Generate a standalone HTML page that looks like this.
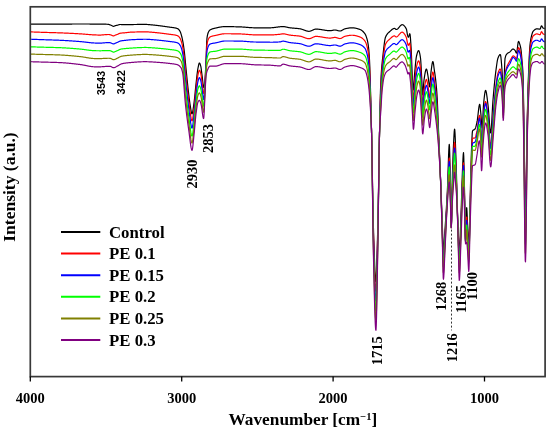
<!DOCTYPE html>
<html><head><meta charset="utf-8"><title>FTIR spectra</title>
<style>html,body{margin:0;padding:0;background:#fff;}svg{display:block;}</style>
</head><body>
<svg width="550" height="433" viewBox="0 0 550 433">
<rect width="550" height="433" fill="#fff"/>
<g fill="none" stroke-width="1.2" stroke-linejoin="round">
<path d="M30.50,24.20L30.75,24.20L31.00,24.20L31.25,24.20L31.50,24.20L31.75,24.20L32.00,24.20L32.25,24.20L32.50,24.20L32.75,24.20L33.00,24.20L33.25,24.20L33.50,24.20L33.75,24.20L34.00,24.20L34.25,24.20L34.50,24.20L34.75,24.20L35.00,24.20L35.25,24.20L35.50,24.20L35.75,24.20L36.00,24.20L36.25,24.20L36.50,24.20L36.75,24.20L37.00,24.20L37.25,24.20L37.50,24.20L37.75,24.20L38.00,24.20L38.25,24.20L38.50,24.20L38.75,24.20L39.00,24.20L39.25,24.20L39.50,24.20L39.75,24.20L40.00,24.20L40.25,24.20L40.50,24.20L40.75,24.20L41.00,24.20L41.25,24.20L41.50,24.20L41.75,24.20L42.00,24.20L42.25,24.20L42.50,24.20L42.75,24.20L43.00,24.20L43.25,24.20L43.50,24.19L43.75,24.19L44.00,24.19L44.25,24.19L44.50,24.19L44.75,24.19L45.00,24.19L45.25,24.19L45.50,24.19L45.75,24.19L46.00,24.18L46.25,24.18L46.50,24.18L46.75,24.18L47.00,24.18L47.25,24.18L47.50,24.18L47.75,24.18L48.00,24.17L48.25,24.17L48.50,24.17L48.75,24.17L49.00,24.17L49.25,24.17L49.50,24.17L49.75,24.16L50.00,24.16L50.25,24.16L50.50,24.16L50.75,24.16L51.00,24.16L51.25,24.15L51.50,24.15L51.75,24.15L52.00,24.15L52.25,24.15L52.50,24.15L52.75,24.14L53.00,24.14L53.25,24.14L53.50,24.14L53.75,24.14L54.00,24.14L54.25,24.13L54.50,24.13L54.75,24.13L55.00,24.13L55.25,24.13L55.50,24.13L55.75,24.12L56.00,24.12L56.25,24.12L56.50,24.12L56.75,24.12L57.00,24.12L57.25,24.12L57.50,24.11L57.75,24.11L58.00,24.11L58.25,24.11L58.50,24.11L58.75,24.11L59.00,24.11L59.25,24.10L59.50,24.10L59.75,24.10L60.00,24.10L60.25,24.10L60.50,24.10L60.75,24.10L61.00,24.09L61.25,24.09L61.50,24.09L61.75,24.09L62.00,24.09L62.25,24.09L62.50,24.09L62.75,24.08L63.00,24.08L63.25,24.08L63.50,24.08L63.75,24.08L64.00,24.08L64.25,24.08L64.50,24.07L64.75,24.07L65.00,24.07L65.25,24.07L65.50,24.07L65.75,24.07L66.00,24.06L66.25,24.06L66.50,24.06L66.75,24.06L67.00,24.06L67.25,24.06L67.50,24.05L67.75,24.05L68.00,24.05L68.25,24.05L68.50,24.05L68.75,24.05L69.00,24.04L69.25,24.04L69.50,24.04L69.75,24.04L70.00,24.04L70.25,24.04L70.50,24.03L70.75,24.03L71.00,24.03L71.25,24.03L71.50,24.03L71.75,24.03L72.00,24.03L72.25,24.02L72.50,24.02L72.75,24.02L73.00,24.02L73.25,24.02L73.50,24.02L73.75,24.02L74.00,24.02L74.25,24.01L74.50,24.01L74.75,24.01L75.00,24.01L75.25,24.01L75.50,24.01L75.75,24.01L76.00,24.01L76.25,24.01L76.50,24.01L76.75,24.00L77.00,24.00L77.25,24.00L77.50,24.00L77.75,24.00L78.00,24.00L78.25,24.00L78.50,24.00L78.75,24.00L79.00,24.00L79.25,24.00L79.50,24.00L79.75,24.00L80.00,24.00L80.25,24.00L80.50,24.00L80.75,24.00L81.00,24.00L81.25,24.00L81.50,24.00L81.75,24.00L82.00,24.00L82.25,24.00L82.50,24.00L82.75,24.00L83.00,24.00L83.25,24.00L83.50,24.00L83.75,24.00L84.00,24.00L84.25,24.01L84.50,24.01L84.75,24.01L85.00,24.01L85.25,24.01L85.50,24.01L85.75,24.01L86.00,24.01L86.25,24.01L86.50,24.01L86.75,24.01L87.00,24.01L87.25,24.01L87.50,24.02L87.75,24.02L88.00,24.02L88.25,24.02L88.50,24.02L88.75,24.02L89.00,24.02L89.25,24.02L89.50,24.02L89.75,24.03L90.00,24.03L90.25,24.03L90.50,24.03L90.75,24.03L91.00,24.03L91.25,24.03L91.50,24.04L91.75,24.04L92.00,24.04L92.25,24.04L92.50,24.04L92.75,24.04L93.00,24.04L93.25,24.05L93.50,24.05L93.75,24.05L94.00,24.05L94.25,24.05L94.50,24.05L94.75,24.06L95.00,24.06L95.25,24.06L95.50,24.06L95.75,24.06L96.00,24.07L96.25,24.07L96.50,24.07L96.75,24.07L97.00,24.07L97.25,24.08L97.50,24.08L97.75,24.08L98.00,24.08L98.25,24.08L98.50,24.09L98.75,24.09L99.00,24.09L99.25,24.09L99.50,24.10L99.75,24.10L100.00,24.10L100.25,24.10L100.50,24.10L100.75,24.11L101.00,24.11L101.25,24.11L101.50,24.12L101.75,24.12L102.00,24.12L102.25,24.13L102.50,24.13L102.75,24.13L103.00,24.14L103.25,24.14L103.50,24.15L103.75,24.15L104.00,24.16L104.25,24.16L104.50,24.17L104.75,24.17L105.00,24.18L105.25,24.19L105.50,24.20L105.75,24.20L106.00,24.21L106.25,24.22L106.50,24.23L106.75,24.24L107.00,24.25L107.25,24.26L107.50,24.27L107.75,24.29L108.00,24.30L108.25,24.32L108.50,24.36L108.75,24.41L109.00,24.48L109.25,24.55L109.50,24.64L109.75,24.73L110.00,24.82L110.25,24.92L110.50,25.01L110.75,25.11L111.00,25.20L111.25,25.30L111.50,25.42L111.75,25.56L112.00,25.70L112.25,25.84L112.50,25.97L112.75,26.09L113.00,26.19L113.25,26.26L113.50,26.30L113.75,26.29L114.00,26.24L114.25,26.15L114.50,26.04L114.75,25.91L115.00,25.79L115.25,25.68L115.50,25.60L115.75,25.54L116.00,25.49L116.25,25.44L116.50,25.39L116.75,25.35L117.00,25.30L117.25,25.25L117.50,25.20L117.75,25.13L118.00,25.05L118.25,24.96L118.50,24.87L118.75,24.78L119.00,24.69L119.25,24.61L119.50,24.55L119.75,24.51L120.00,24.50L120.25,24.50L120.50,24.51L120.75,24.51L121.00,24.52L121.25,24.53L121.50,24.54L121.75,24.56L122.00,24.57L122.25,24.59L122.50,24.60L122.75,24.61L123.00,24.63L123.25,24.64L123.50,24.66L123.75,24.67L124.00,24.68L124.25,24.69L124.50,24.69L124.75,24.70L125.00,24.70L125.25,24.70L125.50,24.70L125.75,24.70L126.00,24.70L126.25,24.69L126.50,24.69L126.75,24.69L127.00,24.68L127.25,24.68L127.50,24.68L127.75,24.67L128.00,24.67L128.25,24.66L128.50,24.65L128.75,24.65L129.00,24.64L129.25,24.64L129.50,24.63L129.75,24.62L130.00,24.62L130.25,24.61L130.50,24.60L130.75,24.60L131.00,24.59L131.25,24.58L131.50,24.58L131.75,24.57L132.00,24.56L132.25,24.56L132.50,24.55L132.75,24.54L133.00,24.54L133.25,24.53L133.50,24.53L133.75,24.52L134.00,24.52L134.25,24.51L134.50,24.51L134.75,24.50L135.00,24.50L135.25,24.50L135.50,24.49L135.75,24.49L136.00,24.49L136.25,24.48L136.50,24.48L136.75,24.48L137.00,24.47L137.25,24.47L137.50,24.47L137.75,24.46L138.00,24.46L138.25,24.46L138.50,24.45L138.75,24.45L139.00,24.45L139.25,24.44L139.50,24.44L139.75,24.44L140.00,24.43L140.25,24.43L140.50,24.43L140.75,24.42L141.00,24.42L141.25,24.42L141.50,24.42L141.75,24.42L142.00,24.41L142.25,24.41L142.50,24.41L142.75,24.41L143.00,24.41L143.25,24.40L143.50,24.40L143.75,24.40L144.00,24.40L144.25,24.40L144.50,24.40L144.75,24.40L145.00,24.40L145.25,24.40L145.50,24.40L145.75,24.41L146.00,24.42L146.25,24.43L146.50,24.44L146.75,24.45L147.00,24.46L147.25,24.48L147.50,24.50L147.75,24.51L148.00,24.53L148.25,24.55L148.50,24.57L148.75,24.60L149.00,24.62L149.25,24.64L149.50,24.66L149.75,24.69L150.00,24.71L150.25,24.74L150.50,24.76L150.75,24.78L151.00,24.81L151.25,24.83L151.50,24.86L151.75,24.88L152.00,24.90L152.25,24.92L152.50,24.94L152.75,24.97L153.00,24.99L153.25,25.02L153.50,25.04L153.75,25.07L154.00,25.09L154.25,25.12L154.50,25.14L154.75,25.17L155.00,25.20L155.25,25.23L155.50,25.26L155.75,25.28L156.00,25.31L156.25,25.34L156.50,25.37L156.75,25.40L157.00,25.43L157.25,25.46L157.50,25.49L157.75,25.52L158.00,25.55L158.25,25.58L158.50,25.61L158.75,25.64L159.00,25.68L159.25,25.71L159.50,25.74L159.75,25.77L160.00,25.80L160.25,25.83L160.50,25.86L160.75,25.89L161.00,25.93L161.25,25.96L161.50,25.99L161.75,26.03L162.00,26.06L162.25,26.09L162.50,26.13L162.75,26.16L163.00,26.20L163.25,26.23L163.50,26.27L163.75,26.30L164.00,26.34L164.25,26.37L164.50,26.41L164.75,26.44L165.00,26.48L165.25,26.52L165.50,26.55L165.75,26.59L166.00,26.62L166.25,26.66L166.50,26.70L166.75,26.73L167.00,26.77L167.25,26.81L167.50,26.84L167.75,26.88L168.00,26.91L168.25,26.95L168.50,26.99L168.75,27.02L169.00,27.06L169.25,27.09L169.50,27.13L169.75,27.16L170.00,27.20L170.25,27.23L170.50,27.27L170.75,27.30L171.00,27.33L171.25,27.36L171.50,27.39L171.75,27.42L172.00,27.45L172.25,27.48L172.50,27.51L172.75,27.54L173.00,27.57L173.25,27.61L173.50,27.64L173.75,27.68L174.00,27.72L174.25,27.76L174.50,27.80L174.75,27.85L175.00,27.90L175.25,27.95L175.50,28.01L175.75,28.07L176.00,28.13L176.25,28.20L176.50,28.27L176.75,28.36L177.00,28.45L177.25,28.54L177.50,28.65L177.75,28.77L178.00,28.90L178.25,29.06L178.50,29.27L178.75,29.51L179.00,29.80L179.25,30.13L179.50,30.49L179.75,30.88L180.00,31.30L180.25,31.79L180.50,32.38L180.75,33.06L181.00,33.83L181.25,34.66L181.50,35.56L181.75,36.51L182.00,37.50L182.25,38.57L182.50,39.75L182.75,41.05L183.00,42.45L183.25,43.95L183.50,45.55L183.75,47.23L184.00,49.00L184.25,50.96L184.50,53.17L184.75,55.58L185.00,58.12L185.25,60.75L185.50,63.39L185.75,65.99L186.00,68.50L186.25,70.96L186.50,73.47L186.75,75.98L187.00,78.49L187.25,80.97L187.50,83.40L187.75,85.75L188.00,88.00L188.25,90.20L188.50,92.40L188.75,94.57L189.00,96.68L189.25,98.70L189.50,100.61L189.75,102.39L190.00,104.00L190.25,105.58L190.50,107.24L190.75,108.88L191.00,110.42L191.25,111.77L191.50,112.84L191.75,113.55L192.00,113.80L192.25,113.52L192.50,112.76L192.75,111.59L193.00,110.12L193.25,108.43L193.50,106.62L193.75,104.78L194.00,103.00L194.25,101.10L194.50,98.91L194.75,96.50L195.00,93.95L195.25,91.35L195.50,88.77L195.75,86.29L196.00,84.00L196.25,81.78L196.50,79.51L196.75,77.24L197.00,75.04L197.25,72.95L197.50,71.04L197.75,69.37L198.00,68.00L198.25,66.76L198.50,65.54L198.75,64.45L199.00,63.60L199.25,63.09L199.50,63.03L199.75,63.30L200.00,63.81L200.25,64.50L200.50,65.31L200.75,66.19L201.00,67.46L201.25,69.17L201.50,71.13L201.75,73.13L202.00,75.00L202.25,76.94L202.50,79.17L202.75,81.47L203.00,83.66L203.25,85.52L203.50,86.86L203.75,87.48L204.00,87.21L204.25,86.15L204.50,84.47L204.75,82.36L205.00,80.00L205.25,76.50L205.50,71.41L205.75,65.62L206.00,60.00L206.25,53.95L206.50,47.27L206.75,41.45L207.00,38.00L207.25,36.39L207.50,35.09L207.75,34.04L208.00,33.21L208.25,32.55L208.50,32.00L208.75,31.53L209.00,31.11L209.25,30.74L209.50,30.44L209.75,30.19L210.00,30.00L210.25,29.85L210.50,29.70L210.75,29.57L211.00,29.45L211.25,29.33L211.50,29.22L211.75,29.12L212.00,29.02L212.25,28.93L212.50,28.85L212.75,28.77L213.00,28.70L213.25,28.63L213.50,28.56L213.75,28.50L214.00,28.43L214.25,28.37L214.50,28.32L214.75,28.26L215.00,28.20L215.25,28.14L215.50,28.08L215.75,28.03L216.00,27.97L216.25,27.91L216.50,27.85L216.75,27.79L217.00,27.74L217.25,27.68L217.50,27.62L217.75,27.57L218.00,27.51L218.25,27.46L218.50,27.41L218.75,27.35L219.00,27.30L219.25,27.25L219.50,27.20L219.75,27.16L220.00,27.11L220.25,27.07L220.50,27.02L220.75,26.98L221.00,26.94L221.25,26.90L221.50,26.87L221.75,26.83L222.00,26.80L222.25,26.77L222.50,26.74L222.75,26.72L223.00,26.69L223.25,26.67L223.50,26.65L223.75,26.64L224.00,26.62L224.25,26.61L224.50,26.61L224.75,26.60L225.00,26.60L225.25,26.60L225.50,26.60L225.75,26.60L226.00,26.60L226.25,26.60L226.50,26.60L226.75,26.61L227.00,26.61L227.25,26.61L227.50,26.61L227.75,26.61L228.00,26.62L228.25,26.62L228.50,26.62L228.75,26.63L229.00,26.63L229.25,26.63L229.50,26.64L229.75,26.64L230.00,26.64L230.25,26.65L230.50,26.65L230.75,26.66L231.00,26.66L231.25,26.67L231.50,26.67L231.75,26.68L232.00,26.68L232.25,26.69L232.50,26.69L232.75,26.70L233.00,26.71L233.25,26.71L233.50,26.72L233.75,26.72L234.00,26.73L234.25,26.74L234.50,26.74L234.75,26.75L235.00,26.76L235.25,26.76L235.50,26.77L235.75,26.78L236.00,26.78L236.25,26.79L236.50,26.80L236.75,26.80L237.00,26.81L237.25,26.82L237.50,26.83L237.75,26.83L238.00,26.84L238.25,26.85L238.50,26.86L238.75,26.86L239.00,26.87L239.25,26.88L239.50,26.89L239.75,26.89L240.00,26.90L240.25,26.91L240.50,26.92L240.75,26.93L241.00,26.94L241.25,26.95L241.50,26.96L241.75,26.97L242.00,26.99L242.25,27.00L242.50,27.02L242.75,27.03L243.00,27.05L243.25,27.07L243.50,27.09L243.75,27.10L244.00,27.12L244.25,27.14L244.50,27.16L244.75,27.18L245.00,27.20L245.25,27.22L245.50,27.24L245.75,27.26L246.00,27.28L246.25,27.30L246.50,27.32L246.75,27.34L247.00,27.36L247.25,27.39L247.50,27.41L247.75,27.43L248.00,27.45L248.25,27.47L248.50,27.49L248.75,27.51L249.00,27.53L249.25,27.55L249.50,27.56L249.75,27.58L250.00,27.60L250.25,27.62L250.50,27.63L250.75,27.65L251.00,27.67L251.25,27.68L251.50,27.69L251.75,27.71L252.00,27.72L252.25,27.73L252.50,27.74L252.75,27.75L253.00,27.76L253.25,27.77L253.50,27.78L253.75,27.79L254.00,27.79L254.25,27.79L254.50,27.80L254.75,27.80L255.00,27.80L255.25,27.80L255.50,27.80L255.75,27.80L256.00,27.80L256.25,27.80L256.50,27.80L256.75,27.80L257.00,27.80L257.25,27.80L257.50,27.80L257.75,27.80L258.00,27.80L258.25,27.80L258.50,27.80L258.75,27.80L259.00,27.80L259.25,27.80L259.50,27.80L259.75,27.80L260.00,27.80L260.25,27.80L260.50,27.80L260.75,27.80L261.00,27.80L261.25,27.80L261.50,27.80L261.75,27.80L262.00,27.80L262.25,27.80L262.50,27.80L262.75,27.80L263.00,27.80L263.25,27.80L263.50,27.80L263.75,27.80L264.00,27.80L264.25,27.80L264.50,27.80L264.75,27.80L265.00,27.80L265.25,27.80L265.50,27.80L265.75,27.80L266.00,27.80L266.25,27.80L266.50,27.80L266.75,27.80L267.00,27.80L267.25,27.80L267.50,27.80L267.75,27.80L268.00,27.80L268.25,27.80L268.50,27.80L268.75,27.80L269.00,27.80L269.25,27.80L269.50,27.80L269.75,27.80L270.00,27.80L270.25,27.80L270.50,27.79L270.75,27.79L271.00,27.78L271.25,27.77L271.50,27.76L271.75,27.74L272.00,27.72L272.25,27.70L272.50,27.68L272.75,27.66L273.00,27.64L273.25,27.61L273.50,27.59L273.75,27.56L274.00,27.53L274.25,27.50L274.50,27.47L274.75,27.44L275.00,27.40L275.25,27.37L275.50,27.34L275.75,27.30L276.00,27.27L276.25,27.23L276.50,27.20L276.75,27.17L277.00,27.13L277.25,27.10L277.50,27.06L277.75,27.03L278.00,27.00L278.25,26.96L278.50,26.93L278.75,26.90L279.00,26.87L279.25,26.84L279.50,26.81L279.75,26.79L280.00,26.76L280.25,26.74L280.50,26.72L280.75,26.70L281.00,26.68L281.25,26.66L281.50,26.64L281.75,26.63L282.00,26.62L282.25,26.61L282.50,26.61L282.75,26.60L283.00,26.60L283.25,26.60L283.50,26.61L283.75,26.63L284.00,26.65L284.25,26.68L284.50,26.71L284.75,26.75L285.00,26.79L285.25,26.83L285.50,26.88L285.75,26.93L286.00,26.98L286.25,27.03L286.50,27.09L286.75,27.14L287.00,27.20L287.25,27.26L287.50,27.32L287.75,27.37L288.00,27.43L288.25,27.49L288.50,27.54L288.75,27.59L289.00,27.64L289.25,27.68L289.50,27.73L289.75,27.77L290.00,27.80L290.25,27.83L290.50,27.86L290.75,27.89L291.00,27.92L291.25,27.95L291.50,27.97L291.75,28.00L292.00,28.02L292.25,28.04L292.50,28.07L292.75,28.09L293.00,28.11L293.25,28.13L293.50,28.15L293.75,28.17L294.00,28.19L294.25,28.21L294.50,28.23L294.75,28.25L295.00,28.28L295.25,28.30L295.50,28.32L295.75,28.34L296.00,28.36L296.25,28.38L296.50,28.40L296.75,28.42L297.00,28.45L297.25,28.47L297.50,28.50L297.75,28.52L298.00,28.55L298.25,28.57L298.50,28.60L298.75,28.63L299.00,28.66L299.25,28.70L299.50,28.73L299.75,28.76L300.00,28.80L300.25,28.84L300.50,28.89L300.75,28.94L301.00,29.00L301.25,29.07L301.50,29.14L301.75,29.22L302.00,29.29L302.25,29.38L302.50,29.46L302.75,29.55L303.00,29.65L303.25,29.74L303.50,29.83L303.75,29.93L304.00,30.03L304.25,30.12L304.50,30.22L304.75,30.31L305.00,30.40L305.25,30.49L305.50,30.58L305.75,30.67L306.00,30.75L306.25,30.83L306.50,30.90L306.75,30.97L307.00,31.04L307.25,31.09L307.50,31.15L307.75,31.19L308.00,31.23L308.25,31.26L308.50,31.28L308.75,31.30L309.00,31.30L309.25,31.29L309.50,31.27L309.75,31.23L310.00,31.18L310.25,31.11L310.50,31.04L310.75,30.96L311.00,30.86L311.25,30.76L311.50,30.66L311.75,30.55L312.00,30.43L312.25,30.32L312.50,30.20L312.75,30.08L313.00,29.97L313.25,29.85L313.50,29.74L313.75,29.64L314.00,29.54L314.25,29.44L314.50,29.36L314.75,29.29L315.00,29.22L315.25,29.17L315.50,29.13L315.75,29.11L316.00,29.10L316.25,29.10L316.50,29.11L316.75,29.11L317.00,29.12L317.25,29.14L317.50,29.15L317.75,29.17L318.00,29.19L318.25,29.21L318.50,29.23L318.75,29.26L319.00,29.29L319.25,29.32L319.50,29.35L319.75,29.38L320.00,29.42L320.25,29.45L320.50,29.49L320.75,29.53L321.00,29.57L321.25,29.61L321.50,29.65L321.75,29.69L322.00,29.73L322.25,29.77L322.50,29.81L322.75,29.86L323.00,29.90L323.25,29.94L323.50,29.99L323.75,30.03L324.00,30.07L324.25,30.11L324.50,30.15L324.75,30.19L325.00,30.23L325.25,30.27L325.50,30.31L325.75,30.35L326.00,30.38L326.25,30.42L326.50,30.45L326.75,30.48L327.00,30.51L327.25,30.54L327.50,30.57L327.75,30.59L328.00,30.61L328.25,30.63L328.50,30.65L328.75,30.66L329.00,30.68L329.25,30.69L329.50,30.69L329.75,30.70L330.00,30.70L330.25,30.69L330.50,30.68L330.75,30.66L331.00,30.63L331.25,30.59L331.50,30.55L331.75,30.50L332.00,30.45L332.25,30.40L332.50,30.35L332.75,30.30L333.00,30.25L333.25,30.20L333.50,30.15L333.75,30.11L334.00,30.07L334.25,30.04L334.50,30.02L334.75,30.01L335.00,30.00L335.25,30.01L335.50,30.03L335.75,30.06L336.00,30.10L336.25,30.16L336.50,30.22L336.75,30.28L337.00,30.35L337.25,30.43L337.50,30.50L337.75,30.57L338.00,30.65L338.25,30.72L338.50,30.78L338.75,30.84L339.00,30.90L339.25,30.94L339.50,30.97L339.75,30.99L340.00,31.00L340.25,30.99L340.50,30.95L340.75,30.89L341.00,30.81L341.25,30.71L341.50,30.59L341.75,30.47L342.00,30.33L342.25,30.19L342.50,30.04L342.75,29.89L343.00,29.73L343.25,29.58L343.50,29.44L343.75,29.30L344.00,29.17L344.25,29.05L344.50,28.95L344.75,28.87L345.00,28.80L345.25,28.74L345.50,28.69L345.75,28.64L346.00,28.58L346.25,28.53L346.50,28.48L346.75,28.43L347.00,28.38L347.25,28.33L347.50,28.28L347.75,28.23L348.00,28.19L348.25,28.15L348.50,28.11L348.75,28.07L349.00,28.03L349.25,28.00L349.50,27.96L349.75,27.93L350.00,27.91L350.25,27.88L350.50,27.86L350.75,27.84L351.00,27.83L351.25,27.82L351.50,27.81L351.75,27.80L352.00,27.80L352.25,27.80L352.50,27.81L352.75,27.82L353.00,27.83L353.25,27.85L353.50,27.87L353.75,27.90L354.00,27.93L354.25,27.96L354.50,28.00L354.75,28.04L355.00,28.09L355.25,28.13L355.50,28.18L355.75,28.23L356.00,28.29L356.25,28.35L356.50,28.41L356.75,28.47L357.00,28.54L357.25,28.61L357.50,28.68L357.75,28.75L358.00,28.83L358.25,28.91L358.50,28.99L358.75,29.07L359.00,29.15L359.25,29.24L359.50,29.32L359.75,29.41L360.00,29.50L360.25,29.60L360.50,29.71L360.75,29.83L361.00,29.96L361.25,30.11L361.50,30.27L361.75,30.45L362.00,30.63L362.25,30.83L362.50,31.05L362.75,31.27L363.00,31.51L363.25,31.76L363.50,32.03L363.75,32.31L364.00,32.60L364.25,32.91L364.50,33.22L364.75,33.56L365.00,33.90L365.25,34.29L365.50,34.76L365.75,35.31L366.00,35.92L366.25,36.61L366.50,37.35L366.75,38.15L367.00,39.00L367.25,39.93L367.50,40.99L367.75,42.20L368.00,43.59L368.25,45.18L368.50,47.00L368.75,49.28L369.00,52.21L369.25,55.78L369.50,60.00L369.75,65.63L370.00,72.98L370.25,81.34L370.50,90.00L370.75,99.01L371.00,108.80L371.25,119.18L371.50,130.00L371.75,141.86L372.00,155.10L372.25,169.12L372.50,183.33L372.75,197.11L373.00,209.88L373.25,221.05L373.50,230.00L373.75,237.71L374.00,245.42L374.25,252.91L374.50,259.97L374.75,266.41L375.00,272.00L375.25,276.55L375.50,279.85L375.75,281.68L376.00,281.73L376.25,278.91L376.50,273.48L376.75,266.05L377.00,257.20L377.25,247.54L377.50,237.66L377.75,228.09L378.00,217.30L378.25,204.78L378.50,191.07L378.75,176.70L379.00,162.20L379.25,148.09L379.50,134.90L379.75,122.65L380.00,110.17L380.25,98.77L380.50,90.00L380.75,83.62L381.00,78.25L381.25,73.76L381.50,70.00L381.75,66.79L382.00,63.99L382.25,61.50L382.50,59.21L382.75,57.03L383.00,54.85L383.25,52.61L383.50,50.36L383.75,48.15L384.00,46.01L384.25,43.99L384.50,42.13L384.75,40.48L385.00,39.08L385.25,37.97L385.50,37.20L385.75,36.63L386.00,36.11L386.25,35.63L386.50,35.19L386.75,34.78L387.00,34.41L387.25,34.06L387.50,33.75L387.75,33.45L388.00,33.18L388.25,32.92L388.50,32.68L388.75,32.45L389.00,32.22L389.25,32.00L389.50,31.78L389.75,31.56L390.00,31.33L390.25,31.10L390.50,30.87L390.75,30.63L391.00,30.40L391.25,30.18L391.50,29.96L391.75,29.74L392.00,29.54L392.25,29.35L392.50,29.17L392.75,29.00L393.00,28.85L393.25,28.72L393.50,28.61L393.75,28.52L394.00,28.46L394.25,28.41L394.50,28.40L394.75,28.46L395.00,28.61L395.25,28.81L395.50,29.04L395.75,29.25L396.00,29.42L396.25,29.50L396.50,29.48L396.75,29.42L397.00,29.31L397.25,29.17L397.50,28.99L397.75,28.77L398.00,28.53L398.25,28.27L398.50,28.00L398.75,27.70L399.00,27.40L399.25,27.10L399.50,26.80L399.75,26.50L400.00,26.20L400.25,25.93L400.50,25.67L400.75,25.43L401.00,25.21L401.25,25.03L401.50,24.89L401.75,24.78L402.00,24.72L402.25,24.70L402.50,24.73L402.75,24.79L403.00,24.88L403.25,25.01L403.50,25.16L403.75,25.35L404.00,25.58L404.25,25.83L404.50,26.11L404.75,26.41L405.00,26.75L405.25,27.11L405.50,27.50L405.75,27.91L406.00,28.35L406.25,28.81L406.50,29.49L406.75,30.71L407.00,32.21L407.25,33.74L407.50,35.06L407.75,35.94L408.00,36.62L408.25,37.10L408.50,37.15L408.75,36.65L409.00,35.82L409.25,34.90L409.50,34.11L409.75,33.71L410.00,34.19L410.25,36.00L410.50,38.84L410.75,42.40L411.00,46.36L411.25,50.47L411.50,56.32L411.75,63.56L412.00,70.59L412.25,75.90L412.50,80.57L412.75,84.95L413.00,88.32L413.25,89.95L413.50,89.19L413.75,86.41L414.00,82.50L414.25,78.39L414.50,75.00L414.75,72.20L415.00,69.34L415.25,66.50L415.50,63.79L415.75,61.28L416.00,59.09L416.25,57.30L416.50,56.00L416.75,55.00L417.00,54.05L417.25,53.17L417.50,52.38L417.75,51.71L418.00,51.17L418.25,50.80L418.50,50.62L418.75,50.66L419.00,51.01L419.25,51.64L419.50,52.53L419.75,53.64L420.00,54.94L420.25,56.41L420.50,58.00L420.75,60.55L421.00,64.52L421.25,69.33L421.50,74.40L421.75,79.14L422.00,83.92L422.25,89.39L422.50,93.69L422.75,94.95L423.00,93.34L423.25,90.14L423.50,86.25L423.75,82.57L424.00,80.00L424.25,78.29L424.50,76.62L424.75,75.02L425.00,73.53L425.25,72.19L425.50,71.03L425.75,70.10L426.00,69.43L426.25,69.06L426.50,69.05L426.75,69.55L427.00,70.48L427.25,71.72L427.50,73.15L427.75,74.61L428.00,76.00L428.25,77.59L428.50,79.59L428.75,81.75L429.00,83.82L429.25,85.55L429.50,86.69L429.75,86.95L430.00,85.38L430.25,82.24L430.50,78.40L430.75,74.70L431.00,72.00L431.25,70.06L431.50,68.13L431.75,66.28L432.00,64.62L432.25,63.23L432.50,62.19L432.75,61.60L433.00,61.58L433.25,62.40L433.50,63.88L433.75,65.77L434.00,67.78L434.25,69.66L434.50,71.30L434.75,72.94L435.00,74.64L435.25,76.48L435.50,78.50L435.75,80.69L436.00,83.02L436.25,85.55L436.50,88.35L436.75,91.48L437.00,95.00L437.25,99.37L437.50,104.77L437.75,110.87L438.00,117.34L438.25,123.82L438.50,130.00L438.75,135.90L439.00,141.77L439.25,147.65L439.50,153.54L439.75,159.46L440.00,165.42L440.25,171.44L440.50,177.53L440.75,183.71L441.00,190.00L441.25,196.53L441.50,203.34L441.75,210.25L442.00,217.10L442.25,223.74L442.50,230.00L442.75,236.91L443.00,244.04L443.25,249.02L443.50,249.87L443.75,248.54L444.00,246.00L444.25,242.55L444.50,238.50L444.75,234.15L445.00,229.80L445.25,225.75L445.50,222.05L445.75,218.29L446.00,214.43L446.25,210.46L446.50,206.35L446.75,202.07L447.00,197.60L447.25,192.92L447.50,187.86L447.75,181.31L448.00,173.63L448.25,165.57L448.50,157.87L448.75,151.26L449.00,146.48L449.25,144.27L449.50,146.56L449.75,154.68L450.00,166.00L450.25,177.82L450.50,191.09L450.75,208.29L451.00,222.54L451.25,226.79L451.50,220.49L451.75,208.28L452.00,194.10L452.25,181.87L452.50,173.12L452.75,164.85L453.00,157.23L453.25,150.52L453.50,145.00L453.75,140.01L454.00,135.21L454.25,131.36L454.50,129.21L454.75,129.61L455.00,132.96L455.25,138.51L455.50,145.42L455.75,152.87L456.00,160.00L456.25,167.53L456.50,176.32L456.75,185.78L457.00,195.32L457.25,204.34L457.50,212.27L457.75,218.99L458.00,225.94L458.25,232.84L458.50,239.19L458.75,244.49L459.00,248.24L459.25,249.95L459.50,249.17L459.75,246.09L460.00,241.24L460.25,235.17L460.50,228.41L460.75,221.51L461.00,215.00L461.25,208.17L461.50,200.30L461.75,191.98L462.00,183.77L462.25,176.25L462.50,170.00L462.75,164.21L463.00,158.53L463.25,154.22L463.50,152.50L463.75,156.44L464.00,166.12L464.25,178.37L464.50,190.00L464.75,202.70L465.00,217.70L465.25,231.15L465.50,239.17L465.75,238.00L466.00,228.38L466.25,216.30L466.50,207.92L466.75,207.74L467.00,211.56L467.25,217.19L467.50,222.99L467.75,228.12L468.00,234.26L468.25,240.47L468.50,245.45L468.75,247.92L469.00,245.82L469.25,238.22L469.50,227.34L469.75,215.50L470.00,205.00L470.25,195.49L470.50,185.41L470.75,175.30L471.00,165.68L471.25,157.07L471.50,150.00L471.75,143.67L472.00,137.66L472.25,133.07L472.50,131.00L472.75,130.62L473.00,130.33L473.25,130.13L473.50,129.98L473.75,129.86L474.00,129.76L474.25,129.64L474.50,129.49L474.75,129.29L475.00,129.00L475.25,128.57L475.50,127.95L475.75,127.18L476.00,126.29L476.25,125.30L476.50,124.23L476.75,123.12L477.00,122.00L477.25,120.65L477.50,118.91L477.75,116.90L478.00,114.73L478.25,112.51L478.50,110.35L478.75,108.36L479.00,106.65L479.25,105.33L479.50,104.52L479.75,104.33L480.00,105.41L480.25,107.52L480.50,110.07L480.75,112.47L481.00,115.36L481.25,118.83L481.50,122.34L481.75,125.38L482.00,127.43L482.25,127.92L482.50,125.44L482.75,120.52L483.00,114.55L483.25,108.91L483.50,105.00L483.75,102.42L484.00,99.91L484.25,97.54L484.50,95.39L484.75,93.52L485.00,92.03L485.25,90.98L485.50,90.45L485.75,90.50L486.00,91.06L486.25,92.05L486.50,93.41L486.75,95.05L487.00,96.91L487.25,98.91L487.50,100.97L487.75,103.03L488.00,105.00L488.25,107.25L488.50,110.06L488.75,113.27L489.00,116.70L489.25,120.20L489.50,123.58L489.75,126.69L490.00,129.36L490.25,131.40L490.50,132.67L490.75,132.97L491.00,131.87L491.25,129.43L491.50,125.96L491.75,121.74L492.00,117.09L492.25,112.28L492.50,107.64L492.75,103.44L493.00,100.00L493.25,97.06L493.50,94.17L493.75,91.34L494.00,88.58L494.25,85.90L494.50,83.31L494.75,80.81L495.00,78.42L495.25,76.13L495.50,73.96L495.75,71.91L496.00,70.00L496.25,68.14L496.50,66.28L496.75,64.47L497.00,62.77L497.25,61.22L497.50,59.88L497.75,58.79L498.00,58.00L498.25,57.40L498.50,56.82L498.75,56.29L499.00,55.80L499.25,55.38L499.50,55.03L499.75,54.76L500.00,54.58L500.25,54.50L500.50,54.83L500.75,56.05L501.00,58.03L501.25,60.59L501.50,63.55L501.75,66.75L502.00,70.00L502.25,74.71L502.50,81.35L502.75,88.32L503.00,94.04L503.25,96.91L503.50,95.44L503.75,90.17L504.00,83.08L504.25,76.18L504.50,69.66L504.75,62.68L505.00,58.70L505.25,57.54L505.50,56.60L505.75,55.85L506.00,55.25L506.25,54.77L506.50,54.39L506.75,54.08L507.00,53.80L507.25,53.55L507.50,53.33L507.75,53.14L508.00,52.97L508.25,52.82L508.50,52.68L508.75,52.55L509.00,52.42L509.25,52.29L509.50,52.14L509.75,51.98L510.00,51.80L510.25,51.58L510.50,51.32L510.75,51.03L511.00,50.73L511.25,50.42L511.50,50.11L511.75,49.82L512.00,49.55L512.25,49.33L512.50,49.15L512.75,49.04L513.00,49.00L513.25,49.03L513.50,49.12L513.75,49.26L514.00,49.44L514.25,49.66L514.50,49.89L514.75,50.14L515.00,50.40L515.25,50.78L515.50,51.33L515.75,51.94L516.00,52.51L516.25,52.94L516.50,53.10L516.75,52.60L517.00,51.27L517.25,49.40L517.50,47.25L517.75,45.10L518.00,43.23L518.25,41.90L518.50,41.40L518.75,41.55L519.00,41.97L519.25,42.59L519.50,43.34L519.75,44.17L520.00,45.00L520.25,45.88L520.50,46.93L520.75,48.19L521.00,49.70L521.25,51.77L521.50,54.49L521.75,57.56L522.00,60.70L522.25,63.56L522.50,66.41L522.75,69.88L523.00,74.60L523.25,83.60L523.50,97.67L523.75,114.05L524.00,130.00L524.25,147.58L524.50,168.49L524.75,189.40L525.00,207.00L525.25,217.97L525.50,219.25L525.75,211.61L526.00,197.75L526.25,180.16L526.50,161.34L526.75,143.79L527.00,130.00L527.25,119.13L527.50,108.77L527.75,99.05L528.00,90.09L528.25,82.03L528.50,75.00L528.75,68.60L529.00,62.50L529.25,56.88L529.50,51.95L529.75,47.93L530.00,45.00L530.25,42.87L530.50,41.06L530.75,39.52L531.00,38.20L531.25,37.04L531.50,36.00L531.75,35.01L532.00,34.08L532.25,33.23L532.50,32.49L532.75,31.91L533.00,31.50L533.25,31.20L533.50,30.92L533.75,30.65L534.00,30.39L534.25,30.15L534.50,29.93L534.75,29.73L535.00,29.54L535.25,29.37L535.50,29.23L535.75,29.10L536.00,28.99L536.25,28.91L536.50,28.85L536.75,28.81L537.00,28.80L537.25,28.81L537.50,28.83L537.75,28.86L538.00,28.90L538.25,28.95L538.50,29.00L538.75,29.05L539.00,29.10L539.25,29.14L539.50,29.17L539.75,29.19L540.00,29.20L540.25,28.95L540.50,28.32L540.75,27.50L541.00,26.68L541.25,26.05L541.50,25.80L541.75,25.95L542.00,26.32L542.25,26.82L542.50,27.33L542.75,27.76L543.00,28.00L543.25,28.11L543.50,28.20L543.75,28.29L544.00,28.36L544.25,28.42L544.50,28.46L544.75,28.49L545.00,28.50" stroke="#000000"/>
<path d="M30.50,31.90L30.75,31.91L31.00,31.92L31.25,31.93L31.50,31.94L31.75,31.95L32.00,31.95L32.25,31.96L32.50,31.97L32.75,31.98L33.00,31.99L33.25,32.00L33.50,32.01L33.75,32.02L34.00,32.02L34.25,32.03L34.50,32.04L34.75,32.05L35.00,32.06L35.25,32.07L35.50,32.08L35.75,32.09L36.00,32.09L36.25,32.10L36.50,32.11L36.75,32.12L37.00,32.13L37.25,32.14L37.50,32.15L37.75,32.16L38.00,32.16L38.25,32.17L38.50,32.18L38.75,32.19L39.00,32.20L39.25,32.21L39.50,32.22L39.75,32.23L40.00,32.24L40.25,32.24L40.50,32.25L40.75,32.26L41.00,32.27L41.25,32.28L41.50,32.29L41.75,32.30L42.00,32.30L42.25,32.31L42.50,32.32L42.75,32.33L43.00,32.34L43.25,32.34L43.50,32.35L43.75,32.36L44.00,32.37L44.25,32.38L44.50,32.38L44.75,32.39L45.00,32.40L45.25,32.41L45.50,32.41L45.75,32.42L46.00,32.43L46.25,32.44L46.50,32.45L46.75,32.45L47.00,32.46L47.25,32.47L47.50,32.48L47.75,32.48L48.00,32.49L48.25,32.50L48.50,32.51L48.75,32.51L49.00,32.52L49.25,32.53L49.50,32.54L49.75,32.54L50.00,32.55L50.25,32.56L50.50,32.56L50.75,32.57L51.00,32.58L51.25,32.59L51.50,32.59L51.75,32.60L52.00,32.61L52.25,32.62L52.50,32.62L52.75,32.63L53.00,32.64L53.25,32.65L53.50,32.65L53.75,32.66L54.00,32.67L54.25,32.68L54.50,32.69L54.75,32.69L55.00,32.70L55.25,32.71L55.50,32.72L55.75,32.72L56.00,32.73L56.25,32.74L56.50,32.75L56.75,32.76L57.00,32.76L57.25,32.77L57.50,32.78L57.75,32.79L58.00,32.80L58.25,32.81L58.50,32.81L58.75,32.82L59.00,32.83L59.25,32.84L59.50,32.85L59.75,32.86L60.00,32.87L60.25,32.88L60.50,32.89L60.75,32.89L61.00,32.90L61.25,32.91L61.50,32.92L61.75,32.93L62.00,32.94L62.25,32.95L62.50,32.96L62.75,32.97L63.00,32.98L63.25,32.99L63.50,33.00L63.75,33.01L64.00,33.02L64.25,33.03L64.50,33.04L64.75,33.05L65.00,33.06L65.25,33.07L65.50,33.08L65.75,33.09L66.00,33.11L66.25,33.12L66.50,33.13L66.75,33.14L67.00,33.15L67.25,33.16L67.50,33.17L67.75,33.18L68.00,33.20L68.25,33.21L68.50,33.22L68.75,33.23L69.00,33.24L69.25,33.25L69.50,33.27L69.75,33.28L70.00,33.29L70.25,33.30L70.50,33.32L70.75,33.33L71.00,33.34L71.25,33.35L71.50,33.37L71.75,33.38L72.00,33.39L72.25,33.40L72.50,33.42L72.75,33.43L73.00,33.44L73.25,33.46L73.50,33.47L73.75,33.48L74.00,33.50L74.25,33.51L74.50,33.52L74.75,33.54L75.00,33.55L75.25,33.56L75.50,33.58L75.75,33.59L76.00,33.61L76.25,33.62L76.50,33.63L76.75,33.65L77.00,33.66L77.25,33.68L77.50,33.69L77.75,33.70L78.00,33.72L78.25,33.73L78.50,33.75L78.75,33.76L79.00,33.78L79.25,33.79L79.50,33.81L79.75,33.82L80.00,33.84L80.25,33.85L80.50,33.87L80.75,33.88L81.00,33.90L81.25,33.92L81.50,33.93L81.75,33.95L82.00,33.97L82.25,33.99L82.50,34.01L82.75,34.02L83.00,34.04L83.25,34.06L83.50,34.08L83.75,34.10L84.00,34.12L84.25,34.14L84.50,34.16L84.75,34.19L85.00,34.21L85.25,34.23L85.50,34.25L85.75,34.27L86.00,34.29L86.25,34.31L86.50,34.33L86.75,34.35L87.00,34.38L87.25,34.40L87.50,34.42L87.75,34.44L88.00,34.46L88.25,34.48L88.50,34.50L88.75,34.52L89.00,34.54L89.25,34.56L89.50,34.58L89.75,34.60L90.00,34.62L90.25,34.64L90.50,34.66L90.75,34.68L91.00,34.70L91.25,34.71L91.50,34.73L91.75,34.75L92.00,34.77L92.25,34.78L92.50,34.80L92.75,34.81L93.00,34.83L93.25,34.84L93.50,34.86L93.75,34.87L94.00,34.88L94.25,34.89L94.50,34.90L94.75,34.91L95.00,34.92L95.25,34.93L95.50,34.94L95.75,34.95L96.00,34.96L96.25,34.97L96.50,34.98L96.75,34.99L97.00,35.00L97.25,35.01L97.50,35.02L97.75,35.03L98.00,35.04L98.25,35.05L98.50,35.06L98.75,35.07L99.00,35.08L99.25,35.09L99.50,35.10L99.75,35.11L100.00,35.12L100.25,35.10L100.50,35.08L100.75,35.06L101.00,35.04L101.25,35.01L101.50,34.99L101.75,34.97L102.00,34.95L102.25,34.92L102.50,34.90L102.75,34.88L103.00,34.86L103.25,34.83L103.50,34.81L103.75,34.79L104.00,34.77L104.25,34.75L104.50,34.73L104.75,34.71L105.00,34.69L105.25,34.67L105.50,34.65L105.75,34.64L106.00,34.62L106.25,34.60L106.50,34.59L106.75,34.57L107.00,34.55L107.25,34.54L107.50,34.52L107.75,34.51L108.00,34.50L108.25,34.49L108.50,34.50L108.75,34.52L109.00,34.54L109.25,34.58L109.50,34.62L109.75,34.67L110.00,34.72L110.25,34.78L110.50,34.85L110.75,34.92L111.00,34.99L111.25,35.08L111.50,35.18L111.75,35.30L112.00,35.42L112.25,35.54L112.50,35.66L112.75,35.75L113.00,35.83L113.25,35.88L113.50,35.90L113.75,35.87L114.00,35.80L114.25,35.70L114.50,35.58L114.75,35.45L115.00,35.31L115.25,35.18L115.50,35.06L115.75,34.97L116.00,34.87L116.25,34.78L116.50,34.70L116.75,34.61L117.00,34.52L117.25,34.44L117.50,34.35L117.75,34.25L118.00,34.14L118.25,34.02L118.50,33.89L118.75,33.77L119.00,33.65L119.25,33.53L119.50,33.43L119.75,33.35L120.00,33.29L120.25,33.24L120.50,33.19L120.75,33.15L121.00,33.11L121.25,33.08L121.50,33.05L121.75,33.02L122.00,33.00L122.25,32.98L122.50,32.96L122.75,32.94L123.00,32.93L123.25,32.91L123.50,32.89L123.75,32.87L124.00,32.85L124.25,32.83L124.50,32.81L124.75,32.79L125.00,32.76L125.25,32.73L125.50,32.71L125.75,32.68L126.00,32.65L126.25,32.63L126.50,32.60L126.75,32.57L127.00,32.55L127.25,32.52L127.50,32.49L127.75,32.46L128.00,32.44L128.25,32.41L128.50,32.38L128.75,32.35L129.00,32.33L129.25,32.30L129.50,32.27L129.75,32.24L130.00,32.21L130.25,32.20L130.50,32.19L130.75,32.18L131.00,32.17L131.25,32.16L131.50,32.15L131.75,32.14L132.00,32.13L132.25,32.12L132.50,32.11L132.75,32.10L133.00,32.09L133.25,32.08L133.50,32.07L133.75,32.06L134.00,32.05L134.25,32.04L134.50,32.04L134.75,32.03L135.00,32.02L135.25,32.01L135.50,32.00L135.75,32.00L136.00,31.99L136.25,31.98L136.50,31.98L136.75,31.97L137.00,31.96L137.25,31.95L137.50,31.95L137.75,31.94L138.00,31.93L138.25,31.93L138.50,31.92L138.75,31.91L139.00,31.91L139.25,31.90L139.50,31.90L139.75,31.89L140.00,31.88L140.25,31.88L140.50,31.87L140.75,31.87L141.00,31.86L141.25,31.86L141.50,31.85L141.75,31.85L142.00,31.85L142.25,31.84L142.50,31.84L142.75,31.83L143.00,31.83L143.25,31.83L143.50,31.83L143.75,31.82L144.00,31.82L144.25,31.82L144.50,31.82L144.75,31.82L145.00,31.82L145.25,31.82L145.50,31.82L145.75,31.82L146.00,31.83L146.25,31.83L146.50,31.84L146.75,31.85L147.00,31.87L147.25,31.88L147.50,31.89L147.75,31.91L148.00,31.92L148.25,31.94L148.50,31.96L148.75,31.98L149.00,32.00L149.25,32.02L149.50,32.04L149.75,32.06L150.00,32.08L150.25,32.10L150.50,32.12L150.75,32.14L151.00,32.16L151.25,32.18L151.50,32.20L151.75,32.22L152.00,32.24L152.25,32.26L152.50,32.28L152.75,32.30L153.00,32.33L153.25,32.35L153.50,32.37L153.75,32.39L154.00,32.42L154.25,32.44L154.50,32.46L154.75,32.49L155.00,32.51L155.25,32.54L155.50,32.56L155.75,32.59L156.00,32.62L156.25,32.64L156.50,32.67L156.75,32.69L157.00,32.72L157.25,32.75L157.50,32.78L157.75,32.80L158.00,32.83L158.25,32.86L158.50,32.89L158.75,32.91L159.00,32.94L159.25,32.97L159.50,33.00L159.75,33.02L160.00,33.05L160.25,33.08L160.50,33.11L160.75,33.14L161.00,33.17L161.25,33.20L161.50,33.23L161.75,33.26L162.00,33.29L162.25,33.32L162.50,33.35L162.75,33.38L163.00,33.41L163.25,33.44L163.50,33.47L163.75,33.51L164.00,33.54L164.25,33.57L164.50,33.60L164.75,33.64L165.00,33.67L165.25,33.70L165.50,33.74L165.75,33.77L166.00,33.80L166.25,33.84L166.50,33.87L166.75,33.90L167.00,33.94L167.25,33.97L167.50,34.01L167.75,34.04L168.00,34.07L168.25,34.11L168.50,34.14L168.75,34.18L169.00,34.21L169.25,34.24L169.50,34.28L169.75,34.31L170.00,34.34L170.25,34.38L170.50,34.41L170.75,34.44L171.00,34.47L171.25,34.50L171.50,34.53L171.75,34.56L172.00,34.58L172.25,34.61L172.50,34.64L172.75,34.67L173.00,34.71L173.25,34.74L173.50,34.77L173.75,34.81L174.00,34.85L174.25,34.89L174.50,34.93L174.75,34.97L175.00,35.02L175.25,35.07L175.50,35.12L175.75,35.18L176.00,35.24L176.25,35.31L176.50,35.38L176.75,35.46L177.00,35.54L177.25,35.63L177.50,35.74L177.75,35.85L178.00,35.98L178.25,36.13L178.50,36.33L178.75,36.56L179.00,36.82L179.25,37.12L179.50,37.46L179.75,37.81L180.00,38.20L180.25,38.64L180.50,39.18L180.75,39.78L181.00,40.46L181.25,41.22L181.50,42.05L181.75,42.95L182.00,43.91L182.25,44.96L182.50,46.12L182.75,47.39L183.00,48.85L183.25,50.49L183.50,52.30L183.75,54.26L184.00,56.32L184.25,58.56L184.50,61.01L184.75,63.60L185.00,66.26L185.25,68.92L185.50,71.51L185.75,74.05L186.00,76.49L186.25,78.89L186.50,81.30L186.75,83.72L187.00,86.12L187.25,88.49L187.50,90.80L187.75,93.05L188.00,95.21L188.25,97.33L188.50,99.44L188.75,101.52L189.00,103.56L189.25,105.57L189.50,107.50L189.75,109.33L190.00,111.03L190.25,112.69L190.50,114.40L190.75,116.06L191.00,117.60L191.25,118.93L191.50,119.98L191.75,120.67L192.00,120.92L192.25,120.62L192.50,119.78L192.75,118.50L193.00,116.90L193.25,115.06L193.50,113.11L193.75,111.13L194.00,109.24L194.25,107.24L194.50,104.96L194.75,102.46L195.00,99.84L195.25,97.19L195.50,94.58L195.75,92.10L196.00,89.84L196.25,87.68L196.50,85.48L196.75,83.29L197.00,81.18L197.25,79.19L197.50,77.40L197.75,75.86L198.00,74.62L198.25,73.53L198.50,72.46L198.75,71.51L199.00,70.77L199.25,70.33L199.50,70.28L199.75,70.54L200.00,71.05L200.25,71.73L200.50,72.52L200.75,73.38L201.00,74.56L201.25,76.14L201.50,77.99L201.75,79.94L202.00,81.80L202.25,83.74L202.50,85.90L202.75,88.09L203.00,90.13L203.25,91.83L203.50,93.02L203.75,93.43L204.00,92.68L204.25,90.96L204.50,88.57L204.75,85.78L205.00,82.91L205.25,79.08L205.50,73.88L205.75,68.23L206.00,63.10L206.25,57.92L206.50,52.29L206.75,47.40L207.00,44.46L207.25,43.03L207.50,41.86L207.75,40.90L208.00,40.12L208.25,39.47L208.50,38.93L208.75,38.46L209.00,38.04L209.25,37.68L209.50,37.39L209.75,37.15L210.00,36.99L210.25,36.87L210.50,36.75L210.75,36.64L211.00,36.54L211.25,36.45L211.50,36.36L211.75,36.28L212.00,36.20L212.25,36.13L212.50,36.07L212.75,36.00L213.00,35.94L213.25,35.89L213.50,35.83L213.75,35.78L214.00,35.73L214.25,35.69L214.50,35.64L214.75,35.59L215.00,35.54L215.25,35.50L215.50,35.45L215.75,35.39L216.00,35.34L216.25,35.28L216.50,35.23L216.75,35.17L217.00,35.11L217.25,35.06L217.50,35.00L217.75,34.94L218.00,34.88L218.25,34.82L218.50,34.76L218.75,34.70L219.00,34.64L219.25,34.58L219.50,34.52L219.75,34.46L220.00,34.41L220.25,34.35L220.50,34.30L220.75,34.25L221.00,34.20L221.25,34.15L221.50,34.10L221.75,34.06L222.00,34.01L222.25,33.97L222.50,33.94L222.75,33.90L223.00,33.87L223.25,33.84L223.50,33.82L223.75,33.79L224.00,33.78L224.25,33.76L224.50,33.75L224.75,33.74L225.00,33.74L225.25,33.74L225.50,33.74L225.75,33.74L226.00,33.74L226.25,33.74L226.50,33.74L226.75,33.74L227.00,33.74L227.25,33.74L227.50,33.74L227.75,33.74L228.00,33.75L228.25,33.75L228.50,33.75L228.75,33.75L229.00,33.75L229.25,33.75L229.50,33.76L229.75,33.76L230.00,33.76L230.25,33.76L230.50,33.77L230.75,33.77L231.00,33.77L231.25,33.78L231.50,33.78L231.75,33.78L232.00,33.79L232.25,33.79L232.50,33.79L232.75,33.80L233.00,33.80L233.25,33.81L233.50,33.81L233.75,33.81L234.00,33.82L234.25,33.82L234.50,33.83L234.75,33.83L235.00,33.84L235.25,33.84L235.50,33.85L235.75,33.85L236.00,33.86L236.25,33.86L236.50,33.87L236.75,33.87L237.00,33.88L237.25,33.88L237.50,33.89L237.75,33.89L238.00,33.90L238.25,33.90L238.50,33.91L238.75,33.91L239.00,33.92L239.25,33.92L239.50,33.93L239.75,33.93L240.00,33.94L240.25,33.94L240.50,33.95L240.75,33.96L241.00,33.97L241.25,33.98L241.50,33.99L241.75,34.00L242.00,34.01L242.25,34.03L242.50,34.04L242.75,34.06L243.00,34.07L243.25,34.09L243.50,34.10L243.75,34.12L244.00,34.14L244.25,34.16L244.50,34.17L244.75,34.19L245.00,34.21L245.25,34.23L245.50,34.25L245.75,34.27L246.00,34.29L246.25,34.31L246.50,34.33L246.75,34.36L247.00,34.38L247.25,34.40L247.50,34.42L247.75,34.44L248.00,34.46L248.25,34.48L248.50,34.50L248.75,34.52L249.00,34.54L249.25,34.56L249.50,34.58L249.75,34.60L250.00,34.61L250.25,34.63L250.50,34.65L250.75,34.67L251.00,34.68L251.25,34.70L251.50,34.71L251.75,34.73L252.00,34.74L252.25,34.75L252.50,34.77L252.75,34.78L253.00,34.79L253.25,34.80L253.50,34.81L253.75,34.81L254.00,34.82L254.25,34.82L254.50,34.83L254.75,34.83L255.00,34.83L255.25,34.83L255.50,34.84L255.75,34.84L256.00,34.84L256.25,34.84L256.50,34.84L256.75,34.84L257.00,34.85L257.25,34.85L257.50,34.85L257.75,34.85L258.00,34.85L258.25,34.86L258.50,34.86L258.75,34.86L259.00,34.86L259.25,34.86L259.50,34.86L259.75,34.87L260.00,34.87L260.25,34.87L260.50,34.87L260.75,34.87L261.00,34.87L261.25,34.88L261.50,34.88L261.75,34.88L262.00,34.88L262.25,34.88L262.50,34.88L262.75,34.89L263.00,34.89L263.25,34.89L263.50,34.89L263.75,34.89L264.00,34.89L264.25,34.90L264.50,34.90L264.75,34.90L265.00,34.90L265.25,34.90L265.50,34.90L265.75,34.91L266.00,34.91L266.25,34.91L266.50,34.91L266.75,34.91L267.00,34.92L267.25,34.92L267.50,34.92L267.75,34.92L268.00,34.92L268.25,34.93L268.50,34.93L268.75,34.93L269.00,34.93L269.25,34.93L269.50,34.94L269.75,34.94L270.00,34.94L270.25,34.94L270.50,34.94L270.75,34.94L271.00,34.94L271.25,34.93L271.50,34.93L271.75,34.92L272.00,34.91L272.25,34.90L272.50,34.89L272.75,34.87L273.00,34.86L273.25,34.84L273.50,34.83L273.75,34.81L274.00,34.79L274.25,34.77L274.50,34.75L274.75,34.73L275.00,34.71L275.25,34.69L275.50,34.67L275.75,34.64L276.00,34.62L276.25,34.60L276.50,34.58L276.75,34.55L277.00,34.53L277.25,34.51L277.50,34.48L277.75,34.46L278.00,34.43L278.25,34.41L278.50,34.39L278.75,34.37L279.00,34.34L279.25,34.32L279.50,34.30L279.75,34.28L280.00,34.26L280.25,34.24L280.50,34.20L280.75,34.16L281.00,34.11L281.25,34.06L281.50,34.01L281.75,33.96L282.00,33.91L282.25,33.87L282.50,33.84L282.75,33.82L283.00,33.81L283.25,33.82L283.50,33.83L283.75,33.85L284.00,33.87L284.25,33.90L284.50,33.94L284.75,33.98L285.00,34.02L285.25,34.07L285.50,34.12L285.75,34.18L286.00,34.23L286.25,34.29L286.50,34.35L286.75,34.42L287.00,34.48L287.25,34.54L287.50,34.61L287.75,34.67L288.00,34.73L288.25,34.79L288.50,34.85L288.75,34.90L289.00,34.96L289.25,35.00L289.50,35.05L289.75,35.09L290.00,35.13L290.25,35.16L290.50,35.19L290.75,35.22L291.00,35.25L291.25,35.28L291.50,35.31L291.75,35.34L292.00,35.36L292.25,35.39L292.50,35.41L292.75,35.43L293.00,35.46L293.25,35.48L293.50,35.50L293.75,35.52L294.00,35.54L294.25,35.57L294.50,35.59L294.75,35.61L295.00,35.63L295.25,35.65L295.50,35.67L295.75,35.69L296.00,35.72L296.25,35.74L296.50,35.76L296.75,35.78L297.00,35.81L297.25,35.83L297.50,35.86L297.75,35.88L298.00,35.91L298.25,35.94L298.50,35.97L298.75,36.00L299.00,36.03L299.25,36.07L299.50,36.10L299.75,36.14L300.00,36.17L300.25,36.21L300.50,36.26L300.75,36.32L301.00,36.38L301.25,36.45L301.50,36.52L301.75,36.60L302.00,36.68L302.25,36.76L302.50,36.85L302.75,36.94L303.00,37.03L303.25,37.12L303.50,37.22L303.75,37.32L304.00,37.41L304.25,37.51L304.50,37.60L304.75,37.70L305.00,37.79L305.25,37.88L305.50,37.97L305.75,38.06L306.00,38.14L306.25,38.22L306.50,38.29L306.75,38.36L307.00,38.43L307.25,38.49L307.50,38.54L307.75,38.58L308.00,38.62L308.25,38.65L308.50,38.68L308.75,38.69L309.00,38.70L309.25,38.69L309.50,38.66L309.75,38.62L310.00,38.57L310.25,38.50L310.50,38.42L310.75,38.34L311.00,38.24L311.25,38.13L311.50,38.02L311.75,37.91L312.00,37.79L312.25,37.66L312.50,37.54L312.75,37.41L313.00,37.29L313.25,37.17L313.50,37.05L313.75,36.94L314.00,36.84L314.25,36.74L314.50,36.65L314.75,36.57L315.00,36.51L315.25,36.45L315.50,36.41L315.75,36.39L316.00,36.38L316.25,36.38L316.50,36.39L316.75,36.39L317.00,36.41L317.25,36.42L317.50,36.44L317.75,36.45L318.00,36.48L318.25,36.50L318.50,36.53L318.75,36.55L319.00,36.58L319.25,36.61L319.50,36.65L319.75,36.68L320.00,36.72L320.25,36.76L320.50,36.79L320.75,36.83L321.00,36.88L321.25,36.92L321.50,36.96L321.75,37.00L322.00,37.05L322.25,37.09L322.50,37.14L322.75,37.18L323.00,37.23L323.25,37.27L323.50,37.32L323.75,37.36L324.00,37.41L324.25,37.45L324.50,37.49L324.75,37.54L325.00,37.58L325.25,37.62L325.50,37.66L325.75,37.70L326.00,37.73L326.25,37.77L326.50,37.81L326.75,37.84L327.00,37.87L327.25,37.90L327.50,37.93L327.75,37.95L328.00,37.98L328.25,38.00L328.50,38.02L328.75,38.03L329.00,38.05L329.25,38.06L329.50,38.07L329.75,38.07L330.00,38.07L330.25,38.07L330.50,38.06L330.75,38.04L331.00,38.01L331.25,37.97L331.50,37.93L331.75,37.89L332.00,37.85L332.25,37.80L332.50,37.75L332.75,37.70L333.00,37.65L333.25,37.61L333.50,37.56L333.75,37.53L334.00,37.49L334.25,37.46L334.50,37.44L334.75,37.43L335.00,37.43L335.25,37.43L335.50,37.46L335.75,37.49L336.00,37.54L336.25,37.60L336.50,37.67L336.75,37.74L337.00,37.82L337.25,37.90L337.50,37.98L337.75,38.06L338.00,38.14L338.25,38.22L338.50,38.30L338.75,38.36L339.00,38.42L339.25,38.47L339.50,38.50L339.75,38.53L340.00,38.54L340.25,38.52L340.50,38.49L340.75,38.42L341.00,38.34L341.25,38.24L341.50,38.13L341.75,38.00L342.00,37.86L342.25,37.71L342.50,37.56L342.75,37.41L343.00,37.25L343.25,37.10L343.50,36.95L343.75,36.81L344.00,36.67L344.25,36.55L344.50,36.45L344.75,36.36L345.00,36.29L345.25,36.23L345.50,36.17L345.75,36.12L346.00,36.06L346.25,36.00L346.50,35.95L346.75,35.89L347.00,35.84L347.25,35.79L347.50,35.74L347.75,35.69L348.00,35.64L348.25,35.60L348.50,35.55L348.75,35.51L349.00,35.47L349.25,35.44L349.50,35.40L349.75,35.37L350.00,35.34L350.25,35.32L350.50,35.29L350.75,35.27L351.00,35.26L351.25,35.25L351.50,35.24L351.75,35.23L352.00,35.23L352.25,35.23L352.50,35.24L352.75,35.25L353.00,35.27L353.25,35.29L353.50,35.31L353.75,35.34L354.00,35.37L354.25,35.41L354.50,35.45L354.75,35.49L355.00,35.54L355.25,35.59L355.50,35.64L355.75,35.70L356.00,35.75L356.25,35.82L356.50,35.88L356.75,35.95L357.00,36.02L357.25,36.09L357.50,36.16L357.75,36.24L358.00,36.31L358.25,36.39L358.50,36.47L358.75,36.56L359.00,36.64L359.25,36.73L359.50,36.81L359.75,36.90L360.00,36.99L360.25,37.09L360.50,37.19L360.75,37.31L361.00,37.43L361.25,37.57L361.50,37.72L361.75,37.88L362.00,38.05L362.25,38.23L362.50,38.43L362.75,38.64L363.00,38.86L363.25,39.09L363.50,39.33L363.75,39.59L364.00,39.86L364.25,40.15L364.50,40.45L364.75,40.76L365.00,41.09L365.25,41.47L365.50,41.94L365.75,42.50L366.00,43.13L366.25,43.84L366.50,44.61L366.75,45.44L367.00,46.31L367.25,47.27L367.50,48.38L367.75,49.63L368.00,51.06L368.25,52.68L368.50,54.51L368.75,56.75L369.00,59.57L369.25,62.97L369.50,66.92L369.75,72.08L370.00,78.69L370.25,86.18L370.50,93.96L370.75,102.01L371.00,110.71L371.25,120.05L371.50,130.00L371.75,141.58L372.00,155.27L372.25,170.23L372.50,185.65L372.75,200.69L373.00,214.53L373.25,226.33L373.50,235.69L373.75,244.05L374.00,252.37L374.25,260.44L374.50,268.03L374.75,274.93L375.00,280.93L375.25,285.79L375.50,289.32L375.75,291.28L376.00,291.32L376.25,288.25L376.50,282.35L376.75,274.26L377.00,264.64L377.25,254.13L377.50,243.37L377.75,232.96L378.00,221.43L378.25,207.83L378.50,192.87L378.75,177.30L379.00,161.89L379.25,147.37L379.50,134.51L379.75,123.44L380.00,112.56L380.25,102.72L380.50,95.06L380.75,89.30L381.00,84.23L381.25,79.75L381.50,75.84L381.75,72.44L382.00,69.55L382.25,67.05L382.50,64.74L382.75,62.56L383.00,60.41L383.25,58.27L383.50,56.16L383.75,54.13L384.00,52.21L384.25,50.42L384.50,48.78L384.75,47.32L385.00,46.07L385.25,45.07L385.50,44.35L385.75,43.82L386.00,43.33L386.25,42.88L386.50,42.47L386.75,42.10L387.00,41.75L387.25,41.43L387.50,41.14L387.75,40.86L388.00,40.61L388.25,40.37L388.50,40.14L388.75,39.92L389.00,39.71L389.25,39.50L389.50,39.29L389.75,39.07L390.00,38.85L390.25,38.62L390.50,38.39L390.75,38.16L391.00,37.92L391.25,37.69L391.50,37.46L391.75,37.24L392.00,37.03L392.25,36.82L392.50,36.64L392.75,36.46L393.00,36.31L393.25,36.18L393.50,36.07L393.75,35.98L394.00,35.92L394.25,35.90L394.50,35.92L394.75,36.01L395.00,36.18L395.25,36.39L395.50,36.62L395.75,36.82L396.00,36.96L396.25,37.01L396.50,36.96L396.75,36.86L397.00,36.71L397.25,36.53L397.50,36.31L397.75,36.08L398.00,35.84L398.25,35.58L398.50,35.31L398.75,35.02L399.00,34.73L399.25,34.44L399.50,34.14L399.75,33.85L400.00,33.57L400.25,33.30L400.50,33.05L400.75,32.82L401.00,32.61L401.25,32.44L401.50,32.31L401.75,32.21L402.00,32.15L402.25,32.18L402.50,32.26L402.75,32.37L403.00,32.52L403.25,32.70L403.50,32.92L403.75,33.18L404.00,33.46L404.25,33.77L404.50,34.10L404.75,34.47L405.00,34.85L405.25,35.27L405.50,35.74L405.75,36.24L406.00,36.78L406.25,37.35L406.50,38.11L406.75,39.27L407.00,40.65L407.25,42.09L407.50,43.39L407.75,44.29L408.00,44.93L408.25,45.29L408.50,45.24L408.75,44.76L409.00,44.10L409.25,43.51L409.50,43.18L409.75,43.28L410.00,44.14L410.25,46.09L410.50,48.85L410.75,52.28L411.00,56.20L411.25,60.34L411.50,65.83L411.75,72.43L412.00,78.94L412.25,84.15L412.50,88.81L412.75,93.36L413.00,97.19L413.25,99.33L413.50,98.93L413.75,96.52L414.00,92.97L414.25,89.10L414.50,85.69L414.75,82.77L415.00,79.95L415.25,77.25L415.50,74.63L415.75,72.18L416.00,69.98L416.25,68.12L416.50,66.69L416.75,65.55L417.00,64.54L417.25,63.63L417.50,62.81L417.75,62.09L418.00,61.51L418.25,61.08L418.50,60.86L418.75,60.91L419.00,61.28L419.25,61.96L419.50,62.89L419.75,64.04L420.00,65.36L420.25,66.95L420.50,68.87L420.75,71.67L421.00,75.62L421.25,80.21L421.50,84.95L421.75,89.61L422.00,94.50L422.25,99.82L422.50,103.91L422.75,105.09L423.00,103.67L423.25,100.80L423.50,97.25L423.75,93.76L424.00,91.08L424.25,89.13L424.50,87.38L424.75,85.78L425.00,84.25L425.25,82.85L425.50,81.62L425.75,80.62L426.00,79.88L426.25,79.47L426.50,79.45L426.75,79.92L427.00,80.81L427.25,82.00L427.50,83.36L427.75,84.78L428.00,86.14L428.25,87.74L428.50,89.80L428.75,92.05L429.00,94.22L429.25,96.03L429.50,97.23L429.75,97.51L430.00,96.07L430.25,93.18L430.50,89.56L430.75,85.98L431.00,83.17L431.25,81.07L431.50,79.11L431.75,77.18L432.00,75.40L432.25,73.88L432.50,72.73L432.75,72.07L433.00,72.03L433.25,72.86L433.50,74.31L433.75,76.16L434.00,78.15L434.25,80.06L434.50,81.76L434.75,83.45L435.00,85.21L435.25,87.09L435.50,89.13L435.75,91.32L436.00,93.62L436.25,96.09L436.50,98.76L436.75,101.68L437.00,104.91L437.25,108.76L437.50,113.39L437.75,118.55L438.00,124.01L438.25,129.52L438.50,134.84L438.75,140.00L439.00,145.20L439.25,150.45L439.50,155.78L439.75,161.20L440.00,166.75L440.25,172.44L440.50,178.30L440.75,184.49L441.00,191.13L441.25,198.22L441.50,205.70L441.75,213.37L442.00,221.01L442.25,228.44L442.50,235.88L442.75,244.42L443.00,252.85L443.25,258.63L443.50,259.64L443.75,258.05L444.00,255.01L444.25,250.94L444.50,246.25L444.75,241.37L445.00,236.72L445.25,232.38L445.50,228.18L445.75,223.89L446.00,219.53L446.25,215.13L446.50,210.72L446.75,206.34L447.00,202.02L447.25,197.62L447.50,192.93L447.75,187.28L448.00,180.98L448.25,174.56L448.50,168.56L448.75,163.50L449.00,159.91L449.25,158.13L449.50,159.89L449.75,166.40L450.00,175.60L450.25,185.30L450.50,196.46L450.75,211.20L451.00,223.49L451.25,227.17L451.50,221.76L451.75,211.35L452.00,199.37L452.25,189.28L452.50,181.93L452.75,175.00L453.00,168.57L453.25,162.78L453.50,157.80L453.75,153.01L454.00,148.27L454.25,144.46L454.50,142.47L454.75,143.00L455.00,146.02L455.25,150.83L455.50,156.70L455.75,162.89L456.00,168.76L456.25,174.92L456.50,182.06L456.75,189.87L457.00,198.08L457.25,206.39L457.50,214.24L457.75,221.40L458.00,228.71L458.25,236.43L458.50,244.33L458.75,251.43L459.00,256.72L459.25,259.21L459.50,258.39L459.75,255.09L460.00,249.93L460.25,243.49L460.50,236.39L460.75,229.22L461.00,222.57L461.25,215.75L461.50,208.04L461.75,199.98L462.00,192.10L462.25,184.93L462.50,179.03L462.75,173.64L463.00,168.40L463.25,164.43L463.50,162.85L463.75,166.24L464.00,174.72L464.25,185.51L464.50,195.83L464.75,207.24L465.00,220.83L465.25,233.06L465.50,240.38L465.75,239.65L466.00,232.53L466.25,223.55L466.50,217.27L466.75,217.15L467.00,220.36L467.25,225.16L467.50,230.16L467.75,234.91L468.00,240.77L468.25,246.73L468.50,251.52L468.75,253.87L469.00,251.72L469.25,244.09L469.50,233.21L469.75,221.44L470.00,211.09L470.25,201.86L470.50,192.19L470.75,182.53L471.00,173.32L471.25,165.02L471.50,158.07L471.75,151.69L472.00,145.56L472.25,140.86L472.50,138.72L472.75,138.33L473.00,138.18L473.25,138.10L473.50,138.07L473.75,138.07L474.00,138.09L474.25,138.08L474.50,138.05L474.75,137.97L475.00,137.82L475.25,137.49L475.50,136.93L475.75,136.17L476.00,135.25L476.25,134.23L476.50,133.13L476.75,132.00L477.00,130.88L477.25,129.57L477.50,127.90L477.75,125.98L478.00,123.94L478.25,121.88L478.50,119.92L478.75,118.17L479.00,116.76L479.25,115.79L479.50,115.43L479.75,115.81L480.00,117.26L480.25,119.59L480.50,122.26L480.75,125.35L481.00,129.37L481.25,133.73L481.50,137.41L481.75,139.49L482.00,139.86L482.25,138.52L482.50,134.89L482.75,129.73L483.00,124.36L483.25,119.62L483.50,116.05L483.75,113.41L484.00,110.86L484.25,108.47L484.50,106.31L484.75,104.46L485.00,103.00L485.25,101.99L485.50,101.51L485.75,101.61L486.00,102.20L486.25,103.19L486.50,104.51L486.75,106.10L487.00,107.90L487.25,109.83L487.50,111.84L487.75,113.86L488.00,115.82L488.25,118.11L488.50,121.05L488.75,124.45L489.00,128.13L489.25,131.89L489.50,135.56L489.75,138.95L490.00,141.88L490.25,144.15L490.50,145.59L490.75,145.99L491.00,145.07L491.25,142.93L491.50,139.85L491.75,136.08L492.00,131.88L492.25,127.53L492.50,123.28L492.75,119.40L493.00,116.14L493.25,113.26L493.50,110.37L493.75,107.49L494.00,104.64L494.25,101.83L494.50,99.08L494.75,96.42L495.00,93.85L495.25,91.41L495.50,89.11L495.75,86.97L496.00,85.02L496.25,83.17L496.50,81.34L496.75,79.59L497.00,77.94L497.25,76.44L497.50,75.12L497.75,74.02L498.00,73.17L498.25,72.47L498.50,71.78L498.75,71.13L499.00,70.52L499.25,69.99L499.50,69.56L499.75,69.23L500.00,69.03L500.25,68.98L500.50,69.34L500.75,70.43L501.00,72.11L501.25,74.26L501.50,76.76L501.75,79.48L502.00,82.29L502.25,86.71L502.50,93.22L502.75,100.19L503.00,105.98L503.25,108.96L503.50,107.38L503.75,101.70L504.00,94.46L504.25,88.19L504.50,82.53L504.75,76.98L505.00,73.90L505.25,72.55L505.50,71.34L505.75,70.28L506.00,69.33L506.25,68.48L506.50,67.73L506.75,67.04L507.00,66.40L507.25,65.80L507.50,65.24L507.75,64.72L508.00,64.23L508.25,63.77L508.50,63.32L508.75,62.89L509.00,62.46L509.25,62.03L509.50,61.60L509.75,61.16L510.00,60.70L510.25,60.28L510.50,59.84L510.75,59.38L511.00,58.91L511.25,58.43L511.50,57.97L511.75,57.52L512.00,57.10L512.25,56.72L512.50,56.39L512.75,56.12L513.00,55.91L513.25,55.90L513.50,55.95L513.75,56.05L514.00,56.21L514.25,56.39L514.50,56.60L514.75,56.83L515.00,57.06L515.25,57.38L515.50,57.82L515.75,58.29L516.00,58.72L516.25,59.02L516.50,59.11L516.75,58.58L517.00,57.28L517.25,55.46L517.50,53.37L517.75,51.28L518.00,49.45L518.25,48.14L518.50,47.61L518.75,47.70L519.00,48.04L519.25,48.57L519.50,49.24L519.75,49.99L520.00,50.77L520.25,51.61L520.50,52.60L520.75,53.77L521.00,55.15L521.25,57.01L521.50,59.45L521.75,62.27L522.00,65.23L522.25,68.10L522.50,71.07L522.75,75.04L523.00,80.70L523.25,90.20L523.50,103.92L523.75,120.11L524.00,136.90L524.25,155.50L524.50,176.82L524.75,197.75L525.00,215.16L525.25,225.92L525.50,227.12L525.75,219.49L526.00,205.59L526.25,187.83L526.50,168.58L526.75,150.26L527.00,135.25L527.25,123.22L527.50,112.49L527.75,102.92L528.00,94.15L528.25,86.26L528.50,79.34L528.75,73.07L529.00,67.12L529.25,61.66L529.50,56.85L529.75,52.87L530.00,49.91L530.25,47.68L530.50,45.75L530.75,44.13L531.00,42.78L531.25,41.64L531.50,40.60L531.75,39.63L532.00,38.72L532.25,37.89L532.50,37.17L532.75,36.59L533.00,36.18L533.25,35.92L533.50,35.67L533.75,35.44L534.00,35.22L534.25,35.01L534.50,34.82L534.75,34.65L535.00,34.49L535.25,34.35L535.50,34.23L535.75,34.13L536.00,34.04L536.25,33.98L536.50,33.94L536.75,33.92L537.00,33.92L537.25,33.95L537.50,34.00L537.75,34.06L538.00,34.13L538.25,34.22L538.50,34.31L538.75,34.40L539.00,34.48L539.25,34.56L539.50,34.62L539.75,34.67L540.00,34.70L540.25,34.49L540.50,33.94L540.75,33.23L541.00,32.51L541.25,31.94L541.50,31.70L541.75,31.81L542.00,32.13L542.25,32.57L542.50,33.05L542.75,33.48L543.00,33.76L543.25,33.93L543.50,34.09L543.75,34.22L544.00,34.33L544.25,34.40L544.50,34.46L544.75,34.51L545.00,34.54" stroke="#ff0000"/>
<path d="M30.50,39.21L30.75,39.22L31.00,39.23L31.25,39.24L31.50,39.25L31.75,39.26L32.00,39.27L32.25,39.28L32.50,39.29L32.75,39.30L33.00,39.31L33.25,39.32L33.50,39.33L33.75,39.34L34.00,39.35L34.25,39.36L34.50,39.36L34.75,39.37L35.00,39.38L35.25,39.39L35.50,39.40L35.75,39.41L36.00,39.42L36.25,39.43L36.50,39.44L36.75,39.45L37.00,39.46L37.25,39.47L37.50,39.48L37.75,39.49L38.00,39.50L38.25,39.51L38.50,39.52L38.75,39.53L39.00,39.54L39.25,39.55L39.50,39.55L39.75,39.56L40.00,39.57L40.25,39.58L40.50,39.59L40.75,39.60L41.00,39.61L41.25,39.62L41.50,39.63L41.75,39.64L42.00,39.65L42.25,39.66L42.50,39.67L42.75,39.67L43.00,39.68L43.25,39.69L43.50,39.70L43.75,39.71L44.00,39.72L44.25,39.73L44.50,39.73L44.75,39.74L45.00,39.75L45.25,39.76L45.50,39.77L45.75,39.78L46.00,39.78L46.25,39.79L46.50,39.80L46.75,39.81L47.00,39.82L47.25,39.82L47.50,39.83L47.75,39.84L48.00,39.85L48.25,39.86L48.50,39.87L48.75,39.87L49.00,39.88L49.25,39.89L49.50,39.90L49.75,39.91L50.00,39.91L50.25,39.92L50.50,39.93L50.75,39.94L51.00,39.95L51.25,39.96L51.50,39.96L51.75,39.97L52.00,39.98L52.25,39.99L52.50,40.00L52.75,40.01L53.00,40.01L53.25,40.02L53.50,40.03L53.75,40.04L54.00,40.05L54.25,40.06L54.50,40.07L54.75,40.07L55.00,40.08L55.25,40.09L55.50,40.10L55.75,40.11L56.00,40.12L56.25,40.13L56.50,40.14L56.75,40.15L57.00,40.16L57.25,40.17L57.50,40.18L57.75,40.18L58.00,40.19L58.25,40.20L58.50,40.21L58.75,40.22L59.00,40.23L59.25,40.24L59.50,40.25L59.75,40.27L60.00,40.28L60.25,40.29L60.50,40.30L60.75,40.31L61.00,40.32L61.25,40.33L61.50,40.34L61.75,40.35L62.00,40.37L62.25,40.38L62.50,40.39L62.75,40.40L63.00,40.41L63.25,40.43L63.50,40.44L63.75,40.45L64.00,40.47L64.25,40.48L64.50,40.49L64.75,40.51L65.00,40.52L65.25,40.53L65.50,40.55L65.75,40.56L66.00,40.58L66.25,40.59L66.50,40.61L66.75,40.62L67.00,40.64L67.25,40.65L67.50,40.67L67.75,40.68L68.00,40.70L68.25,40.71L68.50,40.73L68.75,40.74L69.00,40.76L69.25,40.78L69.50,40.79L69.75,40.81L70.00,40.83L70.25,40.84L70.50,40.86L70.75,40.88L71.00,40.89L71.25,40.91L71.50,40.93L71.75,40.94L72.00,40.96L72.25,40.98L72.50,41.00L72.75,41.01L73.00,41.03L73.25,41.05L73.50,41.07L73.75,41.09L74.00,41.10L74.25,41.12L74.50,41.14L74.75,41.16L75.00,41.18L75.25,41.20L75.50,41.21L75.75,41.23L76.00,41.25L76.25,41.27L76.50,41.29L76.75,41.31L77.00,41.33L77.25,41.35L77.50,41.37L77.75,41.38L78.00,41.40L78.25,41.42L78.50,41.44L78.75,41.46L79.00,41.48L79.25,41.50L79.50,41.52L79.75,41.54L80.00,41.56L80.25,41.58L80.50,41.60L80.75,41.62L81.00,41.64L81.25,41.67L81.50,41.69L81.75,41.72L82.00,41.74L82.25,41.77L82.50,41.79L82.75,41.82L83.00,41.85L83.25,41.87L83.50,41.90L83.75,41.93L84.00,41.96L84.25,41.99L84.50,42.02L84.75,42.05L85.00,42.08L85.25,42.11L85.50,42.13L85.75,42.16L86.00,42.19L86.25,42.22L86.50,42.25L86.75,42.28L87.00,42.31L87.25,42.34L87.50,42.37L87.75,42.40L88.00,42.43L88.25,42.46L88.50,42.49L88.75,42.52L89.00,42.55L89.25,42.57L89.50,42.60L89.75,42.63L90.00,42.65L90.25,42.68L90.50,42.71L90.75,42.73L91.00,42.75L91.25,42.78L91.50,42.80L91.75,42.82L92.00,42.84L92.25,42.86L92.50,42.88L92.75,42.90L93.00,42.92L93.25,42.93L93.50,42.95L93.75,42.96L94.00,42.98L94.25,42.99L94.50,43.00L94.75,43.01L95.00,43.02L95.25,43.03L95.50,43.04L95.75,43.05L96.00,43.05L96.25,43.06L96.50,43.07L96.75,43.08L97.00,43.09L97.25,43.09L97.50,43.10L97.75,43.11L98.00,43.12L98.25,43.13L98.50,43.14L98.75,43.14L99.00,43.15L99.25,43.16L99.50,43.17L99.75,43.18L100.00,43.19L100.25,43.17L100.50,43.15L100.75,43.13L101.00,43.11L101.25,43.09L101.50,43.07L101.75,43.05L102.00,43.03L102.25,43.01L102.50,42.98L102.75,42.96L103.00,42.94L103.25,42.91L103.50,42.89L103.75,42.87L104.00,42.85L104.25,42.82L104.50,42.80L104.75,42.78L105.00,42.77L105.25,42.75L105.50,42.73L105.75,42.71L106.00,42.70L106.25,42.68L106.50,42.66L106.75,42.64L107.00,42.63L107.25,42.61L107.50,42.60L107.75,42.58L108.00,42.57L108.25,42.56L108.50,42.56L108.75,42.57L109.00,42.59L109.25,42.61L109.50,42.64L109.75,42.68L110.00,42.71L110.25,42.76L110.50,42.82L110.75,42.90L111.00,42.98L111.25,43.07L111.50,43.18L111.75,43.31L112.00,43.43L112.25,43.56L112.50,43.67L112.75,43.77L113.00,43.85L113.25,43.91L113.50,43.93L113.75,43.91L114.00,43.85L114.25,43.76L114.50,43.65L114.75,43.52L115.00,43.39L115.25,43.26L115.50,43.15L115.75,43.04L116.00,42.93L116.25,42.82L116.50,42.72L116.75,42.62L117.00,42.52L117.25,42.42L117.50,42.32L117.75,42.21L118.00,42.10L118.25,41.97L118.50,41.84L118.75,41.71L119.00,41.58L119.25,41.46L119.50,41.34L119.75,41.24L120.00,41.16L120.25,41.08L120.50,41.01L120.75,40.95L121.00,40.89L121.25,40.84L121.50,40.79L121.75,40.75L122.00,40.71L122.25,40.68L122.50,40.65L122.75,40.63L123.00,40.60L123.25,40.57L123.50,40.55L123.75,40.52L124.00,40.49L124.25,40.46L124.50,40.44L124.75,40.41L125.00,40.38L125.25,40.35L125.50,40.32L125.75,40.29L126.00,40.26L126.25,40.23L126.50,40.20L126.75,40.17L127.00,40.15L127.25,40.12L127.50,40.09L127.75,40.06L128.00,40.03L128.25,40.00L128.50,39.98L128.75,39.95L129.00,39.92L129.25,39.89L129.50,39.87L129.75,39.84L130.00,39.81L130.25,39.80L130.50,39.78L130.75,39.77L131.00,39.75L131.25,39.74L131.50,39.73L131.75,39.71L132.00,39.70L132.25,39.68L132.50,39.67L132.75,39.66L133.00,39.64L133.25,39.63L133.50,39.62L133.75,39.61L134.00,39.59L134.25,39.58L134.50,39.57L134.75,39.56L135.00,39.55L135.25,39.53L135.50,39.52L135.75,39.51L136.00,39.50L136.25,39.49L136.50,39.48L136.75,39.47L137.00,39.46L137.25,39.45L137.50,39.44L137.75,39.43L138.00,39.42L138.25,39.41L138.50,39.40L138.75,39.39L139.00,39.38L139.25,39.37L139.50,39.36L139.75,39.36L140.00,39.35L140.25,39.34L140.50,39.33L140.75,39.32L141.00,39.32L141.25,39.31L141.50,39.30L141.75,39.30L142.00,39.29L142.25,39.29L142.50,39.28L142.75,39.28L143.00,39.27L143.25,39.27L143.50,39.26L143.75,39.26L144.00,39.26L144.25,39.25L144.50,39.25L144.75,39.25L145.00,39.25L145.25,39.25L145.50,39.25L145.75,39.25L146.00,39.26L146.25,39.26L146.50,39.27L146.75,39.28L147.00,39.29L147.25,39.30L147.50,39.31L147.75,39.32L148.00,39.33L148.25,39.35L148.50,39.36L148.75,39.38L149.00,39.40L149.25,39.41L149.50,39.43L149.75,39.45L150.00,39.46L150.25,39.48L150.50,39.50L150.75,39.52L151.00,39.54L151.25,39.56L151.50,39.57L151.75,39.59L152.00,39.61L152.25,39.63L152.50,39.65L152.75,39.67L153.00,39.69L153.25,39.71L153.50,39.73L153.75,39.75L154.00,39.77L154.25,39.79L154.50,39.81L154.75,39.83L155.00,39.86L155.25,39.88L155.50,39.90L155.75,39.93L156.00,39.95L156.25,39.97L156.50,40.00L156.75,40.02L157.00,40.04L157.25,40.07L157.50,40.09L157.75,40.12L158.00,40.14L158.25,40.17L158.50,40.19L158.75,40.22L159.00,40.24L159.25,40.27L159.50,40.29L159.75,40.32L160.00,40.34L160.25,40.37L160.50,40.39L160.75,40.42L161.00,40.44L161.25,40.47L161.50,40.49L161.75,40.52L162.00,40.55L162.25,40.58L162.50,40.61L162.75,40.63L163.00,40.66L163.25,40.69L163.50,40.72L163.75,40.75L164.00,40.78L164.25,40.81L164.50,40.84L164.75,40.87L165.00,40.90L165.25,40.93L165.50,40.96L165.75,40.99L166.00,41.02L166.25,41.05L166.50,41.09L166.75,41.12L167.00,41.15L167.25,41.18L167.50,41.21L167.75,41.25L168.00,41.28L168.25,41.31L168.50,41.34L168.75,41.37L169.00,41.41L169.25,41.44L169.50,41.47L169.75,41.50L170.00,41.54L170.25,41.57L170.50,41.60L170.75,41.63L171.00,41.66L171.25,41.68L171.50,41.71L171.75,41.74L172.00,41.77L172.25,41.80L172.50,41.83L172.75,41.86L173.00,41.89L173.25,41.92L173.50,41.95L173.75,41.99L174.00,42.02L174.25,42.06L174.50,42.10L174.75,42.15L175.00,42.19L175.25,42.24L175.50,42.29L175.75,42.35L176.00,42.41L176.25,42.47L176.50,42.54L176.75,42.61L177.00,42.69L177.25,42.78L177.50,42.88L177.75,42.99L178.00,43.11L178.25,43.26L178.50,43.44L178.75,43.66L179.00,43.90L179.25,44.18L179.50,44.48L179.75,44.81L180.00,45.16L180.25,45.56L180.50,46.03L180.75,46.56L181.00,47.16L181.25,47.83L181.50,48.59L181.75,49.45L182.00,50.38L182.25,51.40L182.50,52.54L182.75,53.79L183.00,55.30L183.25,57.09L183.50,59.12L183.75,61.34L184.00,63.71L184.25,66.23L184.50,68.92L184.75,71.69L185.00,74.47L185.25,77.16L185.50,79.71L185.75,82.18L186.00,84.56L186.25,86.89L186.50,89.22L186.75,91.53L187.00,93.82L187.25,96.07L187.50,98.28L187.75,100.42L188.00,102.49L188.25,104.52L188.50,106.54L188.75,108.54L189.00,110.52L189.25,112.50L189.50,114.45L189.75,116.34L190.00,118.12L190.25,119.87L190.50,121.62L190.75,123.30L191.00,124.84L191.25,126.16L191.50,127.20L191.75,127.87L192.00,128.11L192.25,127.78L192.50,126.86L192.75,125.48L193.00,123.74L193.25,121.76L193.50,119.66L193.75,117.55L194.00,115.54L194.25,113.45L194.50,111.07L194.75,108.49L195.00,105.80L195.25,103.09L195.50,100.45L195.75,97.97L196.00,95.75L196.25,93.64L196.50,91.51L196.75,89.40L197.00,87.38L197.25,85.51L197.50,83.83L197.75,82.41L198.00,81.31L198.25,80.37L198.50,79.46L198.75,78.65L199.00,78.03L199.25,77.66L199.50,77.62L199.75,77.87L200.00,78.37L200.25,79.03L200.50,79.81L200.75,80.66L201.00,81.75L201.25,83.19L201.50,84.93L201.75,86.82L202.00,88.69L202.25,90.62L202.50,92.71L202.75,94.78L203.00,96.67L203.25,98.21L203.50,99.24L203.75,99.44L204.00,98.22L204.25,95.84L204.50,92.71L204.75,89.25L205.00,85.86L205.25,81.70L205.50,76.37L205.75,70.88L206.00,66.25L206.25,61.95L206.50,57.38L206.75,53.43L207.00,51.00L207.25,49.74L207.50,48.71L207.75,47.84L208.00,47.11L208.25,46.49L208.50,45.96L208.75,45.49L209.00,45.07L209.25,44.72L209.50,44.43L209.75,44.21L210.00,44.07L210.25,43.98L210.50,43.89L210.75,43.81L211.00,43.73L211.25,43.66L211.50,43.60L211.75,43.54L212.00,43.48L212.25,43.43L212.50,43.38L212.75,43.33L213.00,43.29L213.25,43.25L213.50,43.21L213.75,43.17L214.00,43.13L214.25,43.10L214.50,43.06L214.75,43.03L215.00,42.99L215.25,42.95L215.50,42.91L215.75,42.86L216.00,42.82L216.25,42.76L216.50,42.71L216.75,42.65L217.00,42.60L217.25,42.54L217.50,42.47L217.75,42.41L218.00,42.35L218.25,42.28L218.50,42.21L218.75,42.15L219.00,42.08L219.25,42.01L219.50,41.95L219.75,41.88L220.00,41.81L220.25,41.75L220.50,41.69L220.75,41.62L221.00,41.56L221.25,41.50L221.50,41.45L221.75,41.39L222.00,41.34L222.25,41.29L222.50,41.24L222.75,41.20L223.00,41.16L223.25,41.12L223.50,41.09L223.75,41.06L224.00,41.04L224.25,41.02L224.50,41.01L224.75,41.00L225.00,40.99L225.25,40.99L225.50,40.99L225.75,40.99L226.00,40.99L226.25,40.99L226.50,40.99L226.75,40.99L227.00,40.99L227.25,40.99L227.50,40.99L227.75,40.99L228.00,40.99L228.25,40.99L228.50,40.99L228.75,40.99L229.00,40.99L229.25,40.99L229.50,40.99L229.75,40.99L230.00,41.00L230.25,41.00L230.50,41.00L230.75,41.00L231.00,41.00L231.25,41.00L231.50,41.01L231.75,41.01L232.00,41.01L232.25,41.01L232.50,41.01L232.75,41.02L233.00,41.02L233.25,41.02L233.50,41.02L233.75,41.03L234.00,41.03L234.25,41.03L234.50,41.04L234.75,41.04L235.00,41.04L235.25,41.04L235.50,41.05L235.75,41.05L236.00,41.05L236.25,41.06L236.50,41.06L236.75,41.06L237.00,41.07L237.25,41.07L237.50,41.07L237.75,41.08L238.00,41.08L238.25,41.08L238.50,41.09L238.75,41.09L239.00,41.09L239.25,41.10L239.50,41.10L239.75,41.10L240.00,41.11L240.25,41.11L240.50,41.12L240.75,41.12L241.00,41.13L241.25,41.14L241.50,41.15L241.75,41.16L242.00,41.17L242.25,41.18L242.50,41.19L242.75,41.21L243.00,41.22L243.25,41.24L243.50,41.25L243.75,41.27L244.00,41.29L244.25,41.30L244.50,41.32L244.75,41.34L245.00,41.36L245.25,41.38L245.50,41.40L245.75,41.42L246.00,41.44L246.25,41.46L246.50,41.48L246.75,41.50L247.00,41.52L247.25,41.54L247.50,41.57L247.75,41.59L248.00,41.61L248.25,41.63L248.50,41.65L248.75,41.67L249.00,41.69L249.25,41.71L249.50,41.73L249.75,41.75L250.00,41.77L250.25,41.79L250.50,41.81L250.75,41.82L251.00,41.84L251.25,41.86L251.50,41.88L251.75,41.89L252.00,41.91L252.25,41.92L252.50,41.93L252.75,41.94L253.00,41.96L253.25,41.97L253.50,41.98L253.75,41.99L254.00,41.99L254.25,42.00L254.50,42.01L254.75,42.01L255.00,42.01L255.25,42.02L255.50,42.02L255.75,42.02L256.00,42.02L256.25,42.03L256.50,42.03L256.75,42.04L257.00,42.04L257.25,42.04L257.50,42.05L257.75,42.05L258.00,42.06L258.25,42.06L258.50,42.06L258.75,42.07L259.00,42.07L259.25,42.07L259.50,42.08L259.75,42.08L260.00,42.08L260.25,42.09L260.50,42.09L260.75,42.09L261.00,42.10L261.25,42.10L261.50,42.10L261.75,42.11L262.00,42.11L262.25,42.11L262.50,42.12L262.75,42.12L263.00,42.12L263.25,42.13L263.50,42.13L263.75,42.13L264.00,42.13L264.25,42.14L264.50,42.14L264.75,42.14L265.00,42.15L265.25,42.15L265.50,42.15L265.75,42.16L266.00,42.16L266.25,42.17L266.50,42.17L266.75,42.17L267.00,42.18L267.25,42.18L267.50,42.18L267.75,42.19L268.00,42.19L268.25,42.20L268.50,42.20L268.75,42.21L269.00,42.21L269.25,42.22L269.50,42.22L269.75,42.22L270.00,42.23L270.25,42.23L270.50,42.24L270.75,42.24L271.00,42.24L271.25,42.24L271.50,42.24L271.75,42.24L272.00,42.24L272.25,42.24L272.50,42.23L272.75,42.23L273.00,42.23L273.25,42.22L273.50,42.21L273.75,42.21L274.00,42.20L274.25,42.19L274.50,42.18L274.75,42.18L275.00,42.17L275.25,42.16L275.50,42.15L275.75,42.13L276.00,42.12L276.25,42.11L276.50,42.10L276.75,42.09L277.00,42.08L277.25,42.06L277.50,42.05L277.75,42.04L278.00,42.02L278.25,42.01L278.50,42.00L278.75,41.98L279.00,41.97L279.25,41.95L279.50,41.94L279.75,41.93L280.00,41.91L280.25,41.89L280.50,41.84L280.75,41.77L281.00,41.70L281.25,41.61L281.50,41.52L281.75,41.43L282.00,41.35L282.25,41.28L282.50,41.22L282.75,41.18L283.00,41.17L283.25,41.18L283.50,41.19L283.75,41.21L284.00,41.24L284.25,41.27L284.50,41.31L284.75,41.35L285.00,41.40L285.25,41.45L285.50,41.51L285.75,41.57L286.00,41.63L286.25,41.70L286.50,41.76L286.75,41.83L287.00,41.90L287.25,41.97L287.50,42.04L287.75,42.10L288.00,42.17L288.25,42.24L288.50,42.30L288.75,42.36L289.00,42.41L289.25,42.47L289.50,42.52L289.75,42.56L290.00,42.60L290.25,42.63L290.50,42.67L290.75,42.70L291.00,42.73L291.25,42.76L291.50,42.79L291.75,42.82L292.00,42.85L292.25,42.87L292.50,42.90L292.75,42.92L293.00,42.95L293.25,42.97L293.50,42.99L293.75,43.02L294.00,43.04L294.25,43.06L294.50,43.08L294.75,43.10L295.00,43.13L295.25,43.15L295.50,43.17L295.75,43.19L296.00,43.22L296.25,43.24L296.50,43.26L296.75,43.29L297.00,43.31L297.25,43.34L297.50,43.36L297.75,43.39L298.00,43.42L298.25,43.45L298.50,43.48L298.75,43.51L299.00,43.54L299.25,43.58L299.50,43.61L299.75,43.65L300.00,43.69L300.25,43.73L300.50,43.78L300.75,43.84L301.00,43.90L301.25,43.97L301.50,44.04L301.75,44.12L302.00,44.20L302.25,44.28L302.50,44.37L302.75,44.46L303.00,44.55L303.25,44.65L303.50,44.74L303.75,44.84L304.00,44.94L304.25,45.04L304.50,45.13L304.75,45.23L305.00,45.32L305.25,45.41L305.50,45.50L305.75,45.59L306.00,45.67L306.25,45.75L306.50,45.82L306.75,45.89L307.00,45.96L307.25,46.02L307.50,46.07L307.75,46.12L308.00,46.16L308.25,46.19L308.50,46.21L308.75,46.23L309.00,46.23L309.25,46.22L309.50,46.20L309.75,46.16L310.00,46.10L310.25,46.03L310.50,45.95L310.75,45.85L311.00,45.75L311.25,45.64L311.50,45.52L311.75,45.40L312.00,45.27L312.25,45.14L312.50,45.01L312.75,44.88L313.00,44.75L313.25,44.62L313.50,44.50L313.75,44.38L314.00,44.27L314.25,44.17L314.50,44.08L314.75,44.00L315.00,43.92L315.25,43.87L315.50,43.83L315.75,43.80L316.00,43.79L316.25,43.80L316.50,43.80L316.75,43.81L317.00,43.82L317.25,43.84L317.50,43.86L317.75,43.88L318.00,43.90L318.25,43.92L318.50,43.95L318.75,43.98L319.00,44.01L319.25,44.04L319.50,44.08L319.75,44.11L320.00,44.15L320.25,44.19L320.50,44.23L320.75,44.28L321.00,44.32L321.25,44.36L321.50,44.41L321.75,44.45L322.00,44.50L322.25,44.54L322.50,44.59L322.75,44.64L323.00,44.69L323.25,44.73L323.50,44.78L323.75,44.83L324.00,44.87L324.25,44.92L324.50,44.97L324.75,45.01L325.00,45.05L325.25,45.10L325.50,45.14L325.75,45.18L326.00,45.22L326.25,45.26L326.50,45.29L326.75,45.33L327.00,45.36L327.25,45.39L327.50,45.42L327.75,45.45L328.00,45.47L328.25,45.50L328.50,45.52L328.75,45.53L329.00,45.55L329.25,45.56L329.50,45.57L329.75,45.58L330.00,45.58L330.25,45.58L330.50,45.56L330.75,45.55L331.00,45.52L331.25,45.49L331.50,45.45L331.75,45.41L332.00,45.37L332.25,45.33L332.50,45.28L332.75,45.24L333.00,45.19L333.25,45.15L333.50,45.11L333.75,45.07L334.00,45.04L334.25,45.02L334.50,45.00L334.75,44.99L335.00,44.98L335.25,44.99L335.50,45.02L335.75,45.06L336.00,45.11L336.25,45.18L336.50,45.25L336.75,45.33L337.00,45.41L337.25,45.50L337.50,45.59L337.75,45.68L338.00,45.77L338.25,45.86L338.50,45.94L338.75,46.01L339.00,46.08L339.25,46.13L339.50,46.17L339.75,46.19L340.00,46.20L340.25,46.19L340.50,46.15L340.75,46.09L341.00,46.01L341.25,45.91L341.50,45.79L341.75,45.66L342.00,45.52L342.25,45.37L342.50,45.21L342.75,45.06L343.00,44.90L343.25,44.74L343.50,44.59L343.75,44.44L344.00,44.31L344.25,44.18L344.50,44.07L344.75,43.98L345.00,43.91L345.25,43.85L345.50,43.79L345.75,43.73L346.00,43.67L346.25,43.61L346.50,43.55L346.75,43.49L347.00,43.44L347.25,43.38L347.50,43.33L347.75,43.28L348.00,43.23L348.25,43.18L348.50,43.13L348.75,43.09L349.00,43.04L349.25,43.01L349.50,42.97L349.75,42.94L350.00,42.91L350.25,42.88L350.50,42.85L350.75,42.83L351.00,42.82L351.25,42.80L351.50,42.79L351.75,42.79L352.00,42.79L352.25,42.79L352.50,42.80L352.75,42.81L353.00,42.83L353.25,42.85L353.50,42.88L353.75,42.91L354.00,42.94L354.25,42.98L354.50,43.02L354.75,43.07L355.00,43.12L355.25,43.17L355.50,43.22L355.75,43.28L356.00,43.34L356.25,43.41L356.50,43.47L356.75,43.54L357.00,43.61L357.25,43.69L357.50,43.76L357.75,43.84L358.00,43.92L358.25,44.00L358.50,44.08L358.75,44.17L359.00,44.25L359.25,44.34L359.50,44.43L359.75,44.52L360.00,44.61L360.25,44.70L360.50,44.80L360.75,44.91L361.00,45.03L361.25,45.15L361.50,45.29L361.75,45.44L362.00,45.59L362.25,45.76L362.50,45.93L362.75,46.12L363.00,46.32L363.25,46.54L363.50,46.76L363.75,47.00L364.00,47.25L364.25,47.51L364.50,47.79L364.75,48.09L365.00,48.39L365.25,48.76L365.50,49.24L365.75,49.81L366.00,50.46L366.25,51.19L366.50,51.99L366.75,52.84L367.00,53.74L367.25,54.74L367.50,55.88L367.75,57.19L368.00,58.66L368.25,60.31L368.50,62.15L368.75,64.34L369.00,67.06L369.25,70.27L369.50,73.96L369.75,78.63L370.00,84.50L370.25,91.10L370.50,97.98L370.75,105.06L371.00,112.66L371.25,120.93L371.50,130.00L371.75,141.29L372.00,155.43L372.25,171.36L372.50,188.01L372.75,204.33L373.00,219.24L373.25,231.70L373.50,241.47L373.75,250.49L374.00,259.44L374.25,268.09L374.50,276.22L374.75,283.60L375.00,290.00L375.25,295.19L375.50,298.94L375.75,301.02L376.00,301.07L376.25,297.74L376.50,291.36L376.75,282.61L377.00,272.20L377.25,260.82L377.50,249.16L377.75,237.90L378.00,225.64L378.25,210.93L378.50,194.69L378.75,177.91L379.00,161.57L379.25,146.65L379.50,134.12L379.75,124.25L380.00,114.98L380.25,106.73L380.50,100.20L380.75,95.07L381.00,90.30L381.25,85.83L381.50,81.76L381.75,78.18L382.00,75.20L382.25,72.69L382.50,70.36L382.75,68.18L383.00,66.07L383.25,64.02L383.50,62.05L383.75,60.20L384.00,58.51L384.25,56.95L384.50,55.53L384.75,54.26L385.00,53.16L385.25,52.28L385.50,51.62L385.75,51.11L386.00,50.66L386.25,50.25L386.50,49.87L386.75,49.52L387.00,49.21L387.25,48.91L387.50,48.64L387.75,48.39L388.00,48.15L388.25,47.93L388.50,47.72L388.75,47.51L389.00,47.31L389.25,47.11L389.50,46.91L389.75,46.70L390.00,46.49L390.25,46.27L390.50,46.04L390.75,45.80L391.00,45.56L391.25,45.32L391.50,45.08L391.75,44.85L392.00,44.63L392.25,44.41L392.50,44.22L392.75,44.04L393.00,43.88L393.25,43.74L393.50,43.63L393.75,43.55L394.00,43.51L394.25,43.51L394.50,43.56L394.75,43.68L395.00,43.86L395.25,44.08L395.50,44.31L395.75,44.49L396.00,44.61L396.25,44.64L396.50,44.56L396.75,44.42L397.00,44.23L397.25,44.00L397.50,43.75L397.75,43.50L398.00,43.25L398.25,43.00L398.50,42.73L398.75,42.46L399.00,42.17L399.25,41.88L399.50,41.59L399.75,41.31L400.00,41.04L400.25,40.78L400.50,40.54L400.75,40.32L401.00,40.13L401.25,39.96L401.50,39.84L401.75,39.75L402.00,39.70L402.25,39.71L402.50,39.78L402.75,39.88L403.00,40.03L403.25,40.21L403.50,40.43L403.75,40.68L404.00,40.96L404.25,41.27L404.50,41.60L404.75,41.96L405.00,42.33L405.25,42.74L405.50,43.22L405.75,43.75L406.00,44.33L406.25,44.94L406.50,45.69L406.75,46.75L407.00,47.96L407.25,49.26L407.50,50.48L407.75,51.36L408.00,51.92L408.25,52.12L408.50,51.93L408.75,51.42L409.00,50.84L409.25,50.46L409.50,50.45L409.75,50.89L410.00,52.00L410.25,53.99L410.50,56.63L410.75,59.89L411.00,63.73L411.25,67.83L411.50,73.00L411.75,79.06L412.00,85.14L412.25,90.22L412.50,94.83L412.75,99.45L413.00,103.57L413.25,106.02L413.50,105.83L413.75,103.62L414.00,100.27L414.25,96.50L414.50,93.03L414.75,89.97L415.00,87.12L415.25,84.46L415.50,81.85L415.75,79.37L416.00,77.12L416.25,75.16L416.50,73.58L416.75,72.30L417.00,71.20L417.25,70.23L417.50,69.32L417.75,68.53L418.00,67.88L418.25,67.40L418.50,67.14L418.75,67.18L419.00,67.56L419.25,68.24L419.50,69.19L419.75,70.34L420.00,71.66L420.25,73.31L420.50,75.42L420.75,78.36L421.00,82.28L421.25,86.73L421.50,91.26L421.75,95.85L422.00,100.80L422.25,106.02L422.50,109.96L422.75,111.09L423.00,109.76L423.25,107.08L423.50,103.71L423.75,100.31L424.00,97.57L424.25,95.46L424.50,93.64L424.75,92.03L425.00,90.47L425.25,89.02L425.50,87.73L425.75,86.67L426.00,85.88L426.25,85.43L426.50,85.39L426.75,85.84L427.00,86.69L427.25,87.83L427.50,89.15L427.75,90.53L428.00,91.86L428.25,93.46L428.50,95.54L428.75,97.82L429.00,100.02L429.25,101.87L429.50,103.09L429.75,103.37L430.00,102.00L430.25,99.22L430.50,95.72L430.75,92.19L431.00,89.30L431.25,87.10L431.50,85.11L431.75,83.12L432.00,81.27L432.25,79.66L432.50,78.43L432.75,77.72L433.00,77.65L433.25,78.41L433.50,79.78L433.75,81.53L434.00,83.45L434.25,85.30L434.50,86.96L434.75,88.60L435.00,90.33L435.25,92.16L435.50,94.15L435.75,96.26L436.00,98.48L436.25,100.86L436.50,103.41L436.75,106.18L437.00,109.22L437.25,112.79L437.50,117.03L437.75,121.75L438.00,126.76L438.25,131.84L438.50,136.78L438.75,141.63L439.00,146.53L439.25,151.52L439.50,156.63L439.75,161.86L440.00,167.25L440.25,172.81L440.50,178.58L440.75,184.77L441.00,191.52L441.25,198.81L441.50,206.51L441.75,214.41L442.00,222.30L442.25,229.97L442.50,237.77L442.75,246.79L443.00,255.59L443.25,261.59L443.50,262.60L443.75,260.89L444.00,257.67L444.25,253.37L444.50,248.47L444.75,243.40L445.00,238.63L445.25,234.20L445.50,229.84L445.75,225.38L446.00,220.86L446.25,216.33L446.50,211.83L446.75,207.40L447.00,203.10L447.25,198.76L447.50,194.13L447.75,188.67L448.00,182.67L448.25,176.60L448.50,170.95L448.75,166.20L449.00,162.82L449.25,161.24L449.50,162.99L449.75,169.22L450.00,177.99L450.25,187.23L450.50,197.89L450.75,212.00L451.00,223.75L451.25,227.28L451.50,222.14L451.75,212.30L452.00,201.06L452.25,191.73L452.50,184.93L452.75,178.55L453.00,172.64L453.25,167.31L453.50,162.67L453.75,158.09L454.00,153.52L454.25,149.86L454.50,148.01L454.75,148.55L455.00,151.36L455.25,155.82L455.50,161.22L455.75,166.88L456.00,172.21L456.25,177.80L456.50,184.28L456.75,191.43L457.00,199.12L457.25,207.15L457.50,214.97L457.75,222.28L458.00,229.71L458.25,237.71L458.50,246.14L458.75,253.84L459.00,259.63L459.25,262.36L459.50,261.48L459.75,258.07L460.00,252.76L460.25,246.18L460.50,238.93L460.75,231.64L461.00,224.91L461.25,218.07L461.50,210.38L461.75,202.35L462.00,194.53L462.25,187.44L462.50,181.60L462.75,176.28L463.00,171.12L463.25,167.20L463.50,165.61L463.75,168.93L464.00,177.14L464.25,187.58L464.50,197.56L464.75,208.62L465.00,221.81L465.25,233.68L465.50,240.77L465.75,240.20L466.00,233.97L466.25,226.12L466.50,220.67L466.75,220.65L467.00,223.72L467.25,228.28L467.50,233.02L467.75,237.68L468.00,243.50L468.25,249.41L468.50,254.18L468.75,256.55L469.00,254.44L469.25,246.84L469.50,236.04L469.75,224.36L470.00,214.15L470.25,205.13L470.50,195.75L470.75,186.41L471.00,177.52L471.25,169.47L471.50,162.69L471.75,156.39L472.00,150.30L472.25,145.62L472.50,143.54L472.75,143.22L473.00,143.00L473.25,142.86L473.50,142.76L473.75,142.68L474.00,142.62L474.25,142.55L474.50,142.44L474.75,142.29L475.00,142.06L475.25,141.66L475.50,140.99L475.75,140.10L476.00,139.06L476.25,137.89L476.50,136.66L476.75,135.41L477.00,134.18L477.25,132.78L477.50,131.02L477.75,129.03L478.00,126.92L478.25,124.80L478.50,122.80L478.75,121.02L479.00,119.58L479.25,118.60L479.50,118.25L479.75,118.68L480.00,120.19L480.25,122.53L480.50,125.20L480.75,128.42L481.00,132.67L481.25,137.20L481.50,140.88L481.75,142.71L482.00,142.66L482.25,140.89L482.50,136.98L482.75,131.73L483.00,126.48L483.25,121.90L483.50,118.38L483.75,115.70L484.00,113.11L484.25,110.69L484.50,108.51L484.75,106.64L485.00,105.16L485.25,104.13L485.50,103.64L485.75,103.74L486.00,104.33L486.25,105.32L486.50,106.63L486.75,108.21L487.00,110.00L487.25,111.92L487.50,113.92L487.75,115.93L488.00,117.89L488.25,120.19L488.50,123.16L488.75,126.60L489.00,130.32L489.25,134.13L489.50,137.86L489.75,141.31L490.00,144.28L490.25,146.60L490.50,148.07L490.75,148.49L491.00,147.60L491.25,145.53L491.50,142.51L491.75,138.83L492.00,134.73L492.25,130.46L492.50,126.29L492.75,122.47L493.00,119.24L493.25,116.38L493.50,113.49L493.75,110.60L494.00,107.73L494.25,104.89L494.50,102.12L494.75,99.42L495.00,96.83L495.25,94.36L495.50,92.03L495.75,89.88L496.00,87.91L496.25,86.06L496.50,84.25L496.75,82.50L497.00,80.87L497.25,79.38L497.50,78.06L497.75,76.96L498.00,76.10L498.25,75.38L498.50,74.67L498.75,73.99L499.00,73.37L499.25,72.82L499.50,72.36L499.75,72.02L500.00,71.82L500.25,71.78L500.50,72.07L500.75,73.05L501.00,74.59L501.25,76.59L501.50,78.94L501.75,81.50L502.00,84.18L502.25,88.48L502.50,94.91L502.75,101.82L503.00,107.56L503.25,110.49L503.50,108.84L503.75,103.05L504.00,95.74L504.25,89.48L504.50,83.85L504.75,78.38L505.00,75.31L505.25,74.05L505.50,72.94L505.75,71.95L506.00,71.08L506.25,70.30L506.50,69.61L506.75,68.99L507.00,68.42L507.25,67.88L507.50,67.39L507.75,66.94L508.00,66.52L508.25,66.12L508.50,65.74L508.75,65.37L509.00,65.01L509.25,64.64L509.50,64.28L509.75,63.90L510.00,63.50L510.25,62.96L510.50,62.39L510.75,61.81L511.00,61.22L511.25,60.63L511.50,60.05L511.75,59.49L512.00,58.96L512.25,58.46L512.50,58.01L512.75,57.62L513.00,57.29L513.25,57.33L513.50,57.44L513.75,57.61L514.00,57.82L514.25,58.07L514.50,58.34L514.75,58.63L515.00,58.93L515.25,59.30L515.50,59.78L515.75,60.28L516.00,60.74L516.25,61.07L516.50,61.20L516.75,60.74L517.00,59.51L517.25,57.78L517.50,55.80L517.75,53.81L518.00,52.08L518.25,50.86L518.50,50.40L518.75,50.54L519.00,50.92L519.25,51.49L519.50,52.19L519.75,52.98L520.00,53.82L520.25,54.72L520.50,55.76L520.75,56.96L521.00,58.35L521.25,60.16L521.50,62.52L521.75,65.25L522.00,68.18L522.25,71.09L522.50,74.20L522.75,78.56L523.00,84.91L523.25,94.83L523.50,108.37L523.75,124.50L524.00,141.98L524.25,161.41L524.50,183.14L524.75,204.18L525.00,221.54L525.25,232.22L525.50,233.45L525.75,225.92L526.00,212.10L526.25,194.28L526.50,174.77L526.75,155.87L527.00,139.87L527.25,126.86L527.50,115.85L527.75,106.48L528.00,97.93L528.25,90.25L528.50,83.51L528.75,77.42L529.00,71.69L529.25,66.45L529.50,61.83L529.75,57.97L530.00,55.05L530.25,52.79L530.50,50.82L530.75,49.17L531.00,47.87L531.25,46.81L531.50,45.87L531.75,44.99L532.00,44.17L532.25,43.45L532.50,42.83L532.75,42.34L533.00,42.01L533.25,41.80L533.50,41.59L533.75,41.39L534.00,41.21L534.25,41.04L534.50,40.89L534.75,40.75L535.00,40.63L535.25,40.52L535.50,40.43L535.75,40.35L536.00,40.29L536.25,40.25L536.50,40.23L536.75,40.23L537.00,40.25L537.25,40.29L537.50,40.36L537.75,40.46L538.00,40.57L538.25,40.70L538.50,40.84L538.75,40.97L539.00,41.10L539.25,41.21L539.50,41.31L539.75,41.39L540.00,41.43L540.25,41.27L540.50,40.83L540.75,40.24L541.00,39.63L541.25,39.14L541.50,38.91L541.75,38.97L542.00,39.21L542.25,39.58L542.50,40.02L542.75,40.45L543.00,40.77L543.25,41.02L543.50,41.25L543.75,41.44L544.00,41.57L544.25,41.66L544.50,41.74L544.75,41.81L545.00,41.85" stroke="#0000ff"/>
<path d="M30.50,46.82L30.75,46.83L31.00,46.83L31.25,46.84L31.50,46.85L31.75,46.86L32.00,46.87L32.25,46.87L32.50,46.88L32.75,46.89L33.00,46.90L33.25,46.90L33.50,46.91L33.75,46.92L34.00,46.93L34.25,46.93L34.50,46.94L34.75,46.95L35.00,46.96L35.25,46.97L35.50,46.97L35.75,46.98L36.00,46.99L36.25,47.00L36.50,47.00L36.75,47.01L37.00,47.02L37.25,47.03L37.50,47.04L37.75,47.04L38.00,47.05L38.25,47.06L38.50,47.07L38.75,47.07L39.00,47.08L39.25,47.09L39.50,47.10L39.75,47.10L40.00,47.11L40.25,47.12L40.50,47.13L40.75,47.13L41.00,47.14L41.25,47.15L41.50,47.16L41.75,47.16L42.00,47.17L42.25,47.18L42.50,47.18L42.75,47.19L43.00,47.20L43.25,47.21L43.50,47.21L43.75,47.22L44.00,47.23L44.25,47.23L44.50,47.24L44.75,47.24L45.00,47.25L45.25,47.26L45.50,47.26L45.75,47.27L46.00,47.28L46.25,47.28L46.50,47.29L46.75,47.30L47.00,47.30L47.25,47.31L47.50,47.31L47.75,47.32L48.00,47.33L48.25,47.33L48.50,47.34L48.75,47.35L49.00,47.35L49.25,47.36L49.50,47.36L49.75,47.37L50.00,47.38L50.25,47.38L50.50,47.39L50.75,47.40L51.00,47.40L51.25,47.41L51.50,47.42L51.75,47.42L52.00,47.43L52.25,47.43L52.50,47.44L52.75,47.45L53.00,47.46L53.25,47.46L53.50,47.47L53.75,47.48L54.00,47.48L54.25,47.49L54.50,47.50L54.75,47.50L55.00,47.51L55.25,47.52L55.50,47.53L55.75,47.53L56.00,47.54L56.25,47.55L56.50,47.56L56.75,47.57L57.00,47.57L57.25,47.58L57.50,47.59L57.75,47.60L58.00,47.61L58.25,47.62L58.50,47.62L58.75,47.63L59.00,47.64L59.25,47.65L59.50,47.66L59.75,47.67L60.00,47.68L60.25,47.69L60.50,47.70L60.75,47.71L61.00,47.72L61.25,47.73L61.50,47.74L61.75,47.75L62.00,47.76L62.25,47.78L62.50,47.79L62.75,47.80L63.00,47.81L63.25,47.82L63.50,47.84L63.75,47.85L64.00,47.86L64.25,47.88L64.50,47.89L64.75,47.91L65.00,47.92L65.25,47.93L65.50,47.95L65.75,47.96L66.00,47.98L66.25,48.00L66.50,48.01L66.75,48.03L67.00,48.04L67.25,48.06L67.50,48.07L67.75,48.09L68.00,48.11L68.25,48.13L68.50,48.14L68.75,48.16L69.00,48.18L69.25,48.19L69.50,48.21L69.75,48.23L70.00,48.25L70.25,48.27L70.50,48.28L70.75,48.30L71.00,48.32L71.25,48.34L71.50,48.36L71.75,48.38L72.00,48.40L72.25,48.42L72.50,48.44L72.75,48.46L73.00,48.47L73.25,48.49L73.50,48.51L73.75,48.53L74.00,48.55L74.25,48.57L74.50,48.59L74.75,48.62L75.00,48.64L75.25,48.66L75.50,48.68L75.75,48.70L76.00,48.72L76.25,48.74L76.50,48.76L76.75,48.78L77.00,48.80L77.25,48.82L77.50,48.84L77.75,48.87L78.00,48.89L78.25,48.91L78.50,48.93L78.75,48.95L79.00,48.97L79.25,48.99L79.50,49.01L79.75,49.04L80.00,49.06L80.25,49.08L80.50,49.10L80.75,49.13L81.00,49.15L81.25,49.18L81.50,49.21L81.75,49.23L82.00,49.26L82.25,49.29L82.50,49.32L82.75,49.35L83.00,49.39L83.25,49.42L83.50,49.45L83.75,49.49L84.00,49.52L84.25,49.55L84.50,49.59L84.75,49.62L85.00,49.66L85.25,49.69L85.50,49.73L85.75,49.76L86.00,49.80L86.25,49.84L86.50,49.87L86.75,49.91L87.00,49.94L87.25,49.98L87.50,50.01L87.75,50.05L88.00,50.08L88.25,50.11L88.50,50.15L88.75,50.18L89.00,50.21L89.25,50.25L89.50,50.28L89.75,50.31L90.00,50.34L90.25,50.37L90.50,50.39L90.75,50.42L91.00,50.45L91.25,50.47L91.50,50.50L91.75,50.52L92.00,50.54L92.25,50.56L92.50,50.58L92.75,50.60L93.00,50.62L93.25,50.64L93.50,50.65L93.75,50.66L94.00,50.67L94.25,50.68L94.50,50.69L94.75,50.70L95.00,50.70L95.25,50.71L95.50,50.71L95.75,50.72L96.00,50.72L96.25,50.73L96.50,50.73L96.75,50.73L97.00,50.74L97.25,50.74L97.50,50.75L97.75,50.75L98.00,50.75L98.25,50.76L98.50,50.76L98.75,50.77L99.00,50.77L99.25,50.77L99.50,50.78L99.75,50.78L100.00,50.79L100.25,50.79L100.50,50.78L100.75,50.78L101.00,50.77L101.25,50.76L101.50,50.75L101.75,50.74L102.00,50.73L102.25,50.72L102.50,50.71L102.75,50.70L103.00,50.68L103.25,50.67L103.50,50.66L103.75,50.65L104.00,50.63L104.25,50.62L104.50,50.61L104.75,50.61L105.00,50.60L105.25,50.59L105.50,50.59L105.75,50.58L106.00,50.57L106.25,50.57L106.50,50.56L106.75,50.55L107.00,50.55L107.25,50.54L107.50,50.54L107.75,50.53L108.00,50.53L108.25,50.53L108.50,50.54L108.75,50.55L109.00,50.57L109.25,50.59L109.50,50.62L109.75,50.65L110.00,50.68L110.25,50.73L110.50,50.80L110.75,50.89L111.00,50.99L111.25,51.10L111.50,51.23L111.75,51.37L112.00,51.51L112.25,51.65L112.50,51.78L112.75,51.90L113.00,51.99L113.25,52.06L113.50,52.09L113.75,52.08L114.00,52.05L114.25,51.98L114.50,51.89L114.75,51.79L115.00,51.67L115.25,51.56L115.50,51.45L115.75,51.34L116.00,51.23L116.25,51.12L116.50,51.01L116.75,50.90L117.00,50.80L117.25,50.69L117.50,50.59L117.75,50.49L118.00,50.38L118.25,50.26L118.50,50.13L118.75,50.00L119.00,49.87L119.25,49.75L119.50,49.63L119.75,49.52L120.00,49.42L120.25,49.34L120.50,49.25L120.75,49.17L121.00,49.10L121.25,49.04L121.50,48.98L121.75,48.94L122.00,48.90L122.25,48.87L122.50,48.84L122.75,48.81L123.00,48.78L123.25,48.76L123.50,48.73L123.75,48.71L124.00,48.68L124.25,48.66L124.50,48.63L124.75,48.61L125.00,48.59L125.25,48.56L125.50,48.54L125.75,48.52L126.00,48.49L126.25,48.47L126.50,48.45L126.75,48.43L127.00,48.41L127.25,48.39L127.50,48.37L127.75,48.35L128.00,48.33L128.25,48.31L128.50,48.29L128.75,48.28L129.00,48.26L129.25,48.24L129.50,48.22L129.75,48.21L130.00,48.19L130.25,48.17L130.50,48.15L130.75,48.14L131.00,48.12L131.25,48.10L131.50,48.08L131.75,48.07L132.00,48.05L132.25,48.03L132.50,48.01L132.75,48.00L133.00,47.98L133.25,47.96L133.50,47.95L133.75,47.93L134.00,47.91L134.25,47.90L134.50,47.88L134.75,47.87L135.00,47.85L135.25,47.84L135.50,47.82L135.75,47.81L136.00,47.79L136.25,47.78L136.50,47.76L136.75,47.75L137.00,47.74L137.25,47.72L137.50,47.71L137.75,47.70L138.00,47.68L138.25,47.67L138.50,47.66L138.75,47.65L139.00,47.63L139.25,47.62L139.50,47.61L139.75,47.60L140.00,47.59L140.25,47.58L140.50,47.57L140.75,47.56L141.00,47.55L141.25,47.54L141.50,47.53L141.75,47.53L142.00,47.52L142.25,47.51L142.50,47.50L142.75,47.50L143.00,47.49L143.25,47.49L143.50,47.48L143.75,47.48L144.00,47.47L144.25,47.47L144.50,47.47L144.75,47.47L145.00,47.47L145.25,47.46L145.50,47.46L145.75,47.47L146.00,47.47L146.25,47.47L146.50,47.48L146.75,47.49L147.00,47.49L147.25,47.50L147.50,47.51L147.75,47.52L148.00,47.53L148.25,47.54L148.50,47.55L148.75,47.57L149.00,47.58L149.25,47.59L149.50,47.61L149.75,47.62L150.00,47.64L150.25,47.65L150.50,47.67L150.75,47.68L151.00,47.70L151.25,47.72L151.50,47.73L151.75,47.75L152.00,47.76L152.25,47.78L152.50,47.80L152.75,47.81L153.00,47.83L153.25,47.85L153.50,47.87L153.75,47.89L154.00,47.91L154.25,47.92L154.50,47.94L154.75,47.96L155.00,47.98L155.25,48.00L155.50,48.03L155.75,48.05L156.00,48.07L156.25,48.09L156.50,48.11L156.75,48.13L157.00,48.15L157.25,48.17L157.50,48.20L157.75,48.22L158.00,48.24L158.25,48.26L158.50,48.28L158.75,48.30L159.00,48.33L159.25,48.35L159.50,48.37L159.75,48.39L160.00,48.41L160.25,48.43L160.50,48.46L160.75,48.48L161.00,48.50L161.25,48.53L161.50,48.55L161.75,48.57L162.00,48.60L162.25,48.62L162.50,48.65L162.75,48.67L163.00,48.70L163.25,48.72L163.50,48.75L163.75,48.78L164.00,48.80L164.25,48.83L164.50,48.86L164.75,48.89L165.00,48.91L165.25,48.94L165.50,48.97L165.75,49.00L166.00,49.03L166.25,49.06L166.50,49.09L166.75,49.12L167.00,49.15L167.25,49.18L167.50,49.21L167.75,49.24L168.00,49.27L168.25,49.30L168.50,49.33L168.75,49.36L169.00,49.39L169.25,49.42L169.50,49.45L169.75,49.48L170.00,49.51L170.25,49.54L170.50,49.57L170.75,49.60L171.00,49.63L171.25,49.66L171.50,49.69L171.75,49.71L172.00,49.74L172.25,49.77L172.50,49.80L172.75,49.83L173.00,49.86L173.25,49.89L173.50,49.92L173.75,49.95L174.00,49.99L174.25,50.03L174.50,50.07L174.75,50.11L175.00,50.15L175.25,50.20L175.50,50.25L175.75,50.30L176.00,50.36L176.25,50.42L176.50,50.49L176.75,50.56L177.00,50.63L177.25,50.71L177.50,50.81L177.75,50.92L178.00,51.04L178.25,51.18L178.50,51.35L178.75,51.54L179.00,51.76L179.25,52.01L179.50,52.28L179.75,52.57L180.00,52.89L180.25,53.24L180.50,53.64L180.75,54.10L181.00,54.59L181.25,55.17L181.50,55.87L181.75,56.66L182.00,57.56L182.25,58.56L182.50,59.68L182.75,60.91L183.00,62.47L183.25,64.43L183.50,66.70L183.75,69.22L184.00,71.92L184.25,74.76L184.50,77.72L184.75,80.69L185.00,83.59L185.25,86.33L185.50,88.83L185.75,91.22L186.00,93.53L186.25,95.78L186.50,98.02L186.75,100.22L187.00,102.38L187.25,104.51L187.50,106.59L187.75,108.62L188.00,110.59L188.25,112.52L188.50,114.45L188.75,116.34L189.00,118.25L189.25,120.21L189.50,122.19L189.75,124.14L190.00,126.02L190.25,127.86L190.50,129.66L190.75,131.37L191.00,132.91L191.25,134.22L191.50,135.23L191.75,135.89L192.00,136.12L192.25,135.75L192.50,134.76L192.75,133.25L193.00,131.36L193.25,129.22L193.50,126.95L193.75,124.69L194.00,122.56L194.25,120.36L194.50,117.87L194.75,115.20L195.00,112.43L195.25,109.66L195.50,106.99L195.75,104.51L196.00,102.33L196.25,100.29L196.50,98.23L196.75,96.21L197.00,94.30L197.25,92.54L197.50,90.99L197.75,89.71L198.00,88.76L198.25,87.99L198.50,87.25L198.75,86.61L199.00,86.11L199.25,85.82L199.50,85.79L199.75,86.04L200.00,86.52L200.25,87.17L200.50,87.94L200.75,88.77L201.00,89.75L201.25,91.05L201.50,92.67L201.75,94.49L202.00,96.36L202.25,98.29L202.50,100.30L202.75,102.24L203.00,103.97L203.25,105.33L203.50,106.18L203.75,106.15L204.00,104.39L204.25,101.27L204.50,97.34L204.75,93.12L205.00,89.14L205.25,84.63L205.50,79.16L205.75,73.83L206.00,69.75L206.25,66.43L206.50,63.05L206.75,60.15L207.00,58.29L207.25,57.24L207.50,56.36L207.75,55.59L208.00,54.92L208.25,54.32L208.50,53.80L208.75,53.32L209.00,52.91L209.25,52.56L209.50,52.28L209.75,52.09L210.00,51.98L210.25,51.92L210.50,51.86L210.75,51.81L211.00,51.76L211.25,51.72L211.50,51.68L211.75,51.64L212.00,51.61L212.25,51.57L212.50,51.54L212.75,51.52L213.00,51.49L213.25,51.47L213.50,51.44L213.75,51.42L214.00,51.40L214.25,51.37L214.50,51.35L214.75,51.33L215.00,51.31L215.25,51.28L215.50,51.25L215.75,51.21L216.00,51.17L216.25,51.12L216.50,51.07L216.75,51.01L217.00,50.96L217.25,50.89L217.50,50.83L217.75,50.76L218.00,50.69L218.25,50.62L218.50,50.55L218.75,50.47L219.00,50.40L219.25,50.32L219.50,50.24L219.75,50.17L220.00,50.09L220.25,50.01L220.50,49.94L220.75,49.87L221.00,49.79L221.25,49.72L221.50,49.66L221.75,49.59L222.00,49.53L222.25,49.47L222.50,49.41L222.75,49.36L223.00,49.31L223.25,49.26L223.50,49.22L223.75,49.19L224.00,49.16L224.25,49.14L224.50,49.12L224.75,49.11L225.00,49.10L225.25,49.10L225.50,49.10L225.75,49.10L226.00,49.10L226.25,49.10L226.50,49.10L226.75,49.10L227.00,49.10L227.25,49.10L227.50,49.09L227.75,49.09L228.00,49.09L228.25,49.09L228.50,49.09L228.75,49.09L229.00,49.09L229.25,49.09L229.50,49.09L229.75,49.09L230.00,49.09L230.25,49.09L230.50,49.09L230.75,49.10L231.00,49.10L231.25,49.10L231.50,49.10L231.75,49.10L232.00,49.10L232.25,49.10L232.50,49.10L232.75,49.10L233.00,49.10L233.25,49.10L233.50,49.10L233.75,49.10L234.00,49.11L234.25,49.11L234.50,49.11L234.75,49.11L235.00,49.11L235.25,49.11L235.50,49.11L235.75,49.11L236.00,49.12L236.25,49.12L236.50,49.12L236.75,49.12L237.00,49.12L237.25,49.12L237.50,49.12L237.75,49.13L238.00,49.13L238.25,49.13L238.50,49.13L238.75,49.13L239.00,49.13L239.25,49.14L239.50,49.14L239.75,49.14L240.00,49.14L240.25,49.14L240.50,49.15L240.75,49.15L241.00,49.16L241.25,49.16L241.50,49.17L241.75,49.18L242.00,49.19L242.25,49.20L242.50,49.21L242.75,49.23L243.00,49.24L243.25,49.26L243.50,49.27L243.75,49.29L244.00,49.30L244.25,49.32L244.50,49.34L244.75,49.36L245.00,49.38L245.25,49.40L245.50,49.42L245.75,49.44L246.00,49.46L246.25,49.48L246.50,49.50L246.75,49.52L247.00,49.54L247.25,49.57L247.50,49.59L247.75,49.61L248.00,49.63L248.25,49.65L248.50,49.68L248.75,49.70L249.00,49.72L249.25,49.74L249.50,49.76L249.75,49.78L250.00,49.80L250.25,49.82L250.50,49.84L250.75,49.86L251.00,49.88L251.25,49.90L251.50,49.92L251.75,49.93L252.00,49.95L252.25,49.97L252.50,49.98L252.75,49.99L253.00,50.01L253.25,50.02L253.50,50.03L253.75,50.04L254.00,50.05L254.25,50.06L254.50,50.07L254.75,50.07L255.00,50.08L255.25,50.08L255.50,50.09L255.75,50.09L256.00,50.10L256.25,50.10L256.50,50.11L256.75,50.11L257.00,50.12L257.25,50.12L257.50,50.12L257.75,50.13L258.00,50.13L258.25,50.14L258.50,50.14L258.75,50.14L259.00,50.15L259.25,50.15L259.50,50.16L259.75,50.16L260.00,50.16L260.25,50.17L260.50,50.17L260.75,50.17L261.00,50.18L261.25,50.18L261.50,50.18L261.75,50.18L262.00,50.19L262.25,50.19L262.50,50.19L262.75,50.20L263.00,50.20L263.25,50.20L263.50,50.21L263.75,50.21L264.00,50.21L264.25,50.22L264.50,50.22L264.75,50.22L265.00,50.23L265.25,50.23L265.50,50.23L265.75,50.24L266.00,50.24L266.25,50.24L266.50,50.25L266.75,50.25L267.00,50.26L267.25,50.26L267.50,50.26L267.75,50.27L268.00,50.27L268.25,50.28L268.50,50.28L268.75,50.29L269.00,50.29L269.25,50.30L269.50,50.30L269.75,50.31L270.00,50.31L270.25,50.32L270.50,50.33L270.75,50.33L271.00,50.34L271.25,50.34L271.50,50.35L271.75,50.35L272.00,50.36L272.25,50.36L272.50,50.37L272.75,50.37L273.00,50.38L273.25,50.38L273.50,50.38L273.75,50.39L274.00,50.39L274.25,50.39L274.50,50.39L274.75,50.40L275.00,50.40L275.25,50.40L275.50,50.40L275.75,50.40L276.00,50.40L276.25,50.40L276.50,50.40L276.75,50.40L277.00,50.39L277.25,50.39L277.50,50.39L277.75,50.38L278.00,50.38L278.25,50.38L278.50,50.37L278.75,50.36L279.00,50.36L279.25,50.35L279.50,50.34L279.75,50.33L280.00,50.32L280.25,50.29L280.50,50.23L280.75,50.14L281.00,50.02L281.25,49.90L281.50,49.76L281.75,49.63L282.00,49.51L282.25,49.40L282.50,49.31L282.75,49.26L283.00,49.24L283.25,49.24L283.50,49.25L283.75,49.27L284.00,49.30L284.25,49.34L284.50,49.38L284.75,49.42L285.00,49.47L285.25,49.53L285.50,49.59L285.75,49.65L286.00,49.72L286.25,49.79L286.50,49.86L286.75,49.93L287.00,50.00L287.25,50.08L287.50,50.15L287.75,50.22L288.00,50.29L288.25,50.36L288.50,50.43L288.75,50.49L289.00,50.55L289.25,50.60L289.50,50.65L289.75,50.70L290.00,50.74L290.25,50.77L290.50,50.81L290.75,50.84L291.00,50.87L291.25,50.90L291.50,50.93L291.75,50.96L292.00,50.98L292.25,51.01L292.50,51.03L292.75,51.06L293.00,51.08L293.25,51.10L293.50,51.13L293.75,51.15L294.00,51.17L294.25,51.19L294.50,51.21L294.75,51.23L295.00,51.25L295.25,51.27L295.50,51.30L295.75,51.32L296.00,51.34L296.25,51.36L296.50,51.38L296.75,51.41L297.00,51.43L297.25,51.46L297.50,51.48L297.75,51.51L298.00,51.53L298.25,51.56L298.50,51.59L298.75,51.62L299.00,51.65L299.25,51.69L299.50,51.72L299.75,51.76L300.00,51.80L300.25,51.84L300.50,51.89L300.75,51.94L301.00,52.00L301.25,52.07L301.50,52.14L301.75,52.22L302.00,52.30L302.25,52.38L302.50,52.47L302.75,52.56L303.00,52.65L303.25,52.74L303.50,52.84L303.75,52.93L304.00,53.03L304.25,53.13L304.50,53.22L304.75,53.31L305.00,53.41L305.25,53.50L305.50,53.58L305.75,53.67L306.00,53.75L306.25,53.83L306.50,53.90L306.75,53.97L307.00,54.03L307.25,54.09L307.50,54.14L307.75,54.19L308.00,54.23L308.25,54.26L308.50,54.28L308.75,54.29L309.00,54.30L309.25,54.29L309.50,54.26L309.75,54.21L310.00,54.15L310.25,54.08L310.50,53.99L310.75,53.89L311.00,53.78L311.25,53.66L311.50,53.53L311.75,53.40L312.00,53.26L312.25,53.13L312.50,52.99L312.75,52.85L313.00,52.71L313.25,52.57L313.50,52.44L313.75,52.31L314.00,52.19L314.25,52.08L314.50,51.98L314.75,51.90L315.00,51.82L315.25,51.76L315.50,51.71L315.75,51.68L316.00,51.67L316.25,51.68L316.50,51.68L316.75,51.69L317.00,51.70L317.25,51.72L317.50,51.73L317.75,51.75L318.00,51.77L318.25,51.80L318.50,51.83L318.75,51.85L319.00,51.89L319.25,51.92L319.50,51.95L319.75,51.99L320.00,52.03L320.25,52.07L320.50,52.11L320.75,52.15L321.00,52.19L321.25,52.24L321.50,52.28L321.75,52.33L322.00,52.38L322.25,52.42L322.50,52.47L322.75,52.52L323.00,52.57L323.25,52.61L323.50,52.66L323.75,52.71L324.00,52.75L324.25,52.80L324.50,52.85L324.75,52.89L325.00,52.94L325.25,52.98L325.50,53.02L325.75,53.06L326.00,53.10L326.25,53.14L326.50,53.18L326.75,53.21L327.00,53.25L327.25,53.28L327.50,53.31L327.75,53.33L328.00,53.36L328.25,53.38L328.50,53.40L328.75,53.42L329.00,53.43L329.25,53.44L329.50,53.45L329.75,53.45L330.00,53.46L330.25,53.45L330.50,53.44L330.75,53.42L331.00,53.40L331.25,53.37L331.50,53.33L331.75,53.29L332.00,53.25L332.25,53.21L332.50,53.17L332.75,53.12L333.00,53.08L333.25,53.04L333.50,53.00L333.75,52.97L334.00,52.94L334.25,52.91L334.50,52.89L334.75,52.88L335.00,52.88L335.25,52.89L335.50,52.91L335.75,52.96L336.00,53.01L336.25,53.08L336.50,53.16L336.75,53.24L337.00,53.33L337.25,53.43L337.50,53.53L337.75,53.62L338.00,53.72L338.25,53.81L338.50,53.90L338.75,53.97L339.00,54.04L339.25,54.10L339.50,54.14L339.75,54.17L340.00,54.18L340.25,54.16L340.50,54.12L340.75,54.06L341.00,53.97L341.25,53.87L341.50,53.75L341.75,53.61L342.00,53.47L342.25,53.31L342.50,53.15L342.75,52.99L343.00,52.82L343.25,52.66L343.50,52.51L343.75,52.35L344.00,52.21L344.25,52.08L344.50,51.97L344.75,51.87L345.00,51.80L345.25,51.73L345.50,51.66L345.75,51.60L346.00,51.53L346.25,51.47L346.50,51.40L346.75,51.34L347.00,51.28L347.25,51.22L347.50,51.16L347.75,51.10L348.00,51.05L348.25,51.00L348.50,50.94L348.75,50.90L349.00,50.85L349.25,50.81L349.50,50.77L349.75,50.73L350.00,50.69L350.25,50.66L350.50,50.64L350.75,50.61L351.00,50.59L351.25,50.58L351.50,50.56L351.75,50.56L352.00,50.56L352.25,50.56L352.50,50.57L352.75,50.58L353.00,50.60L353.25,50.62L353.50,50.64L353.75,50.67L354.00,50.71L354.25,50.75L354.50,50.79L354.75,50.84L355.00,50.89L355.25,50.94L355.50,50.99L355.75,51.05L356.00,51.12L356.25,51.18L356.50,51.25L356.75,51.32L357.00,51.39L357.25,51.46L357.50,51.54L357.75,51.62L358.00,51.70L358.25,51.78L358.50,51.86L358.75,51.94L359.00,52.03L359.25,52.12L359.50,52.20L359.75,52.29L360.00,52.38L360.25,52.47L360.50,52.56L360.75,52.66L361.00,52.77L361.25,52.88L361.50,53.00L361.75,53.13L362.00,53.27L362.25,53.42L362.50,53.57L362.75,53.74L363.00,53.92L363.25,54.11L363.50,54.31L363.75,54.53L364.00,54.75L364.25,55.00L364.50,55.25L364.75,55.53L365.00,55.81L365.25,56.17L365.50,56.65L365.75,57.23L366.00,57.90L366.25,58.65L366.50,59.47L366.75,60.35L367.00,61.27L367.25,62.30L367.50,63.49L367.75,64.84L368.00,66.36L368.25,68.03L368.50,69.88L368.75,72.03L369.00,74.63L369.25,77.65L369.50,81.07L369.75,85.25L370.00,90.36L370.25,96.07L370.50,102.04L370.75,108.13L371.00,114.63L371.25,121.82L371.50,130.00L371.75,141.00L372.00,155.60L372.25,172.50L372.50,190.39L372.75,207.99L373.00,223.99L373.25,237.11L373.50,247.29L373.75,256.97L374.00,266.55L374.25,275.80L374.50,284.47L374.75,292.32L375.00,299.12L375.25,304.63L375.50,308.61L375.75,310.82L376.00,310.86L376.25,307.28L376.50,300.41L376.75,291.00L377.00,279.79L377.25,267.53L377.50,254.98L377.75,242.86L378.00,229.86L378.25,214.03L378.50,196.52L378.75,178.53L379.00,161.26L379.25,145.92L379.50,133.73L379.75,125.07L380.00,117.41L380.25,110.74L380.50,105.35L380.75,100.84L381.00,96.38L381.25,91.91L381.50,87.69L381.75,83.92L382.00,80.85L382.25,78.32L382.50,75.97L382.75,73.78L383.00,71.71L383.25,69.75L383.50,67.93L383.75,66.26L384.00,64.79L384.25,63.46L384.50,62.25L384.75,61.17L385.00,60.23L385.25,59.46L385.50,58.86L385.75,58.38L386.00,57.96L386.25,57.58L386.50,57.23L386.75,56.91L387.00,56.62L387.25,56.35L387.50,56.10L387.75,55.87L388.00,55.65L388.25,55.44L388.50,55.24L388.75,55.05L389.00,54.86L389.25,54.67L389.50,54.48L389.75,54.28L390.00,54.07L390.25,53.85L390.50,53.61L390.75,53.37L391.00,53.12L391.25,52.87L391.50,52.63L391.75,52.38L392.00,52.15L392.25,51.93L392.50,51.72L392.75,51.53L393.00,51.36L393.25,51.23L393.50,51.12L393.75,51.04L394.00,51.00L394.25,51.01L394.50,51.10L394.75,51.25L395.00,51.45L395.25,51.67L395.50,51.89L395.75,52.06L396.00,52.16L396.25,52.16L396.50,52.04L396.75,51.86L397.00,51.63L397.25,51.36L397.50,51.08L397.75,50.80L398.00,50.55L398.25,50.30L398.50,50.04L398.75,49.76L399.00,49.48L399.25,49.20L399.50,48.92L399.75,48.64L400.00,48.38L400.25,48.13L400.50,47.89L400.75,47.68L401.00,47.50L401.25,47.34L401.50,47.22L401.75,47.14L402.00,47.10L402.25,47.10L402.50,47.15L402.75,47.26L403.00,47.40L403.25,47.58L403.50,47.80L403.75,48.06L404.00,48.34L404.25,48.64L404.50,48.97L404.75,49.32L405.00,49.68L405.25,50.09L405.50,50.58L405.75,51.14L406.00,51.76L406.25,52.40L406.50,53.16L406.75,54.12L407.00,55.17L407.25,56.33L407.50,57.48L407.75,58.34L408.00,58.81L408.25,58.85L408.50,58.53L408.75,57.99L409.00,57.49L409.25,57.33L409.50,57.64L409.75,58.41L410.00,59.77L410.25,61.81L410.50,64.32L410.75,67.43L411.00,71.18L411.25,75.26L411.50,80.10L411.75,85.63L412.00,91.28L412.25,96.25L412.50,100.80L412.75,105.50L413.00,109.89L413.25,112.67L413.50,112.68L413.75,110.68L414.00,107.53L414.25,103.86L414.50,100.32L414.75,97.13L415.00,94.26L415.25,91.64L415.50,89.04L415.75,86.54L416.00,84.23L416.25,82.17L416.50,80.46L416.75,79.04L417.00,77.86L417.25,76.82L417.50,75.84L417.75,74.96L418.00,74.24L418.25,73.72L418.50,73.45L418.75,73.48L419.00,73.88L419.25,74.59L419.50,75.57L419.75,76.74L420.00,78.07L420.25,79.80L420.50,82.11L420.75,85.20L421.00,89.11L421.25,93.43L421.50,97.76L421.75,102.29L422.00,107.31L422.25,112.44L422.50,116.25L422.75,117.33L423.00,116.12L423.25,113.64L423.50,110.47L423.75,107.20L424.00,104.39L424.25,102.13L424.50,100.26L424.75,98.65L425.00,97.07L425.25,95.58L425.50,94.25L425.75,93.13L426.00,92.31L426.25,91.84L426.50,91.79L426.75,92.22L427.00,93.04L427.25,94.15L427.50,95.44L427.75,96.79L428.00,98.10L428.25,99.71L428.50,101.82L428.75,104.16L429.00,106.42L429.25,108.32L429.50,109.58L429.75,109.87L430.00,108.58L430.25,105.95L430.50,102.59L430.75,99.13L431.00,96.18L431.25,93.87L431.50,91.87L431.75,89.83L432.00,87.90L432.25,86.21L432.50,84.92L432.75,84.16L433.00,84.08L433.25,84.80L433.50,86.10L433.75,87.78L434.00,89.64L434.25,91.46L434.50,93.12L434.75,94.74L435.00,96.46L435.25,98.27L435.50,100.22L435.75,102.29L436.00,104.46L436.25,106.75L436.50,109.19L436.75,111.81L437.00,114.65L437.25,117.91L437.50,121.69L437.75,125.87L438.00,130.31L438.25,134.85L438.50,139.33L438.75,143.77L439.00,148.31L439.25,152.97L439.50,157.77L439.75,162.75L440.00,167.92L440.25,173.32L440.50,178.96L440.75,185.15L441.00,192.08L441.25,199.63L441.50,207.66L441.75,215.92L442.00,224.18L442.25,232.20L442.50,240.56L442.75,250.33L443.00,259.72L443.25,266.06L443.50,267.11L443.75,265.26L444.00,261.78L444.25,257.18L444.50,251.96L444.75,246.64L445.00,241.72L445.25,237.14L445.50,232.54L445.75,227.83L446.00,223.07L446.25,218.34L446.50,213.70L446.75,209.23L447.00,204.98L447.25,200.74L447.50,196.26L447.75,191.17L448.00,185.72L448.25,180.31L448.50,175.34L448.75,171.19L449.00,168.26L449.25,166.85L449.50,168.37L449.75,173.95L450.00,181.85L450.25,190.23L450.50,200.05L450.75,213.16L451.00,224.13L451.25,227.43L451.50,222.65L451.75,213.52L452.00,203.15L452.25,194.66L452.50,188.40L452.75,182.54L453.00,177.09L453.25,172.11L453.50,167.67L453.75,163.16L454.00,158.59L454.25,154.93L454.50,153.16L454.75,153.79L455.00,156.51L455.25,160.71L455.50,165.74L455.75,170.93L456.00,175.77L456.25,180.83L456.50,186.65L456.75,193.13L457.00,200.28L457.25,208.02L457.50,215.81L457.75,223.31L458.00,230.91L458.25,239.27L458.50,248.39L458.75,256.89L459.00,263.39L459.25,266.49L459.50,265.63L459.75,262.15L460.00,256.72L460.25,250.00L460.50,242.62L460.75,235.22L461.00,228.46L461.25,221.65L461.50,214.05L461.75,206.18L462.00,198.53L462.25,191.64L462.50,186.00L462.75,180.91L463.00,175.99L463.25,172.27L463.50,170.78L463.75,173.81L464.00,181.41L464.25,191.11L464.50,200.43L464.75,210.85L465.00,223.34L465.25,234.61L465.50,241.35L465.75,241.00L466.00,235.96L466.25,229.59L466.50,225.12L466.75,225.11L467.00,227.87L467.25,232.02L467.50,236.37L467.75,240.84L468.00,246.51L468.25,252.30L468.50,256.96L468.75,259.26L469.00,257.11L469.25,249.49L469.50,238.67L469.75,227.00L470.00,216.84L470.25,207.93L470.50,198.71L470.75,189.54L471.00,180.80L471.25,172.87L471.50,166.12L471.75,159.77L472.00,153.61L472.25,148.85L472.50,146.72L472.75,146.39L473.00,146.29L473.25,146.26L473.50,146.28L473.75,146.32L474.00,146.37L474.25,146.41L474.50,146.42L474.75,146.39L475.00,146.29L475.25,145.99L475.50,145.40L475.75,144.58L476.00,143.58L476.25,142.45L476.50,141.26L476.75,140.05L477.00,138.88L477.25,137.54L477.50,135.87L477.75,133.97L478.00,131.98L478.25,130.00L478.50,128.16L478.75,126.57L479.00,125.35L479.25,124.62L479.50,124.57L479.75,125.36L480.00,127.05L480.25,129.47L480.50,132.18L480.75,135.73L481.00,140.57L481.25,145.56L481.50,149.28L481.75,150.53L482.00,149.51L482.25,146.69L482.50,142.12L482.75,136.71L483.00,131.76L483.25,127.63L483.50,124.25L483.75,121.50L484.00,118.86L484.25,116.39L484.50,114.18L484.75,112.28L485.00,110.78L485.25,109.75L485.50,109.25L485.75,109.35L486.00,109.94L486.25,110.90L486.50,112.18L486.75,113.71L487.00,115.45L487.25,117.32L487.50,119.28L487.75,121.25L488.00,123.19L488.25,125.50L488.50,128.51L488.75,132.02L489.00,135.84L489.25,139.77L489.50,143.62L489.75,147.18L490.00,150.27L490.25,152.67L490.50,154.20L490.75,154.66L491.00,153.83L491.25,151.88L491.50,149.03L491.75,145.54L492.00,141.63L492.25,137.56L492.50,133.55L492.75,129.85L493.00,126.68L493.25,123.83L493.50,120.93L493.75,117.99L494.00,115.06L494.25,112.14L494.50,109.27L494.75,106.48L495.00,103.80L495.25,101.24L495.50,98.84L495.75,96.63L496.00,94.63L496.25,92.76L496.50,90.95L496.75,89.21L497.00,87.58L497.25,86.10L497.50,84.78L497.75,83.65L498.00,82.75L498.25,81.97L498.50,81.19L498.75,80.45L499.00,79.76L499.25,79.15L499.50,78.64L499.75,78.26L500.00,78.04L500.25,78.00L500.50,78.22L500.75,79.03L501.00,80.35L501.25,82.09L501.50,84.16L501.75,86.45L502.00,88.87L502.25,92.98L502.50,99.29L502.75,106.12L503.00,111.82L503.25,114.70L503.50,112.94L503.75,106.95L504.00,99.52L504.25,93.40L504.50,87.97L504.75,82.88L505.00,80.01L505.25,78.88L505.50,77.88L505.75,76.98L506.00,76.19L506.25,75.49L506.50,74.86L506.75,74.30L507.00,73.78L507.25,73.32L507.50,72.89L507.75,72.51L508.00,72.15L508.25,71.82L508.50,71.51L508.75,71.21L509.00,70.91L509.25,70.62L509.50,70.33L509.75,70.02L510.00,69.70L510.25,69.42L510.50,69.12L510.75,68.81L511.00,68.50L511.25,68.20L511.50,67.91L511.75,67.64L512.00,67.41L512.25,67.21L512.50,67.06L512.75,66.96L513.00,66.92L513.25,66.88L513.50,66.92L513.75,67.02L514.00,67.18L514.25,67.38L514.50,67.61L514.75,67.85L515.00,68.09L515.25,68.36L515.50,68.66L515.75,68.97L516.00,69.22L516.25,69.37L516.50,69.37L516.75,68.86L517.00,67.65L517.25,65.97L517.50,64.06L517.75,62.14L518.00,60.45L518.25,59.23L518.50,58.71L518.75,58.79L519.00,59.08L519.25,59.55L519.50,60.16L519.75,60.88L520.00,61.67L520.25,62.54L520.50,63.53L520.75,64.63L521.00,65.86L521.25,67.41L521.50,69.41L521.75,71.80L522.00,74.51L522.25,77.44L522.50,80.72L522.75,85.79L523.00,93.45L523.25,104.07L523.50,117.13L523.75,133.01L524.00,151.67L524.25,172.53L524.50,194.86L524.75,215.94L525.00,233.04L525.25,243.42L525.50,244.54L525.75,237.03L526.00,223.17L526.25,205.11L526.50,185.01L526.75,165.02L527.00,147.31L527.25,132.64L527.50,121.12L527.75,111.98L528.00,103.69L528.25,96.26L528.50,89.70L528.75,83.77L529.00,78.29L529.25,73.27L529.50,68.81L529.75,65.04L530.00,62.07L530.25,59.67L530.50,57.54L530.75,55.77L531.00,54.44L531.25,53.42L531.50,52.49L531.75,51.64L532.00,50.86L532.25,50.16L532.50,49.58L532.75,49.11L533.00,48.78L533.25,48.59L533.50,48.40L533.75,48.23L534.00,48.07L534.25,47.92L534.50,47.78L534.75,47.65L535.00,47.54L535.25,47.44L535.50,47.35L535.75,47.28L536.00,47.23L536.25,47.18L536.50,47.16L536.75,47.15L537.00,47.16L537.25,47.19L537.50,47.27L537.75,47.38L538.00,47.51L538.25,47.66L538.50,47.81L538.75,47.97L539.00,48.12L539.25,48.25L539.50,48.36L539.75,48.43L540.00,48.47L540.25,48.34L540.50,47.97L540.75,47.48L541.00,46.96L541.25,46.53L541.50,46.29L541.75,46.26L542.00,46.39L542.25,46.67L542.50,47.04L542.75,47.44L543.00,47.79L543.25,48.08L543.50,48.35L543.75,48.57L544.00,48.71L544.25,48.79L544.50,48.87L544.75,48.92L545.00,48.95" stroke="#00ff00"/>
<path d="M30.50,54.09L30.75,54.10L31.00,54.11L31.25,54.11L31.50,54.12L31.75,54.13L32.00,54.14L32.25,54.15L32.50,54.15L32.75,54.16L33.00,54.17L33.25,54.18L33.50,54.18L33.75,54.19L34.00,54.20L34.25,54.21L34.50,54.22L34.75,54.22L35.00,54.23L35.25,54.24L35.50,54.25L35.75,54.25L36.00,54.26L36.25,54.27L36.50,54.28L36.75,54.29L37.00,54.29L37.25,54.30L37.50,54.31L37.75,54.32L38.00,54.32L38.25,54.33L38.50,54.34L38.75,54.35L39.00,54.36L39.25,54.36L39.50,54.37L39.75,54.38L40.00,54.39L40.25,54.39L40.50,54.40L40.75,54.41L41.00,54.42L41.25,54.42L41.50,54.43L41.75,54.44L42.00,54.44L42.25,54.45L42.50,54.46L42.75,54.46L43.00,54.47L43.25,54.48L43.50,54.48L43.75,54.49L44.00,54.50L44.25,54.50L44.50,54.51L44.75,54.52L45.00,54.52L45.25,54.53L45.50,54.54L45.75,54.54L46.00,54.55L46.25,54.56L46.50,54.56L46.75,54.57L47.00,54.57L47.25,54.58L47.50,54.59L47.75,54.59L48.00,54.60L48.25,54.60L48.50,54.61L48.75,54.62L49.00,54.62L49.25,54.63L49.50,54.64L49.75,54.64L50.00,54.65L50.25,54.65L50.50,54.66L50.75,54.67L51.00,54.67L51.25,54.68L51.50,54.69L51.75,54.69L52.00,54.70L52.25,54.71L52.50,54.71L52.75,54.72L53.00,54.73L53.25,54.74L53.50,54.74L53.75,54.75L54.00,54.76L54.25,54.76L54.50,54.77L54.75,54.78L55.00,54.79L55.25,54.79L55.50,54.80L55.75,54.81L56.00,54.82L56.25,54.83L56.50,54.84L56.75,54.84L57.00,54.85L57.25,54.86L57.50,54.87L57.75,54.88L58.00,54.89L58.25,54.90L58.50,54.91L58.75,54.92L59.00,54.93L59.25,54.94L59.50,54.95L59.75,54.96L60.00,54.97L60.25,54.98L60.50,54.99L60.75,55.00L61.00,55.01L61.25,55.02L61.50,55.03L61.75,55.05L62.00,55.06L62.25,55.07L62.50,55.09L62.75,55.10L63.00,55.12L63.25,55.13L63.50,55.15L63.75,55.16L64.00,55.18L64.25,55.19L64.50,55.21L64.75,55.23L65.00,55.24L65.25,55.26L65.50,55.28L65.75,55.29L66.00,55.31L66.25,55.33L66.50,55.35L66.75,55.37L67.00,55.39L67.25,55.41L67.50,55.42L67.75,55.44L68.00,55.46L68.25,55.48L68.50,55.50L68.75,55.53L69.00,55.55L69.25,55.57L69.50,55.59L69.75,55.61L70.00,55.63L70.25,55.65L70.50,55.67L70.75,55.70L71.00,55.72L71.25,55.74L71.50,55.76L71.75,55.79L72.00,55.81L72.25,55.83L72.50,55.86L72.75,55.88L73.00,55.90L73.25,55.93L73.50,55.95L73.75,55.97L74.00,56.00L74.25,56.02L74.50,56.05L74.75,56.07L75.00,56.09L75.25,56.12L75.50,56.14L75.75,56.17L76.00,56.19L76.25,56.22L76.50,56.24L76.75,56.27L77.00,56.29L77.25,56.32L77.50,56.34L77.75,56.37L78.00,56.39L78.25,56.42L78.50,56.44L78.75,56.47L79.00,56.49L79.25,56.52L79.50,56.55L79.75,56.57L80.00,56.60L80.25,56.62L80.50,56.65L80.75,56.68L81.00,56.71L81.25,56.74L81.50,56.77L81.75,56.81L82.00,56.84L82.25,56.88L82.50,56.92L82.75,56.95L83.00,56.99L83.25,57.03L83.50,57.07L83.75,57.11L84.00,57.15L84.25,57.20L84.50,57.24L84.75,57.28L85.00,57.32L85.25,57.37L85.50,57.41L85.75,57.45L86.00,57.50L86.25,57.54L86.50,57.58L86.75,57.63L87.00,57.67L87.25,57.71L87.50,57.75L87.75,57.80L88.00,57.84L88.25,57.88L88.50,57.92L88.75,57.96L89.00,58.00L89.25,58.04L89.50,58.07L89.75,58.11L90.00,58.15L90.25,58.18L90.50,58.21L90.75,58.25L91.00,58.28L91.25,58.31L91.50,58.34L91.75,58.36L92.00,58.39L92.25,58.41L92.50,58.44L92.75,58.46L93.00,58.48L93.25,58.49L93.50,58.51L93.75,58.52L94.00,58.53L94.25,58.54L94.50,58.55L94.75,58.56L95.00,58.56L95.25,58.56L95.50,58.56L95.75,58.57L96.00,58.57L96.25,58.57L96.50,58.57L96.75,58.57L97.00,58.58L97.25,58.58L97.50,58.58L97.75,58.58L98.00,58.58L98.25,58.59L98.50,58.59L98.75,58.59L99.00,58.59L99.25,58.60L99.50,58.60L99.75,58.60L100.00,58.60L100.25,58.60L100.50,58.60L100.75,58.59L101.00,58.58L101.25,58.57L101.50,58.56L101.75,58.55L102.00,58.53L102.25,58.52L102.50,58.50L102.75,58.49L103.00,58.47L103.25,58.46L103.50,58.44L103.75,58.42L104.00,58.41L104.25,58.40L104.50,58.38L104.75,58.37L105.00,58.36L105.25,58.35L105.50,58.34L105.75,58.33L106.00,58.32L106.25,58.31L106.50,58.30L106.75,58.29L107.00,58.28L107.25,58.28L107.50,58.27L107.75,58.26L108.00,58.25L108.25,58.25L108.50,58.25L108.75,58.25L109.00,58.26L109.25,58.27L109.50,58.28L109.75,58.29L110.00,58.31L110.25,58.34L110.50,58.40L110.75,58.49L111.00,58.59L111.25,58.71L111.50,58.85L111.75,58.99L112.00,59.13L112.25,59.27L112.50,59.40L112.75,59.52L113.00,59.61L113.25,59.68L113.50,59.71L113.75,59.71L114.00,59.68L114.25,59.62L114.50,59.54L114.75,59.44L115.00,59.33L115.25,59.22L115.50,59.10L115.75,58.97L116.00,58.85L116.25,58.72L116.50,58.59L116.75,58.47L117.00,58.35L117.25,58.23L117.50,58.12L117.75,58.01L118.00,57.89L118.25,57.76L118.50,57.62L118.75,57.49L119.00,57.35L119.25,57.21L119.50,57.07L119.75,56.95L120.00,56.82L120.25,56.71L120.50,56.60L120.75,56.50L121.00,56.41L121.25,56.32L121.50,56.25L121.75,56.18L122.00,56.13L122.25,56.09L122.50,56.05L122.75,56.01L123.00,55.97L123.25,55.93L123.50,55.90L123.75,55.86L124.00,55.83L124.25,55.80L124.50,55.76L124.75,55.73L125.00,55.70L125.25,55.67L125.50,55.64L125.75,55.62L126.00,55.59L126.25,55.56L126.50,55.54L126.75,55.51L127.00,55.49L127.25,55.46L127.50,55.44L127.75,55.42L128.00,55.40L128.25,55.38L128.50,55.35L128.75,55.33L129.00,55.31L129.25,55.29L129.50,55.27L129.75,55.25L130.00,55.23L130.25,55.21L130.50,55.20L130.75,55.18L131.00,55.16L131.25,55.14L131.50,55.12L131.75,55.10L132.00,55.08L132.25,55.06L132.50,55.04L132.75,55.02L133.00,55.00L133.25,54.98L133.50,54.96L133.75,54.95L134.00,54.93L134.25,54.91L134.50,54.89L134.75,54.87L135.00,54.86L135.25,54.84L135.50,54.82L135.75,54.80L136.00,54.79L136.25,54.77L136.50,54.75L136.75,54.74L137.00,54.72L137.25,54.71L137.50,54.69L137.75,54.68L138.00,54.66L138.25,54.65L138.50,54.64L138.75,54.62L139.00,54.61L139.25,54.60L139.50,54.58L139.75,54.57L140.00,54.56L140.25,54.55L140.50,54.54L140.75,54.53L141.00,54.52L141.25,54.51L141.50,54.50L141.75,54.49L142.00,54.48L142.25,54.47L142.50,54.47L142.75,54.46L143.00,54.46L143.25,54.45L143.50,54.45L143.75,54.44L144.00,54.44L144.25,54.44L144.50,54.43L144.75,54.43L145.00,54.43L145.25,54.43L145.50,54.43L145.75,54.43L146.00,54.44L146.25,54.44L146.50,54.44L146.75,54.45L147.00,54.46L147.25,54.46L147.50,54.47L147.75,54.48L148.00,54.49L148.25,54.50L148.50,54.51L148.75,54.52L149.00,54.53L149.25,54.54L149.50,54.56L149.75,54.57L150.00,54.58L150.25,54.60L150.50,54.61L150.75,54.63L151.00,54.64L151.25,54.66L151.50,54.67L151.75,54.69L152.00,54.70L152.25,54.72L152.50,54.73L152.75,54.75L153.00,54.77L153.25,54.78L153.50,54.80L153.75,54.82L154.00,54.84L154.25,54.86L154.50,54.88L154.75,54.89L155.00,54.91L155.25,54.93L155.50,54.95L155.75,54.97L156.00,54.99L156.25,55.01L156.50,55.03L156.75,55.05L157.00,55.07L157.25,55.09L157.50,55.11L157.75,55.13L158.00,55.15L158.25,55.17L158.50,55.19L158.75,55.21L159.00,55.23L159.25,55.25L159.50,55.27L159.75,55.29L160.00,55.31L160.25,55.33L160.50,55.35L160.75,55.37L161.00,55.39L161.25,55.42L161.50,55.44L161.75,55.46L162.00,55.48L162.25,55.51L162.50,55.53L162.75,55.55L163.00,55.58L163.25,55.60L163.50,55.63L163.75,55.65L164.00,55.68L164.25,55.70L164.50,55.73L164.75,55.76L165.00,55.78L165.25,55.81L165.50,55.84L165.75,55.86L166.00,55.89L166.25,55.92L166.50,55.95L166.75,55.98L167.00,56.01L167.25,56.04L167.50,56.06L167.75,56.09L168.00,56.12L168.25,56.15L168.50,56.18L168.75,56.21L169.00,56.24L169.25,56.27L169.50,56.31L169.75,56.34L170.00,56.37L170.25,56.40L170.50,56.43L170.75,56.46L171.00,56.49L171.25,56.51L171.50,56.54L171.75,56.57L172.00,56.60L172.25,56.63L172.50,56.65L172.75,56.68L173.00,56.72L173.25,56.75L173.50,56.78L173.75,56.81L174.00,56.85L174.25,56.89L174.50,56.93L174.75,56.97L175.00,57.01L175.25,57.06L175.50,57.11L175.75,57.16L176.00,57.22L176.25,57.28L176.50,57.34L176.75,57.41L177.00,57.48L177.25,57.56L177.50,57.65L177.75,57.76L178.00,57.88L178.25,58.01L178.50,58.17L178.75,58.35L179.00,58.55L179.25,58.77L179.50,59.02L179.75,59.28L180.00,59.56L180.25,59.87L180.50,60.22L180.75,60.60L181.00,61.02L181.25,61.52L181.50,62.15L181.75,62.91L182.00,63.77L182.25,64.75L182.50,65.85L182.75,67.06L183.00,68.68L183.25,70.77L183.50,73.26L183.75,76.04L184.00,79.02L184.25,82.15L184.50,85.34L184.75,88.49L185.00,91.50L185.25,94.27L185.50,96.72L185.75,99.05L186.00,101.31L186.25,103.49L186.50,105.64L186.75,107.75L187.00,109.81L187.25,111.83L187.50,113.80L187.75,115.73L188.00,117.61L188.25,119.47L188.50,121.30L188.75,123.12L189.00,124.96L189.25,126.90L189.50,128.90L189.75,130.91L190.00,132.88L190.25,134.80L190.50,136.65L190.75,138.37L191.00,139.91L191.25,141.21L191.50,142.21L191.75,142.85L192.00,143.08L192.25,142.69L192.50,141.62L192.75,140.00L193.00,137.99L193.25,135.70L193.50,133.30L193.75,130.90L194.00,128.66L194.25,126.37L194.50,123.80L194.75,121.04L195.00,118.20L195.25,115.39L195.50,112.69L195.75,110.21L196.00,108.06L196.25,106.07L196.50,104.09L196.75,102.15L197.00,100.32L197.25,98.67L197.50,97.23L197.75,96.08L198.00,95.26L198.25,94.64L198.50,94.05L198.75,93.55L199.00,93.16L199.25,92.94L199.50,92.92L199.75,93.17L200.00,93.64L200.25,94.28L200.50,95.03L200.75,95.85L201.00,96.75L201.25,97.91L201.50,99.44L201.75,101.20L202.00,103.07L202.25,105.00L202.50,106.94L202.75,108.77L203.00,110.35L203.25,111.55L203.50,112.25L203.75,112.02L204.00,109.79L204.25,106.03L204.50,101.39L204.75,96.50L205.00,92.02L205.25,87.18L205.50,81.60L205.75,76.42L206.00,72.82L206.25,70.36L206.50,68.02L206.75,66.04L207.00,64.68L207.25,63.80L207.50,63.06L207.75,62.38L208.00,61.76L208.25,61.19L208.50,60.67L208.75,60.20L209.00,59.79L209.25,59.44L209.50,59.18L209.75,59.00L210.00,58.91L210.25,58.88L210.50,58.86L210.75,58.83L211.00,58.81L211.25,58.79L211.50,58.77L211.75,58.76L212.00,58.74L212.25,58.73L212.50,58.72L212.75,58.71L213.00,58.70L213.25,58.69L213.50,58.68L213.75,58.67L214.00,58.66L214.25,58.66L214.50,58.65L214.75,58.64L215.00,58.62L215.25,58.61L215.50,58.59L215.75,58.56L216.00,58.52L216.25,58.48L216.50,58.43L216.75,58.38L217.00,58.32L217.25,58.26L217.50,58.19L217.75,58.12L218.00,58.05L218.25,57.97L218.50,57.89L218.75,57.81L219.00,57.73L219.25,57.65L219.50,57.56L219.75,57.48L220.00,57.39L220.25,57.31L220.50,57.23L220.75,57.14L221.00,57.06L221.25,56.98L221.50,56.90L221.75,56.83L222.00,56.76L222.25,56.69L222.50,56.63L222.75,56.57L223.00,56.51L223.25,56.46L223.50,56.42L223.75,56.38L224.00,56.34L224.25,56.32L224.50,56.30L224.75,56.28L225.00,56.28L225.25,56.28L225.50,56.28L225.75,56.28L226.00,56.28L226.25,56.28L226.50,56.28L226.75,56.28L227.00,56.28L227.25,56.28L227.50,56.28L227.75,56.28L228.00,56.28L228.25,56.28L228.50,56.28L228.75,56.28L229.00,56.28L229.25,56.28L229.50,56.28L229.75,56.28L230.00,56.28L230.25,56.28L230.50,56.28L230.75,56.28L231.00,56.28L231.25,56.28L231.50,56.28L231.75,56.28L232.00,56.28L232.25,56.28L232.50,56.28L232.75,56.28L233.00,56.28L233.25,56.28L233.50,56.28L233.75,56.28L234.00,56.28L234.25,56.28L234.50,56.29L234.75,56.29L235.00,56.29L235.25,56.29L235.50,56.29L235.75,56.29L236.00,56.29L236.25,56.29L236.50,56.29L236.75,56.29L237.00,56.29L237.25,56.29L237.50,56.30L237.75,56.30L238.00,56.30L238.25,56.30L238.50,56.30L238.75,56.30L239.00,56.30L239.25,56.30L239.50,56.30L239.75,56.30L240.00,56.30L240.25,56.31L240.50,56.31L240.75,56.31L241.00,56.32L241.25,56.33L241.50,56.33L241.75,56.34L242.00,56.35L242.25,56.36L242.50,56.38L242.75,56.39L243.00,56.40L243.25,56.42L243.50,56.43L243.75,56.45L244.00,56.47L244.25,56.49L244.50,56.51L244.75,56.53L245.00,56.55L245.25,56.57L245.50,56.59L245.75,56.61L246.00,56.63L246.25,56.65L246.50,56.68L246.75,56.70L247.00,56.72L247.25,56.75L247.50,56.77L247.75,56.79L248.00,56.82L248.25,56.84L248.50,56.86L248.75,56.89L249.00,56.91L249.25,56.93L249.50,56.96L249.75,56.98L250.00,57.00L250.25,57.03L250.50,57.05L250.75,57.07L251.00,57.09L251.25,57.11L251.50,57.13L251.75,57.15L252.00,57.17L252.25,57.19L252.50,57.20L252.75,57.22L253.00,57.24L253.25,57.25L253.50,57.27L253.75,57.28L254.00,57.29L254.25,57.30L254.50,57.31L254.75,57.32L255.00,57.33L255.25,57.34L255.50,57.34L255.75,57.35L256.00,57.36L256.25,57.36L256.50,57.37L256.75,57.38L257.00,57.38L257.25,57.39L257.50,57.39L257.75,57.40L258.00,57.40L258.25,57.41L258.50,57.42L258.75,57.42L259.00,57.43L259.25,57.43L259.50,57.44L259.75,57.44L260.00,57.44L260.25,57.45L260.50,57.45L260.75,57.46L261.00,57.46L261.25,57.47L261.50,57.47L261.75,57.48L262.00,57.48L262.25,57.48L262.50,57.49L262.75,57.49L263.00,57.50L263.25,57.50L263.50,57.50L263.75,57.51L264.00,57.51L264.25,57.52L264.50,57.52L264.75,57.53L265.00,57.53L265.25,57.54L265.50,57.54L265.75,57.55L266.00,57.55L266.25,57.56L266.50,57.56L266.75,57.57L267.00,57.57L267.25,57.58L267.50,57.58L267.75,57.59L268.00,57.60L268.25,57.60L268.50,57.61L268.75,57.62L269.00,57.62L269.25,57.63L269.50,57.64L269.75,57.64L270.00,57.65L270.25,57.66L270.50,57.67L270.75,57.68L271.00,57.69L271.25,57.70L271.50,57.71L271.75,57.72L272.00,57.74L272.25,57.75L272.50,57.76L272.75,57.78L273.00,57.79L273.25,57.80L273.50,57.82L273.75,57.83L274.00,57.84L274.25,57.86L274.50,57.87L274.75,57.88L275.00,57.89L275.25,57.91L275.50,57.92L275.75,57.93L276.00,57.94L276.25,57.95L276.50,57.96L276.75,57.97L277.00,57.98L277.25,57.99L277.50,57.99L277.75,58.00L278.00,58.01L278.25,58.01L278.50,58.01L278.75,58.01L279.00,58.02L279.25,58.02L279.50,58.01L279.75,58.01L280.00,58.01L280.25,57.98L280.50,57.90L280.75,57.78L281.00,57.64L281.25,57.48L281.50,57.31L281.75,57.13L282.00,56.97L282.25,56.83L282.50,56.72L282.75,56.65L283.00,56.62L283.25,56.62L283.50,56.64L283.75,56.66L284.00,56.69L284.25,56.73L284.50,56.77L284.75,56.82L285.00,56.88L285.25,56.94L285.50,57.00L285.75,57.07L286.00,57.14L286.25,57.21L286.50,57.29L286.75,57.37L287.00,57.44L287.25,57.52L287.50,57.60L287.75,57.68L288.00,57.75L288.25,57.82L288.50,57.89L288.75,57.96L289.00,58.02L289.25,58.08L289.50,58.13L289.75,58.18L290.00,58.22L290.25,58.26L290.50,58.29L290.75,58.33L291.00,58.36L291.25,58.39L291.50,58.42L291.75,58.45L292.00,58.48L292.25,58.50L292.50,58.53L292.75,58.55L293.00,58.58L293.25,58.60L293.50,58.62L293.75,58.65L294.00,58.67L294.25,58.69L294.50,58.71L294.75,58.73L295.00,58.76L295.25,58.78L295.50,58.80L295.75,58.82L296.00,58.84L296.25,58.86L296.50,58.89L296.75,58.91L297.00,58.94L297.25,58.96L297.50,58.99L297.75,59.01L298.00,59.04L298.25,59.07L298.50,59.10L298.75,59.13L299.00,59.16L299.25,59.20L299.50,59.23L299.75,59.27L300.00,59.31L300.25,59.35L300.50,59.40L300.75,59.45L301.00,59.52L301.25,59.58L301.50,59.66L301.75,59.73L302.00,59.81L302.25,59.90L302.50,59.98L302.75,60.07L303.00,60.17L303.25,60.26L303.50,60.35L303.75,60.45L304.00,60.54L304.25,60.64L304.50,60.74L304.75,60.83L305.00,60.92L305.25,61.01L305.50,61.10L305.75,61.18L306.00,61.27L306.25,61.34L306.50,61.42L306.75,61.49L307.00,61.55L307.25,61.61L307.50,61.66L307.75,61.70L308.00,61.74L308.25,61.77L308.50,61.79L308.75,61.81L309.00,61.81L309.25,61.80L309.50,61.77L309.75,61.72L310.00,61.66L310.25,61.58L310.50,61.49L310.75,61.38L311.00,61.27L311.25,61.14L311.50,61.01L311.75,60.87L312.00,60.73L312.25,60.58L312.50,60.43L312.75,60.29L313.00,60.14L313.25,60.00L313.50,59.86L313.75,59.73L314.00,59.60L314.25,59.49L314.50,59.38L314.75,59.29L315.00,59.21L315.25,59.14L315.50,59.10L315.75,59.07L316.00,59.06L316.25,59.06L316.50,59.06L316.75,59.07L317.00,59.08L317.25,59.10L317.50,59.12L317.75,59.14L318.00,59.16L318.25,59.18L318.50,59.21L318.75,59.24L319.00,59.27L319.25,59.31L319.50,59.35L319.75,59.38L320.00,59.42L320.25,59.46L320.50,59.51L320.75,59.55L321.00,59.59L321.25,59.64L321.50,59.69L321.75,59.73L322.00,59.78L322.25,59.83L322.50,59.88L322.75,59.93L323.00,59.98L323.25,60.03L323.50,60.08L323.75,60.13L324.00,60.18L324.25,60.22L324.50,60.27L324.75,60.32L325.00,60.36L325.25,60.41L325.50,60.45L325.75,60.49L326.00,60.54L326.25,60.58L326.50,60.61L326.75,60.65L327.00,60.68L327.25,60.72L327.50,60.75L327.75,60.77L328.00,60.80L328.25,60.82L328.50,60.84L328.75,60.86L329.00,60.88L329.25,60.89L329.50,60.90L329.75,60.90L330.00,60.90L330.25,60.90L330.50,60.89L330.75,60.87L331.00,60.85L331.25,60.82L331.50,60.79L331.75,60.75L332.00,60.71L332.25,60.67L332.50,60.63L332.75,60.59L333.00,60.55L333.25,60.52L333.50,60.48L333.75,60.45L334.00,60.42L334.25,60.40L334.50,60.38L334.75,60.37L335.00,60.37L335.25,60.38L335.50,60.40L335.75,60.45L336.00,60.51L336.25,60.58L336.50,60.67L336.75,60.76L337.00,60.86L337.25,60.96L337.50,61.07L337.75,61.17L338.00,61.27L338.25,61.37L338.50,61.46L338.75,61.55L339.00,61.62L339.25,61.68L339.50,61.73L339.75,61.76L340.00,61.77L340.25,61.75L340.50,61.71L340.75,61.65L341.00,61.56L341.25,61.45L341.50,61.33L341.75,61.19L342.00,61.04L342.25,60.89L342.50,60.72L342.75,60.56L343.00,60.39L343.25,60.22L343.50,60.06L343.75,59.91L344.00,59.76L344.25,59.63L344.50,59.51L344.75,59.41L345.00,59.33L345.25,59.26L345.50,59.19L345.75,59.12L346.00,59.05L346.25,58.98L346.50,58.92L346.75,58.85L347.00,58.79L347.25,58.72L347.50,58.66L347.75,58.60L348.00,58.54L348.25,58.48L348.50,58.43L348.75,58.38L349.00,58.33L349.25,58.28L349.50,58.24L349.75,58.20L350.00,58.16L350.25,58.13L350.50,58.10L350.75,58.07L351.00,58.05L351.25,58.04L351.50,58.02L351.75,58.02L352.00,58.01L352.25,58.02L352.50,58.03L352.75,58.04L353.00,58.06L353.25,58.08L353.50,58.11L353.75,58.14L354.00,58.18L354.25,58.22L354.50,58.26L354.75,58.31L355.00,58.36L355.25,58.42L355.50,58.47L355.75,58.53L356.00,58.60L356.25,58.67L356.50,58.74L356.75,58.81L357.00,58.88L357.25,58.96L357.50,59.04L357.75,59.11L358.00,59.20L358.25,59.28L358.50,59.36L358.75,59.45L359.00,59.53L359.25,59.62L359.50,59.70L359.75,59.79L360.00,59.88L360.25,59.97L360.50,60.06L360.75,60.15L361.00,60.25L361.25,60.35L361.50,60.46L361.75,60.57L362.00,60.70L362.25,60.82L362.50,60.96L362.75,61.11L363.00,61.27L363.25,61.44L363.50,61.62L363.75,61.81L364.00,62.02L364.25,62.24L364.50,62.48L364.75,62.73L365.00,63.00L365.25,63.35L365.50,63.83L365.75,64.42L366.00,65.11L366.25,65.88L366.50,66.73L366.75,67.64L367.00,68.58L367.25,69.64L367.50,70.87L367.75,72.27L368.00,73.83L368.25,75.53L368.50,77.38L368.75,79.50L369.00,81.99L369.25,84.83L369.50,87.98L369.75,91.69L370.00,96.07L370.25,100.90L370.50,105.99L370.75,111.13L371.00,116.54L371.25,122.69L371.50,130.00L371.75,140.72L372.00,155.76L372.25,173.60L372.50,192.71L372.75,211.56L373.00,228.62L373.25,242.38L373.50,252.97L373.75,263.30L374.00,273.49L374.25,283.31L374.50,292.51L374.75,300.83L375.00,308.02L375.25,313.85L375.50,318.05L375.75,320.38L376.00,320.42L376.25,316.60L376.50,309.25L376.75,299.19L377.00,287.20L377.25,274.09L377.50,260.67L377.75,247.71L378.00,233.98L378.25,217.07L378.50,198.31L378.75,179.13L379.00,160.95L379.25,145.21L379.50,133.34L379.75,125.86L380.00,119.79L380.25,114.67L380.50,110.39L380.75,106.50L381.00,102.33L381.25,97.87L381.50,93.50L381.75,89.55L382.00,86.39L382.25,83.84L382.50,81.48L382.75,79.28L383.00,77.25L383.25,75.38L383.50,73.70L383.75,72.21L384.00,70.95L384.25,69.86L384.50,68.86L384.75,67.97L385.00,67.18L385.25,66.52L385.50,65.97L385.75,65.52L386.00,65.13L386.25,64.79L386.50,64.47L386.75,64.18L387.00,63.92L387.25,63.67L387.50,63.45L387.75,63.23L388.00,63.03L388.25,62.84L388.50,62.66L388.75,62.48L389.00,62.30L389.25,62.12L389.50,61.93L389.75,61.74L390.00,61.54L390.25,61.32L390.50,61.09L390.75,60.84L391.00,60.59L391.25,60.33L391.50,60.08L391.75,59.82L392.00,59.58L392.25,59.35L392.50,59.13L392.75,58.94L393.00,58.76L393.25,58.62L393.50,58.51L393.75,58.44L394.00,58.41L394.25,58.44L394.50,58.56L394.75,58.74L395.00,58.96L395.25,59.19L395.50,59.40L395.75,59.56L396.00,59.64L396.25,59.60L396.50,59.46L396.75,59.24L397.00,58.96L397.25,58.66L397.50,58.34L397.75,58.05L398.00,57.78L398.25,57.54L398.50,57.29L398.75,57.02L399.00,56.74L399.25,56.47L399.50,56.20L399.75,55.93L400.00,55.67L400.25,55.43L400.50,55.20L400.75,55.00L401.00,54.82L401.25,54.68L401.50,54.57L401.75,54.49L402.00,54.46L402.25,54.47L402.50,54.53L402.75,54.64L403.00,54.80L403.25,55.01L403.50,55.25L403.75,55.52L404.00,55.82L404.25,56.14L404.50,56.49L404.75,56.85L405.00,57.21L405.25,57.64L405.50,58.17L405.75,58.78L406.00,59.45L406.25,60.16L406.50,60.93L406.75,61.81L407.00,62.72L407.25,63.76L407.50,64.85L407.75,65.69L408.00,66.10L408.25,65.99L408.50,65.55L408.75,65.00L409.00,64.60L409.25,64.70L409.50,65.36L409.75,66.52L410.00,68.17L410.25,70.28L410.50,72.68L410.75,75.64L411.00,79.33L411.25,83.40L411.50,87.90L411.75,92.87L412.00,98.06L412.25,102.92L412.50,107.44L412.75,112.24L413.00,116.97L413.25,120.12L413.50,120.38L413.75,118.64L414.00,115.73L414.25,112.21L414.50,108.63L414.75,105.30L415.00,102.43L415.25,99.88L415.50,97.32L415.75,94.82L416.00,92.47L416.25,90.33L416.50,88.47L416.75,86.92L417.00,85.66L417.25,84.57L417.50,83.52L417.75,82.58L418.00,81.80L418.25,81.26L418.50,80.98L418.75,81.04L419.00,81.48L419.25,82.25L419.50,83.28L419.75,84.50L420.00,85.86L420.25,87.71L420.50,90.30L420.75,93.60L421.00,97.52L421.25,101.70L421.50,105.80L421.75,110.29L422.00,115.42L422.25,120.45L422.50,124.13L422.75,125.18L423.00,124.13L423.25,121.93L423.50,119.05L423.75,115.94L424.00,113.08L424.25,110.65L424.50,108.74L424.75,107.16L425.00,105.57L425.25,104.05L425.50,102.68L425.75,101.54L426.00,100.69L426.25,100.20L426.50,100.17L426.75,100.60L427.00,101.41L427.25,102.50L427.50,103.76L427.75,105.10L428.00,106.41L428.25,108.05L428.50,110.23L428.75,112.66L429.00,115.02L429.25,117.02L429.50,118.35L429.75,118.69L430.00,117.53L430.25,115.12L430.50,111.99L430.75,108.65L431.00,105.63L431.25,103.21L431.50,101.21L431.75,99.13L432.00,97.12L432.25,95.34L432.50,93.97L432.75,93.17L433.00,93.10L433.25,93.75L433.50,94.96L433.75,96.53L434.00,98.30L434.25,100.08L434.50,101.72L434.75,103.31L435.00,105.00L435.25,106.79L435.50,108.69L435.75,110.69L436.00,112.77L436.25,114.95L436.50,117.23L436.75,119.62L437.00,122.17L437.25,124.99L437.50,128.13L437.75,131.56L438.00,135.23L438.25,139.02L438.50,142.84L438.75,146.73L439.00,150.75L439.25,154.95L439.50,159.35L439.75,163.97L440.00,168.85L440.25,174.01L440.50,179.49L440.75,185.68L441.00,192.84L441.25,200.77L441.50,209.23L441.75,217.97L442.00,226.74L442.25,235.26L442.50,244.35L442.75,255.14L443.00,265.32L443.25,272.13L443.50,273.24L443.75,271.19L444.00,267.36L444.25,262.34L444.50,256.70L444.75,251.02L445.00,245.88L445.25,241.10L445.50,236.18L445.75,231.13L446.00,226.06L446.25,221.06L446.50,216.23L446.75,211.67L447.00,207.50L447.25,203.41L447.50,199.11L447.75,194.50L448.00,189.80L448.25,185.27L448.50,181.19L448.75,177.85L449.00,175.52L449.25,174.53L449.50,175.94L449.75,180.78L450.00,187.57L450.25,194.80L450.50,203.41L450.75,215.02L451.00,224.75L451.25,227.68L451.50,223.52L451.75,215.67L452.00,206.94L452.25,200.10L452.50,195.02L452.75,190.34L453.00,185.99L453.25,181.95L453.50,178.17L453.75,174.06L454.00,169.78L454.25,166.40L454.50,164.87L454.75,165.48L455.00,167.77L455.25,171.21L455.50,175.23L455.75,179.26L456.00,182.96L456.25,186.82L456.50,191.25L456.75,196.35L457.00,202.43L457.25,209.59L457.50,217.30L457.75,225.12L458.00,232.95L458.25,241.88L458.50,252.08L458.75,261.79L459.00,269.28L459.25,272.83L459.50,271.84L459.75,268.11L460.00,262.38L460.25,255.34L460.50,247.65L460.75,240.00L461.00,233.06L461.25,226.19L461.50,218.60L461.75,210.79L462.00,203.24L462.25,196.45L462.50,190.91L462.75,185.93L463.00,181.14L463.25,177.49L463.50,175.96L463.75,178.72L464.00,185.71L464.25,194.68L464.50,203.34L464.75,213.12L465.00,224.90L465.25,235.56L465.50,241.95L465.75,241.82L466.00,238.04L466.25,233.22L466.50,229.80L466.75,229.81L467.00,232.27L467.25,236.01L467.50,239.95L467.75,244.23L468.00,249.76L468.25,255.43L468.50,260.00L468.75,262.23L469.00,260.06L469.25,252.42L469.50,241.61L469.75,229.97L470.00,219.88L470.25,211.11L470.50,202.09L470.75,193.15L471.00,184.62L471.25,176.84L471.50,170.15L471.75,163.78L472.00,157.56L472.25,152.75L472.50,150.58L472.75,150.24L473.00,150.18L473.25,150.18L473.50,150.21L473.75,150.28L474.00,150.35L474.25,150.41L474.50,150.45L474.75,150.44L475.00,150.37L475.25,150.09L475.50,149.50L475.75,148.65L476.00,147.61L476.25,146.44L476.50,145.20L476.75,143.95L477.00,142.76L477.25,141.41L477.50,139.74L477.75,137.86L478.00,135.90L478.25,133.96L478.50,132.18L478.75,130.66L479.00,129.54L479.25,128.93L479.50,129.05L479.75,130.06L480.00,131.99L480.25,134.58L480.50,137.43L480.75,141.37L481.00,146.80L481.25,152.28L481.50,156.18L481.75,157.09L482.00,155.37L482.25,151.76L482.50,146.70L482.75,141.23L483.00,136.63L483.25,133.01L483.50,129.88L483.75,127.16L484.00,124.56L484.25,122.15L484.50,120.00L484.75,118.18L485.00,116.76L485.25,115.81L485.50,115.40L485.75,115.52L486.00,116.05L486.25,116.93L486.50,118.12L486.75,119.56L487.00,121.19L487.25,122.97L487.50,124.83L487.75,126.72L488.00,128.58L488.25,130.86L488.50,133.87L488.75,137.41L489.00,141.28L489.25,145.27L489.50,149.18L489.75,152.81L490.00,155.95L490.25,158.39L490.50,159.93L490.75,160.36L491.00,159.55L491.25,157.65L491.50,154.90L491.75,151.53L492.00,147.74L492.25,143.78L492.50,139.86L492.75,136.20L493.00,133.04L493.25,130.14L493.50,127.16L493.75,124.13L494.00,121.08L494.25,118.04L494.50,115.05L494.75,112.13L495.00,109.31L495.25,106.64L495.50,104.13L495.75,101.82L496.00,99.74L496.25,97.82L496.50,95.95L496.75,94.17L497.00,92.50L497.25,90.97L497.50,89.60L497.75,88.41L498.00,87.43L498.25,86.56L498.50,85.69L498.75,84.86L499.00,84.08L499.25,83.38L499.50,82.80L499.75,82.35L500.00,82.07L500.25,81.98L500.50,82.15L500.75,82.84L501.00,84.01L501.25,85.58L501.50,87.47L501.75,89.58L502.00,91.84L502.25,95.82L502.50,102.04L502.75,108.83L503.00,114.48L503.25,117.34L503.50,115.50L503.75,109.37L504.00,101.86L504.25,95.83L504.50,90.52L504.75,85.65L505.00,82.90L505.25,81.87L505.50,80.96L505.75,80.15L506.00,79.42L506.25,78.78L506.50,78.21L506.75,77.71L507.00,77.25L507.25,76.85L507.50,76.48L507.75,76.16L508.00,75.86L508.25,75.59L508.50,75.34L508.75,75.10L509.00,74.87L509.25,74.64L509.50,74.41L509.75,74.17L510.00,73.91L510.25,73.66L510.50,73.41L510.75,73.15L511.00,72.89L511.25,72.65L511.50,72.42L511.75,72.21L512.00,72.04L512.25,71.90L512.50,71.81L512.75,71.77L513.00,71.78L513.25,71.76L513.50,71.82L513.75,71.95L514.00,72.13L514.25,72.36L514.50,72.62L514.75,72.89L515.00,73.16L515.25,73.44L515.50,73.71L515.75,73.96L516.00,74.15L516.25,74.25L516.50,74.25L516.75,73.77L517.00,72.63L517.25,71.05L517.50,69.24L517.75,67.43L518.00,65.84L518.25,64.68L518.50,64.20L518.75,64.28L519.00,64.56L519.25,65.00L519.50,65.59L519.75,66.30L520.00,67.10L520.25,67.99L520.50,68.97L520.75,70.05L521.00,71.21L521.25,72.61L521.50,74.40L521.75,76.58L522.00,79.16L522.25,82.13L522.50,85.59L522.75,91.22L523.00,99.91L523.25,111.11L523.50,123.85L523.75,139.59L524.00,159.23L524.25,181.26L524.50,204.13L524.75,225.31L525.00,242.27L525.25,252.48L525.50,253.59L525.75,246.15L526.00,232.33L526.25,214.14L526.50,193.61L526.75,172.78L527.00,153.66L527.25,137.62L527.50,125.69L527.75,116.78L528.00,108.76L528.25,101.59L528.50,95.22L528.75,89.50L529.00,84.28L529.25,79.52L529.50,75.26L529.75,71.61L530.00,68.66L530.25,66.18L530.50,63.96L530.75,62.13L531.00,60.82L531.25,59.87L531.50,59.02L531.75,58.24L532.00,57.55L532.25,56.96L532.50,56.46L532.75,56.07L533.00,55.80L533.25,55.63L533.50,55.47L533.75,55.31L534.00,55.16L534.25,55.03L534.50,54.90L534.75,54.79L535.00,54.69L535.25,54.59L535.50,54.51L535.75,54.44L536.00,54.39L536.25,54.34L536.50,54.31L536.75,54.29L537.00,54.28L537.25,54.31L537.50,54.39L537.75,54.51L538.00,54.65L538.25,54.82L538.50,54.99L538.75,55.17L539.00,55.34L539.25,55.48L539.50,55.60L539.75,55.68L540.00,55.71L540.25,55.59L540.50,55.31L540.75,54.91L541.00,54.49L541.25,54.11L541.50,53.84L541.75,53.73L542.00,53.75L542.25,53.93L542.50,54.23L542.75,54.60L543.00,54.96L543.25,55.30L543.50,55.61L543.75,55.86L544.00,56.00L544.25,56.07L544.50,56.13L544.75,56.17L545.00,56.19" stroke="#808000"/>
<path d="M30.50,61.70L30.75,61.71L31.00,61.72L31.25,61.72L31.50,61.73L31.75,61.74L32.00,61.75L32.25,61.76L32.50,61.76L32.75,61.77L33.00,61.78L33.25,61.79L33.50,61.80L33.75,61.80L34.00,61.81L34.25,61.82L34.50,61.83L34.75,61.84L35.00,61.84L35.25,61.85L35.50,61.86L35.75,61.87L36.00,61.88L36.25,61.88L36.50,61.89L36.75,61.90L37.00,61.91L37.25,61.91L37.50,61.92L37.75,61.93L38.00,61.94L38.25,61.95L38.50,61.95L38.75,61.96L39.00,61.97L39.25,61.98L39.50,61.98L39.75,61.99L40.00,62.00L40.25,62.01L40.50,62.02L40.75,62.02L41.00,62.03L41.25,62.04L41.50,62.04L41.75,62.05L42.00,62.06L42.25,62.07L42.50,62.07L42.75,62.08L43.00,62.09L43.25,62.09L43.50,62.10L43.75,62.11L44.00,62.11L44.25,62.12L44.50,62.13L44.75,62.13L45.00,62.14L45.25,62.14L45.50,62.15L45.75,62.16L46.00,62.16L46.25,62.17L46.50,62.18L46.75,62.18L47.00,62.19L47.25,62.19L47.50,62.20L47.75,62.21L48.00,62.21L48.25,62.22L48.50,62.23L48.75,62.23L49.00,62.24L49.25,62.24L49.50,62.25L49.75,62.26L50.00,62.26L50.25,62.27L50.50,62.28L50.75,62.28L51.00,62.29L51.25,62.30L51.50,62.30L51.75,62.31L52.00,62.32L52.25,62.32L52.50,62.33L52.75,62.34L53.00,62.35L53.25,62.35L53.50,62.36L53.75,62.37L54.00,62.38L54.25,62.38L54.50,62.39L54.75,62.40L55.00,62.41L55.25,62.42L55.50,62.42L55.75,62.43L56.00,62.44L56.25,62.45L56.50,62.46L56.75,62.47L57.00,62.48L57.25,62.49L57.50,62.50L57.75,62.51L58.00,62.51L58.25,62.52L58.50,62.54L58.75,62.55L59.00,62.56L59.25,62.57L59.50,62.58L59.75,62.59L60.00,62.60L60.25,62.61L60.50,62.62L60.75,62.64L61.00,62.65L61.25,62.66L61.50,62.68L61.75,62.69L62.00,62.71L62.25,62.72L62.50,62.74L62.75,62.75L63.00,62.77L63.25,62.79L63.50,62.80L63.75,62.82L64.00,62.84L64.25,62.86L64.50,62.88L64.75,62.89L65.00,62.91L65.25,62.93L65.50,62.95L65.75,62.97L66.00,62.99L66.25,63.02L66.50,63.04L66.75,63.06L67.00,63.08L67.25,63.10L67.50,63.13L67.75,63.15L68.00,63.17L68.25,63.20L68.50,63.22L68.75,63.24L69.00,63.27L69.25,63.29L69.50,63.32L69.75,63.34L70.00,63.37L70.25,63.39L70.50,63.42L70.75,63.44L71.00,63.47L71.25,63.50L71.50,63.52L71.75,63.55L72.00,63.58L72.25,63.60L72.50,63.63L72.75,63.66L73.00,63.69L73.25,63.71L73.50,63.74L73.75,63.77L74.00,63.80L74.25,63.83L74.50,63.85L74.75,63.88L75.00,63.91L75.25,63.94L75.50,63.97L75.75,64.00L76.00,64.03L76.25,64.06L76.50,64.09L76.75,64.12L77.00,64.14L77.25,64.17L77.50,64.20L77.75,64.23L78.00,64.26L78.25,64.29L78.50,64.32L78.75,64.35L79.00,64.38L79.25,64.41L79.50,64.44L79.75,64.47L80.00,64.50L80.25,64.53L80.50,64.56L80.75,64.60L81.00,64.63L81.25,64.67L81.50,64.71L81.75,64.75L82.00,64.79L82.25,64.83L82.50,64.88L82.75,64.92L83.00,64.97L83.25,65.01L83.50,65.06L83.75,65.11L84.00,65.16L84.25,65.21L84.50,65.26L84.75,65.31L85.00,65.36L85.25,65.41L85.50,65.46L85.75,65.51L86.00,65.57L86.25,65.62L86.50,65.67L86.75,65.72L87.00,65.77L87.25,65.82L87.50,65.87L87.75,65.92L88.00,65.97L88.25,66.02L88.50,66.07L88.75,66.12L89.00,66.16L89.25,66.21L89.50,66.25L89.75,66.29L90.00,66.34L90.25,66.38L90.50,66.42L90.75,66.45L91.00,66.49L91.25,66.52L91.50,66.56L91.75,66.59L92.00,66.62L92.25,66.65L92.50,66.67L92.75,66.69L93.00,66.72L93.25,66.73L93.50,66.75L93.75,66.77L94.00,66.78L94.25,66.79L94.50,66.79L94.75,66.80L95.00,66.80L95.25,66.80L95.50,66.80L95.75,66.80L96.00,66.80L96.25,66.80L96.50,66.80L96.75,66.80L97.00,66.80L97.25,66.80L97.50,66.80L97.75,66.80L98.00,66.80L98.25,66.80L98.50,66.80L98.75,66.80L99.00,66.80L99.25,66.80L99.50,66.80L99.75,66.80L100.00,66.80L100.25,66.80L100.50,66.79L100.75,66.79L101.00,66.78L101.25,66.76L101.50,66.75L101.75,66.73L102.00,66.72L102.25,66.70L102.50,66.68L102.75,66.66L103.00,66.64L103.25,66.62L103.50,66.60L103.75,66.58L104.00,66.56L104.25,66.54L104.50,66.53L104.75,66.51L105.00,66.50L105.25,66.49L105.50,66.47L105.75,66.46L106.00,66.45L106.25,66.43L106.50,66.42L106.75,66.41L107.00,66.40L107.25,66.38L107.50,66.37L107.75,66.36L108.00,66.35L108.25,66.34L108.50,66.33L108.75,66.32L109.00,66.31L109.25,66.31L109.50,66.30L109.75,66.30L110.00,66.30L110.25,66.32L110.50,66.37L110.75,66.46L111.00,66.56L111.25,66.69L111.50,66.83L111.75,66.97L112.00,67.12L112.25,67.26L112.50,67.39L112.75,67.50L113.00,67.60L113.25,67.66L113.50,67.70L113.75,67.70L114.00,67.67L114.25,67.62L114.50,67.55L114.75,67.46L115.00,67.35L115.25,67.23L115.50,67.11L115.75,66.97L116.00,66.83L116.25,66.68L116.50,66.54L116.75,66.39L117.00,66.26L117.25,66.12L117.50,66.00L117.75,65.88L118.00,65.75L118.25,65.61L118.50,65.47L118.75,65.32L119.00,65.17L119.25,65.02L119.50,64.86L119.75,64.71L120.00,64.57L120.25,64.43L120.50,64.29L120.75,64.17L121.00,64.05L121.25,63.94L121.50,63.85L121.75,63.77L122.00,63.70L122.25,63.64L122.50,63.59L122.75,63.54L123.00,63.49L123.25,63.44L123.50,63.39L123.75,63.35L124.00,63.30L124.25,63.26L124.50,63.22L124.75,63.18L125.00,63.14L125.25,63.11L125.50,63.07L125.75,63.04L126.00,63.01L126.25,62.98L126.50,62.95L126.75,62.92L127.00,62.89L127.25,62.86L127.50,62.83L127.75,62.81L128.00,62.78L128.25,62.76L128.50,62.74L128.75,62.71L129.00,62.69L129.25,62.67L129.50,62.64L129.75,62.62L130.00,62.60L130.25,62.58L130.50,62.56L130.75,62.53L131.00,62.51L131.25,62.49L131.50,62.47L131.75,62.45L132.00,62.43L132.25,62.40L132.50,62.38L132.75,62.36L133.00,62.34L133.25,62.32L133.50,62.30L133.75,62.28L134.00,62.25L134.25,62.23L134.50,62.21L134.75,62.19L135.00,62.17L135.25,62.15L135.50,62.13L135.75,62.11L136.00,62.10L136.25,62.08L136.50,62.06L136.75,62.04L137.00,62.02L137.25,62.00L137.50,61.99L137.75,61.97L138.00,61.95L138.25,61.94L138.50,61.92L138.75,61.91L139.00,61.89L139.25,61.88L139.50,61.86L139.75,61.85L140.00,61.84L140.25,61.82L140.50,61.81L140.75,61.80L141.00,61.79L141.25,61.78L141.50,61.77L141.75,61.76L142.00,61.75L142.25,61.74L142.50,61.74L142.75,61.73L143.00,61.72L143.25,61.72L143.50,61.71L143.75,61.71L144.00,61.71L144.25,61.70L144.50,61.70L144.75,61.70L145.00,61.70L145.25,61.70L145.50,61.70L145.75,61.70L146.00,61.71L146.25,61.71L146.50,61.71L146.75,61.72L147.00,61.72L147.25,61.73L147.50,61.73L147.75,61.74L148.00,61.75L148.25,61.76L148.50,61.77L148.75,61.78L149.00,61.78L149.25,61.79L149.50,61.81L149.75,61.82L150.00,61.83L150.25,61.84L150.50,61.85L150.75,61.87L151.00,61.88L151.25,61.89L151.50,61.91L151.75,61.92L152.00,61.94L152.25,61.95L152.50,61.97L152.75,61.98L153.00,62.00L153.25,62.01L153.50,62.03L153.75,62.05L154.00,62.07L154.25,62.08L154.50,62.10L154.75,62.12L155.00,62.13L155.25,62.15L155.50,62.17L155.75,62.19L156.00,62.21L156.25,62.23L156.50,62.24L156.75,62.26L157.00,62.28L157.25,62.30L157.50,62.32L157.75,62.34L158.00,62.35L158.25,62.37L158.50,62.39L158.75,62.41L159.00,62.43L159.25,62.45L159.50,62.46L159.75,62.48L160.00,62.50L160.25,62.52L160.50,62.54L160.75,62.56L161.00,62.57L161.25,62.59L161.50,62.61L161.75,62.63L162.00,62.66L162.25,62.68L162.50,62.70L162.75,62.72L163.00,62.74L163.25,62.77L163.50,62.79L163.75,62.81L164.00,62.84L164.25,62.86L164.50,62.88L164.75,62.91L165.00,62.93L165.25,62.96L165.50,62.99L165.75,63.01L166.00,63.04L166.25,63.06L166.50,63.09L166.75,63.12L167.00,63.15L167.25,63.17L167.50,63.20L167.75,63.23L168.00,63.26L168.25,63.29L168.50,63.32L168.75,63.35L169.00,63.38L169.25,63.41L169.50,63.44L169.75,63.47L170.00,63.50L170.25,63.53L170.50,63.56L170.75,63.59L171.00,63.62L171.25,63.65L171.50,63.67L171.75,63.70L172.00,63.73L172.25,63.76L172.50,63.79L172.75,63.82L173.00,63.85L173.25,63.88L173.50,63.92L173.75,63.95L174.00,63.99L174.25,64.02L174.50,64.06L174.75,64.10L175.00,64.15L175.25,64.20L175.50,64.24L175.75,64.30L176.00,64.35L176.25,64.41L176.50,64.47L176.75,64.53L177.00,64.60L177.25,64.68L177.50,64.77L177.75,64.87L178.00,64.99L178.25,65.12L178.50,65.26L178.75,65.43L179.00,65.61L179.25,65.80L179.50,66.02L179.75,66.25L180.00,66.50L180.25,66.77L180.50,67.06L180.75,67.37L181.00,67.70L181.25,68.12L181.50,68.68L181.75,69.39L182.00,70.23L182.25,71.19L182.50,72.26L182.75,73.46L183.00,75.13L183.25,77.37L183.50,80.07L183.75,83.12L184.00,86.41L184.25,89.82L184.50,93.25L184.75,96.58L185.00,99.71L185.25,102.52L185.50,104.93L185.75,107.19L186.00,109.38L186.25,111.50L186.50,113.56L186.75,115.57L187.00,117.52L187.25,119.42L187.50,121.29L187.75,123.11L188.00,124.91L188.25,126.68L188.50,128.42L188.75,130.16L189.00,131.93L189.25,133.85L189.50,135.87L189.75,137.94L190.00,139.99L190.25,142.00L190.50,143.90L190.75,145.65L191.00,147.19L191.25,148.47L191.50,149.46L191.75,150.08L192.00,150.30L192.25,149.88L192.50,148.74L192.75,147.01L193.00,144.86L193.25,142.43L193.50,139.88L193.75,137.35L194.00,135.00L194.25,132.61L194.50,129.95L194.75,127.10L195.00,124.20L195.25,121.33L195.50,118.60L195.75,116.12L196.00,114.00L196.25,112.08L196.50,110.16L196.75,108.31L197.00,106.58L197.25,105.02L197.50,103.71L197.75,102.68L198.00,102.00L198.25,101.53L198.50,101.10L198.75,100.74L199.00,100.48L199.25,100.33L199.50,100.32L199.75,100.56L200.00,101.02L200.25,101.65L200.50,102.39L200.75,103.19L201.00,104.00L201.25,105.03L201.50,106.45L201.75,108.15L202.00,110.02L202.25,111.95L202.50,113.82L202.75,115.53L203.00,116.96L203.25,118.01L203.50,118.55L203.75,118.10L204.00,115.38L204.25,110.96L204.50,105.58L204.75,100.01L205.00,95.00L205.25,89.83L205.50,84.12L205.75,79.10L206.00,76.00L206.25,74.44L206.50,73.17L206.75,72.14L207.00,71.31L207.25,70.61L207.50,70.00L207.75,69.42L208.00,68.85L208.25,68.30L208.50,67.79L208.75,67.32L209.00,66.91L209.25,66.58L209.50,66.32L209.75,66.16L210.00,66.10L210.25,66.10L210.50,66.10L210.75,66.11L211.00,66.11L211.25,66.12L211.50,66.12L211.75,66.13L212.00,66.14L212.25,66.14L212.50,66.15L212.75,66.16L213.00,66.16L213.25,66.17L213.50,66.18L213.75,66.18L214.00,66.19L214.25,66.19L214.50,66.20L214.75,66.20L215.00,66.20L215.25,66.20L215.50,66.18L215.75,66.16L216.00,66.13L216.25,66.09L216.50,66.05L216.75,66.00L217.00,65.94L217.25,65.88L217.50,65.81L217.75,65.74L218.00,65.66L218.25,65.58L218.50,65.50L218.75,65.41L219.00,65.32L219.25,65.23L219.50,65.14L219.75,65.04L220.00,64.95L220.25,64.86L220.50,64.76L220.75,64.67L221.00,64.58L221.25,64.49L221.50,64.40L221.75,64.32L222.00,64.24L222.25,64.16L222.50,64.09L222.75,64.02L223.00,63.96L223.25,63.90L223.50,63.85L223.75,63.81L224.00,63.77L224.25,63.74L224.50,63.72L224.75,63.70L225.00,63.70L225.25,63.70L225.50,63.70L225.75,63.70L226.00,63.70L226.25,63.70L226.50,63.70L226.75,63.70L227.00,63.70L227.25,63.70L227.50,63.70L227.75,63.70L228.00,63.70L228.25,63.70L228.50,63.70L228.75,63.70L229.00,63.70L229.25,63.70L229.50,63.70L229.75,63.70L230.00,63.70L230.25,63.70L230.50,63.70L230.75,63.70L231.00,63.70L231.25,63.70L231.50,63.70L231.75,63.70L232.00,63.70L232.25,63.70L232.50,63.70L232.75,63.70L233.00,63.70L233.25,63.70L233.50,63.70L233.75,63.70L234.00,63.70L234.25,63.70L234.50,63.70L234.75,63.70L235.00,63.70L235.25,63.70L235.50,63.70L235.75,63.70L236.00,63.70L236.25,63.70L236.50,63.70L236.75,63.70L237.00,63.70L237.25,63.70L237.50,63.70L237.75,63.70L238.00,63.70L238.25,63.70L238.50,63.70L238.75,63.70L239.00,63.70L239.25,63.70L239.50,63.70L239.75,63.70L240.00,63.70L240.25,63.70L240.50,63.70L240.75,63.71L241.00,63.71L241.25,63.72L241.50,63.73L241.75,63.73L242.00,63.74L242.25,63.76L242.50,63.77L242.75,63.78L243.00,63.80L243.25,63.81L243.50,63.83L243.75,63.84L244.00,63.86L244.25,63.88L244.50,63.90L244.75,63.92L245.00,63.94L245.25,63.96L245.50,63.99L245.75,64.01L246.00,64.03L246.25,64.05L246.50,64.08L246.75,64.10L247.00,64.13L247.25,64.15L247.50,64.18L247.75,64.20L248.00,64.23L248.25,64.25L248.50,64.28L248.75,64.30L249.00,64.33L249.25,64.35L249.50,64.38L249.75,64.40L250.00,64.43L250.25,64.45L250.50,64.48L250.75,64.50L251.00,64.52L251.25,64.55L251.50,64.57L251.75,64.59L252.00,64.61L252.25,64.63L252.50,64.65L252.75,64.67L253.00,64.69L253.25,64.71L253.50,64.72L253.75,64.74L254.00,64.75L254.25,64.77L254.50,64.78L254.75,64.79L255.00,64.80L255.25,64.81L255.50,64.82L255.75,64.83L256.00,64.84L256.25,64.85L256.50,64.85L256.75,64.86L257.00,64.87L257.25,64.88L257.50,64.88L257.75,64.89L258.00,64.90L258.25,64.90L258.50,64.91L258.75,64.92L259.00,64.92L259.25,64.93L259.50,64.94L259.75,64.94L260.00,64.95L260.25,64.95L260.50,64.96L260.75,64.96L261.00,64.97L261.25,64.97L261.50,64.98L261.75,64.98L262.00,64.99L262.25,64.99L262.50,65.00L262.75,65.00L263.00,65.01L263.25,65.01L263.50,65.02L263.75,65.02L264.00,65.03L264.25,65.03L264.50,65.04L264.75,65.05L265.00,65.05L265.25,65.06L265.50,65.06L265.75,65.07L266.00,65.07L266.25,65.08L266.50,65.09L266.75,65.09L267.00,65.10L267.25,65.11L267.50,65.11L267.75,65.12L268.00,65.13L268.25,65.14L268.50,65.15L268.75,65.15L269.00,65.16L269.25,65.17L269.50,65.18L269.75,65.19L270.00,65.20L270.25,65.21L270.50,65.22L270.75,65.24L271.00,65.25L271.25,65.27L271.50,65.29L271.75,65.30L272.00,65.32L272.25,65.34L272.50,65.37L272.75,65.39L273.00,65.41L273.25,65.43L273.50,65.46L273.75,65.48L274.00,65.50L274.25,65.53L274.50,65.55L274.75,65.58L275.00,65.60L275.25,65.62L275.50,65.65L275.75,65.67L276.00,65.69L276.25,65.71L276.50,65.73L276.75,65.75L277.00,65.77L277.25,65.79L277.50,65.81L277.75,65.83L278.00,65.84L278.25,65.85L278.50,65.87L278.75,65.88L279.00,65.88L279.25,65.89L279.50,65.90L279.75,65.90L280.00,65.90L280.25,65.87L280.50,65.77L280.75,65.63L281.00,65.46L281.25,65.26L281.50,65.05L281.75,64.84L282.00,64.64L282.25,64.47L282.50,64.33L282.75,64.23L283.00,64.20L283.25,64.21L283.50,64.22L283.75,64.24L284.00,64.28L284.25,64.31L284.50,64.36L284.75,64.41L285.00,64.47L285.25,64.54L285.50,64.61L285.75,64.68L286.00,64.76L286.25,64.83L286.50,64.91L286.75,65.00L287.00,65.08L287.25,65.16L287.50,65.24L287.75,65.33L288.00,65.40L288.25,65.48L288.50,65.56L288.75,65.63L289.00,65.69L289.25,65.75L289.50,65.81L289.75,65.86L290.00,65.90L290.25,65.94L290.50,65.97L290.75,66.01L291.00,66.04L291.25,66.07L291.50,66.10L291.75,66.13L292.00,66.16L292.25,66.19L292.50,66.22L292.75,66.24L293.00,66.27L293.25,66.29L293.50,66.31L293.75,66.34L294.00,66.36L294.25,66.38L294.50,66.40L294.75,66.42L295.00,66.45L295.25,66.47L295.50,66.49L295.75,66.51L296.00,66.53L296.25,66.56L296.50,66.58L296.75,66.60L297.00,66.63L297.25,66.65L297.50,66.68L297.75,66.70L298.00,66.73L298.25,66.76L298.50,66.79L298.75,66.82L299.00,66.85L299.25,66.89L299.50,66.92L299.75,66.96L300.00,67.00L300.25,67.04L300.50,67.09L300.75,67.15L301.00,67.21L301.25,67.28L301.50,67.35L301.75,67.43L302.00,67.51L302.25,67.59L302.50,67.68L302.75,67.77L303.00,67.86L303.25,67.95L303.50,68.05L303.75,68.14L304.00,68.24L304.25,68.33L304.50,68.43L304.75,68.52L305.00,68.61L305.25,68.70L305.50,68.79L305.75,68.88L306.00,68.96L306.25,69.04L306.50,69.11L306.75,69.18L307.00,69.24L307.25,69.30L307.50,69.35L307.75,69.39L308.00,69.43L308.25,69.46L308.50,69.48L308.75,69.50L309.00,69.50L309.25,69.49L309.50,69.46L309.75,69.41L310.00,69.34L310.25,69.26L310.50,69.16L310.75,69.05L311.00,68.93L311.25,68.79L311.50,68.65L311.75,68.51L312.00,68.36L312.25,68.21L312.50,68.05L312.75,67.89L313.00,67.74L313.25,67.59L313.50,67.45L313.75,67.31L314.00,67.17L314.25,67.05L314.50,66.94L314.75,66.84L315.00,66.76L315.25,66.69L315.50,66.64L315.75,66.61L316.00,66.60L316.25,66.60L316.50,66.61L316.75,66.62L317.00,66.63L317.25,66.64L317.50,66.66L317.75,66.68L318.00,66.71L318.25,66.73L318.50,66.76L318.75,66.79L319.00,66.82L319.25,66.86L319.50,66.90L319.75,66.94L320.00,66.98L320.25,67.02L320.50,67.06L320.75,67.11L321.00,67.15L321.25,67.20L321.50,67.25L321.75,67.30L322.00,67.35L322.25,67.40L322.50,67.45L322.75,67.50L323.00,67.55L323.25,67.60L323.50,67.65L323.75,67.70L324.00,67.75L324.25,67.80L324.50,67.85L324.75,67.90L325.00,67.95L325.25,67.99L325.50,68.04L325.75,68.08L326.00,68.12L326.25,68.16L326.50,68.20L326.75,68.24L327.00,68.28L327.25,68.31L327.50,68.34L327.75,68.37L328.00,68.39L328.25,68.42L328.50,68.44L328.75,68.46L329.00,68.47L329.25,68.48L329.50,68.49L329.75,68.50L330.00,68.50L330.25,68.50L330.50,68.49L330.75,68.47L331.00,68.45L331.25,68.42L331.50,68.39L331.75,68.36L332.00,68.32L332.25,68.29L332.50,68.25L332.75,68.21L333.00,68.18L333.25,68.14L333.50,68.11L333.75,68.08L334.00,68.05L334.25,68.03L334.50,68.01L334.75,68.00L335.00,68.00L335.25,68.01L335.50,68.04L335.75,68.09L336.00,68.16L336.25,68.23L336.50,68.32L336.75,68.42L337.00,68.53L337.25,68.64L337.50,68.75L337.75,68.86L338.00,68.97L338.25,69.08L338.50,69.18L338.75,69.27L339.00,69.34L339.25,69.41L339.50,69.46L339.75,69.49L340.00,69.50L340.25,69.49L340.50,69.44L340.75,69.38L341.00,69.29L341.25,69.18L341.50,69.05L341.75,68.91L342.00,68.76L342.25,68.60L342.50,68.43L342.75,68.26L343.00,68.09L343.25,67.92L343.50,67.76L343.75,67.60L344.00,67.45L344.25,67.31L344.50,67.19L344.75,67.08L345.00,67.00L345.25,66.93L345.50,66.85L345.75,66.78L346.00,66.71L346.25,66.64L346.50,66.56L346.75,66.49L347.00,66.42L347.25,66.36L347.50,66.29L347.75,66.22L348.00,66.16L348.25,66.10L348.50,66.04L348.75,65.99L349.00,65.94L349.25,65.89L349.50,65.84L349.75,65.80L350.00,65.76L350.25,65.72L350.50,65.69L350.75,65.66L351.00,65.64L351.25,65.62L351.50,65.61L351.75,65.60L352.00,65.60L352.25,65.60L352.50,65.61L352.75,65.63L353.00,65.64L353.25,65.67L353.50,65.70L353.75,65.73L354.00,65.77L354.25,65.81L354.50,65.86L354.75,65.91L355.00,65.96L355.25,66.02L355.50,66.08L355.75,66.14L356.00,66.21L356.25,66.27L356.50,66.35L356.75,66.42L357.00,66.50L357.25,66.57L357.50,66.65L357.75,66.73L358.00,66.82L358.25,66.90L358.50,66.98L358.75,67.07L359.00,67.15L359.25,67.24L359.50,67.33L359.75,67.41L360.00,67.50L360.25,67.59L360.50,67.67L360.75,67.76L361.00,67.85L361.25,67.94L361.50,68.03L361.75,68.13L362.00,68.24L362.25,68.35L362.50,68.47L362.75,68.60L363.00,68.73L363.25,68.88L363.50,69.04L363.75,69.22L364.00,69.40L364.25,69.60L364.50,69.82L364.75,70.05L365.00,70.30L365.25,70.64L365.50,71.11L365.75,71.72L366.00,72.43L366.25,73.23L366.50,74.10L366.75,75.03L367.00,76.00L367.25,77.08L367.50,78.36L367.75,79.81L368.00,81.41L368.25,83.15L368.50,85.00L368.75,87.07L369.00,89.45L369.25,92.11L369.50,95.00L369.75,98.23L370.00,101.86L370.25,105.81L370.50,110.00L370.75,114.16L371.00,118.48L371.25,123.56L371.50,130.00L371.75,140.43L372.00,155.93L372.25,174.73L372.50,195.06L372.75,215.18L373.00,233.32L373.25,247.72L373.50,258.73L373.75,269.71L374.00,280.53L374.25,290.93L374.50,300.66L374.75,309.45L375.00,317.05L375.25,323.19L375.50,327.62L375.75,330.08L376.00,330.11L376.25,326.04L376.50,318.22L376.75,307.49L377.00,294.72L377.25,280.75L377.50,266.43L377.75,252.63L378.00,238.16L378.25,220.15L378.50,200.12L378.75,179.73L379.00,160.64L379.25,144.49L379.50,132.96L379.75,126.67L380.00,122.20L380.25,118.65L380.50,115.50L380.75,112.23L381.00,108.36L381.25,103.91L381.50,99.38L381.75,95.25L382.00,92.00L382.25,89.44L382.50,87.05L382.75,84.86L383.00,82.86L383.25,81.09L383.50,79.54L383.75,78.24L384.00,77.20L384.25,76.34L384.50,75.55L384.75,74.85L385.00,74.22L385.25,73.66L385.50,73.18L385.75,72.76L386.00,72.40L386.25,72.09L386.50,71.81L386.75,71.55L387.00,71.31L387.25,71.09L387.50,70.88L387.75,70.69L388.00,70.51L388.25,70.33L388.50,70.16L388.75,70.00L389.00,69.83L389.25,69.66L389.50,69.48L389.75,69.30L390.00,69.10L390.25,68.89L390.50,68.65L390.75,68.40L391.00,68.14L391.25,67.88L391.50,67.61L391.75,67.35L392.00,67.09L392.25,66.85L392.50,66.63L392.75,66.42L393.00,66.25L393.25,66.10L393.50,65.99L393.75,65.92L394.00,65.90L394.25,65.96L394.50,66.10L394.75,66.31L395.00,66.55L395.25,66.79L395.50,67.00L395.75,67.14L396.00,67.20L396.25,67.13L396.50,66.96L396.75,66.70L397.00,66.38L397.25,66.03L397.50,65.69L397.75,65.37L398.00,65.10L398.25,64.86L398.50,64.61L398.75,64.35L399.00,64.08L399.25,63.81L399.50,63.55L399.75,63.29L400.00,63.04L400.25,62.80L400.50,62.59L400.75,62.39L401.00,62.23L401.25,62.09L401.50,61.99L401.75,61.92L402.00,61.90L402.25,61.93L402.50,62.03L402.75,62.17L403.00,62.37L403.25,62.62L403.50,62.90L403.75,63.22L404.00,63.56L404.25,63.92L404.50,64.31L404.75,64.70L405.00,65.10L405.25,65.57L405.50,66.16L405.75,66.84L406.00,67.59L406.25,68.39L406.50,69.21L406.75,70.02L407.00,70.80L407.25,71.73L407.50,72.78L407.75,73.64L408.00,74.00L408.25,73.75L408.50,73.20L408.75,72.65L409.00,72.40L409.25,72.79L409.50,73.87L409.75,75.48L410.00,77.48L410.25,79.70L410.50,82.00L410.75,84.82L411.00,88.46L411.25,92.54L411.50,96.70L411.75,101.05L412.00,105.76L412.25,110.51L412.50,115.00L412.75,119.94L413.00,125.08L413.25,128.69L413.50,129.26L413.75,127.84L414.00,125.24L414.25,121.91L414.50,118.30L414.75,114.85L415.00,112.00L415.25,109.56L415.50,107.07L415.75,104.60L416.00,102.23L416.25,100.01L416.50,98.02L416.75,96.33L417.00,95.00L417.25,93.87L417.50,92.78L417.75,91.78L418.00,90.95L418.25,90.34L418.50,90.03L418.75,90.08L419.00,90.53L419.25,91.33L419.50,92.39L419.75,93.63L420.00,95.00L420.25,96.95L420.50,99.82L420.75,103.33L421.00,107.21L421.25,111.19L421.50,115.00L421.75,119.41L422.00,124.62L422.25,129.52L422.50,133.00L422.75,133.97L423.00,133.07L423.25,131.15L423.50,128.55L423.75,125.60L424.00,122.63L424.25,119.99L424.50,118.00L424.75,116.41L425.00,114.78L425.25,113.20L425.50,111.75L425.75,110.53L426.00,109.62L426.25,109.09L426.50,109.04L426.75,109.44L427.00,110.20L427.25,111.23L427.50,112.44L427.75,113.72L428.00,115.00L428.25,116.64L428.50,118.87L428.75,121.36L429.00,123.79L429.25,125.85L429.50,127.22L429.75,127.57L430.00,126.51L430.25,124.30L430.50,121.35L430.75,118.10L431.00,114.98L431.25,112.41L431.50,110.37L431.75,108.21L432.00,106.09L432.25,104.20L432.50,102.73L432.75,101.86L433.00,101.76L433.25,102.35L433.50,103.47L433.75,104.95L434.00,106.64L434.25,108.37L434.50,110.00L434.75,111.57L435.00,113.25L435.25,115.01L435.50,116.87L435.75,118.80L436.00,120.80L436.25,122.87L436.50,125.00L436.75,127.19L437.00,129.46L437.25,131.85L437.50,134.39L437.75,137.09L438.00,140.00L438.25,143.07L438.50,146.26L438.75,149.61L439.00,153.14L439.25,156.89L439.50,160.88L439.75,165.16L440.00,169.75L440.25,174.69L440.50,180.00L440.75,186.20L441.00,193.59L441.25,201.87L441.50,210.77L441.75,219.99L442.00,229.25L442.25,238.25L442.50,248.09L442.75,259.87L443.00,270.84L443.25,278.11L443.50,279.28L443.75,277.03L444.00,272.86L444.25,267.42L444.50,261.37L444.75,255.35L445.00,250.00L445.25,245.03L445.50,239.79L445.75,234.41L446.00,229.02L446.25,223.75L446.50,218.73L446.75,214.11L447.00,210.00L447.25,206.06L447.50,201.94L447.75,197.83L448.00,193.86L448.25,190.21L448.50,187.04L448.75,184.51L449.00,182.79L449.25,182.02L449.50,183.14L449.75,187.10L450.00,192.74L450.25,198.84L450.50,206.31L450.75,216.58L451.00,225.26L451.25,227.88L451.50,224.20L451.75,217.31L452.00,209.77L452.25,204.08L452.50,199.74L452.75,195.77L453.00,192.06L453.25,188.50L453.50,185.00L453.75,180.99L454.00,176.74L454.25,173.37L454.50,172.00L454.75,172.88L455.00,175.17L455.25,178.36L455.50,181.93L455.75,185.37L456.00,188.42L456.25,191.54L456.50,195.00L456.75,199.08L457.00,204.31L457.25,211.01L457.50,218.70L457.75,226.87L458.00,235.00L458.25,244.58L458.50,256.03L458.75,267.22L459.00,276.04L459.25,280.36L459.50,279.47L459.75,275.70L460.00,269.83L460.25,262.59L460.50,254.73L460.75,246.95L461.00,240.00L461.25,233.26L461.50,225.93L461.75,218.48L462.00,211.37L462.25,205.05L462.50,200.00L462.75,195.57L463.00,191.36L463.25,188.23L463.50,187.00L463.75,189.36L464.00,195.21L464.25,202.71L464.50,210.00L464.75,218.40L465.00,228.60L465.25,237.86L465.50,243.43L465.75,243.88L466.00,243.30L466.25,242.56L466.50,242.06L466.75,242.36L467.00,244.22L467.25,247.01L467.50,250.00L467.75,253.92L468.00,259.21L468.25,264.67L468.50,269.11L468.75,271.33L469.00,269.23L469.25,261.69L469.50,251.05L469.75,239.68L470.00,230.00L470.25,221.88L470.50,213.75L470.75,205.79L471.00,198.22L471.25,191.22L471.50,185.00L471.75,178.80L472.00,172.63L472.25,167.85L472.50,165.80L472.75,165.61L473.00,165.47L473.25,165.37L473.50,165.30L473.75,165.25L474.00,165.21L474.25,165.15L474.50,165.08L474.75,164.96L475.00,164.80L475.25,164.38L475.50,163.56L475.75,162.43L476.00,161.07L476.25,159.56L476.50,157.99L476.75,156.44L477.00,155.00L477.25,153.45L477.50,151.61L477.75,149.60L478.00,147.54L478.25,145.56L478.50,143.77L478.75,142.30L479.00,141.28L479.25,140.81L479.50,141.18L479.75,142.55L480.00,144.67L480.25,147.24L480.50,150.00L480.75,154.40L481.00,160.71L481.25,166.81L481.50,170.60L481.75,170.34L482.00,166.83L482.25,161.34L482.50,155.08L482.75,149.23L483.00,145.00L483.25,141.96L483.50,138.93L483.75,135.98L484.00,133.17L484.25,130.56L484.50,128.24L484.75,126.26L485.00,124.69L485.25,123.60L485.50,123.05L485.75,123.07L486.00,123.50L486.25,124.27L486.50,125.33L486.75,126.62L487.00,128.11L487.25,129.75L487.50,131.47L487.75,133.24L488.00,135.00L488.25,137.20L488.50,140.19L488.75,143.74L489.00,147.65L489.25,151.69L489.50,155.66L489.75,159.34L490.00,162.52L490.25,164.97L490.50,166.50L490.75,166.87L491.00,166.04L491.25,164.19L491.50,161.52L491.75,158.24L492.00,154.57L492.25,150.69L492.50,146.84L492.75,143.20L493.00,140.00L493.25,137.01L493.50,133.92L493.75,130.76L494.00,127.55L494.25,124.35L494.50,121.19L494.75,118.10L495.00,115.12L495.25,112.28L495.50,109.63L495.75,107.19L496.00,105.00L496.25,102.98L496.50,101.03L496.75,99.18L497.00,97.44L497.25,95.83L497.50,94.37L497.75,93.09L498.00,92.00L498.25,91.01L498.50,90.02L498.75,89.06L499.00,88.17L499.25,87.36L499.50,86.67L499.75,86.13L500.00,85.76L500.25,85.60L500.50,85.78L500.75,86.45L501.00,87.57L501.25,89.05L501.50,90.83L501.75,92.84L502.00,95.00L502.25,98.92L502.50,105.12L502.75,111.92L503.00,117.61L503.25,120.51L503.50,118.66L503.75,112.43L504.00,104.89L504.25,99.03L504.50,93.97L504.75,89.50L505.00,87.00L505.25,85.98L505.50,85.05L505.75,84.21L506.00,83.44L506.25,82.76L506.50,82.14L506.75,81.58L507.00,81.08L507.25,80.63L507.50,80.22L507.75,79.85L508.00,79.52L508.25,79.21L508.50,78.92L508.75,78.65L509.00,78.39L509.25,78.13L509.50,77.86L509.75,77.59L510.00,77.30L510.25,77.00L510.50,76.69L510.75,76.37L511.00,76.07L511.25,75.78L511.50,75.50L511.75,75.25L512.00,75.03L512.25,74.85L512.50,74.72L512.75,74.63L513.00,74.60L513.25,74.65L513.50,74.79L513.75,75.00L514.00,75.27L514.25,75.59L514.50,75.94L514.75,76.30L515.00,76.66L515.25,77.01L515.50,77.33L515.75,77.60L516.00,77.81L516.25,77.95L516.50,78.00L516.75,77.61L517.00,76.59L517.25,75.15L517.50,73.50L517.75,71.85L518.00,70.41L518.25,69.39L518.50,69.00L518.75,69.09L519.00,69.37L519.25,69.80L519.50,70.38L519.75,71.09L520.00,71.91L520.25,72.83L520.50,73.83L520.75,74.89L521.00,76.00L521.25,77.27L521.50,78.88L521.75,80.89L522.00,83.36L522.25,86.38L522.50,90.00L522.75,96.15L523.00,105.79L523.25,117.53L523.50,130.00L523.75,145.62L524.00,166.16L524.25,189.30L524.50,212.68L524.75,233.97L525.00,250.82L525.25,260.89L525.50,261.99L525.75,254.65L526.00,240.88L526.25,222.59L526.50,201.68L526.75,180.06L527.00,159.63L527.25,142.31L527.50,130.00L527.75,121.32L528.00,113.57L528.25,106.66L528.50,100.48L528.75,94.96L529.00,90.00L529.25,85.49L529.50,81.45L529.75,77.93L530.00,75.00L530.25,72.45L530.50,70.15L530.75,68.27L531.00,67.00L531.25,66.14L531.50,65.36L531.75,64.68L532.00,64.09L532.25,63.59L532.50,63.19L532.75,62.90L533.00,62.70L533.25,62.56L533.50,62.43L533.75,62.30L534.00,62.19L534.25,62.08L534.50,61.98L534.75,61.89L535.00,61.81L535.25,61.74L535.50,61.68L535.75,61.62L536.00,61.58L536.25,61.55L536.50,61.52L536.75,61.51L537.00,61.50L537.25,61.53L537.50,61.63L537.75,61.77L538.00,61.94L538.25,62.14L538.50,62.35L538.75,62.56L539.00,62.76L539.25,62.93L539.50,63.07L539.75,63.17L540.00,63.20L540.25,63.13L540.50,62.93L540.75,62.66L541.00,62.35L541.25,62.04L541.50,61.77L541.75,61.57L542.00,61.50L542.25,61.59L542.50,61.83L542.75,62.17L543.00,62.57L543.25,62.98L543.50,63.35L543.75,63.64L544.00,63.80L544.25,63.88L544.50,63.94L544.75,63.98L545.00,64.00" stroke="#800080"/>
</g>
<line x1="451.5" y1="229.6" x2="451.5" y2="330.4" stroke="#000" stroke-width="0.8" stroke-dasharray="2,2"/>
<rect x="30.3" y="6.8" width="514.8" height="369.8" fill="none" stroke="#383838" stroke-width="1.7"/>
<line x1="30.30" y1="376.5" x2="30.30" y2="381.5" stroke="#000" stroke-width="1.3"/>
<text x="30.30" y="402.5" text-anchor="middle" font-family='"Liberation Serif", "Times New Roman", serif' font-weight="bold" font-size="14.5">4000</text>
<line x1="181.70" y1="376.5" x2="181.70" y2="381.5" stroke="#000" stroke-width="1.3"/>
<text x="181.70" y="402.5" text-anchor="middle" font-family='"Liberation Serif", "Times New Roman", serif' font-weight="bold" font-size="14.5">3000</text>
<line x1="333.10" y1="376.5" x2="333.10" y2="381.5" stroke="#000" stroke-width="1.3"/>
<text x="333.10" y="402.5" text-anchor="middle" font-family='"Liberation Serif", "Times New Roman", serif' font-weight="bold" font-size="14.5">2000</text>
<line x1="484.50" y1="376.5" x2="484.50" y2="381.5" stroke="#000" stroke-width="1.3"/>
<text x="484.50" y="402.5" text-anchor="middle" font-family='"Liberation Serif", "Times New Roman", serif' font-weight="bold" font-size="14.5">1000</text>
<text transform="translate(104.60,83.00) rotate(-90) scale(1.100,1)" text-anchor="middle" font-family='"Liberation Sans", Arial, sans-serif' font-weight="bold" font-size="10.00">3543</text>
<text transform="translate(125.30,82.30) rotate(-90) scale(1.100,1)" text-anchor="middle" font-family='"Liberation Sans", Arial, sans-serif' font-weight="bold" font-size="10.00">3422</text>
<text transform="translate(196.80,174.00) rotate(-90)" text-anchor="middle" font-family='"Liberation Serif", "Times New Roman", serif' font-weight="bold" font-size="14.50">2930</text>
<text transform="translate(212.90,138.60) rotate(-90)" text-anchor="middle" font-family='"Liberation Serif", "Times New Roman", serif' font-weight="bold" font-size="14.50">2853</text>
<text transform="translate(381.50,350.80) rotate(-90)" text-anchor="middle" font-family='"Liberation Serif", "Times New Roman", serif' font-weight="bold" font-size="14.50">1715</text>
<text transform="translate(445.90,296.30) rotate(-90)" text-anchor="middle" font-family='"Liberation Serif", "Times New Roman", serif' font-weight="bold" font-size="14.50">1268</text>
<text transform="translate(456.70,347.70) rotate(-90)" text-anchor="middle" font-family='"Liberation Serif", "Times New Roman", serif' font-weight="bold" font-size="14.50">1216</text>
<text transform="translate(466.20,299.00) rotate(-90)" text-anchor="middle" font-family='"Liberation Serif", "Times New Roman", serif' font-weight="bold" font-size="14.50">1165</text>
<text transform="translate(476.60,286.20) rotate(-90)" text-anchor="middle" font-family='"Liberation Serif", "Times New Roman", serif' font-weight="bold" font-size="14.50">1100</text>
<line x1="61" y1="232.00" x2="100.3" y2="232.00" stroke="#000000" stroke-width="2"/>
<text x="109" y="237.50" font-family='"Liberation Serif", "Times New Roman", serif' font-weight="bold" font-size="16.8">Control</text>
<line x1="61" y1="253.60" x2="100.3" y2="253.60" stroke="#ff0000" stroke-width="2"/>
<text x="109" y="259.10" font-family='"Liberation Serif", "Times New Roman", serif' font-weight="bold" font-size="16.8">PE 0.1</text>
<line x1="61" y1="275.20" x2="100.3" y2="275.20" stroke="#0000ff" stroke-width="2"/>
<text x="109" y="280.70" font-family='"Liberation Serif", "Times New Roman", serif' font-weight="bold" font-size="16.8">PE 0.15</text>
<line x1="61" y1="296.80" x2="100.3" y2="296.80" stroke="#00ff00" stroke-width="2"/>
<text x="109" y="302.30" font-family='"Liberation Serif", "Times New Roman", serif' font-weight="bold" font-size="16.8">PE 0.2</text>
<line x1="61" y1="318.40" x2="100.3" y2="318.40" stroke="#808000" stroke-width="2"/>
<text x="109" y="323.90" font-family='"Liberation Serif", "Times New Roman", serif' font-weight="bold" font-size="16.8">PE 0.25</text>
<line x1="61" y1="340.00" x2="100.3" y2="340.00" stroke="#800080" stroke-width="2"/>
<text x="109" y="345.50" font-family='"Liberation Serif", "Times New Roman", serif' font-weight="bold" font-size="16.8">PE 0.3</text>
<text x="228.5" y="424.6" font-family='"Liberation Serif", "Times New Roman", serif' font-weight="bold" font-size="17.3">Wavenumber [cm<tspan dy="-5" font-size="10.5">&#8722;1</tspan><tspan dy="5">]</tspan></text>
<text transform="translate(14.6,187) rotate(-90)" text-anchor="middle" font-family='"Liberation Serif", "Times New Roman", serif' font-weight="bold" font-size="17.5">Intensity (a.u.)</text>
</svg>
</body></html>
